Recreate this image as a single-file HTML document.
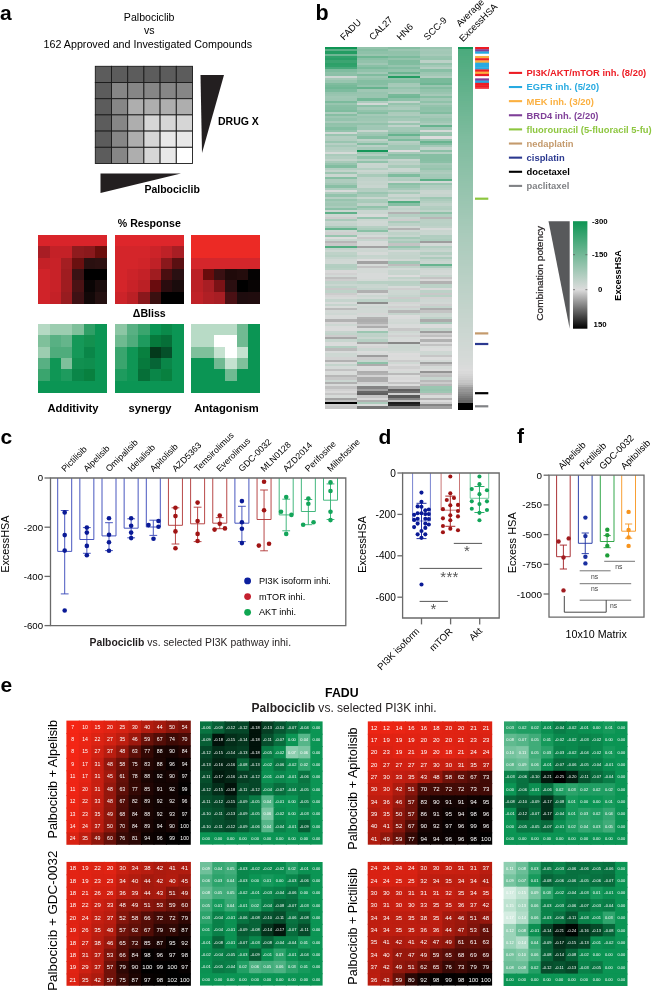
<!DOCTYPE html>
<html><head><meta charset="utf-8"><title>Figure</title>
<style>html,body{margin:0;padding:0;background:#fff}svg{display:block}text{font-family:"Liberation Sans", Arial, sans-serif}</style></head>
<body>
<svg width="652" height="991" viewBox="0 0 652 991">
<rect width="652" height="991" fill="#fff"/>
<text x="0.00" y="19.60" font-size="21" font-weight="700">a</text>
<text x="315.60" y="20.40" font-size="21.5" font-weight="700">b</text>
<text x="0.50" y="443.50" font-size="21" font-weight="700">c</text>
<text x="378.50" y="443.50" font-size="21" font-weight="700">d</text>
<text x="517.00" y="443.00" font-size="21" font-weight="700">f</text>
<text x="0.50" y="691.50" font-size="21" font-weight="700">e</text>
<g id="panel-a">
<text x="149.20" y="21.00" font-size="10.6" text-anchor="middle">Palbociclib</text>
<text x="149.20" y="34.30" font-size="10.6" text-anchor="middle">vs</text>
<text x="147.80" y="47.60" font-size="10.72" text-anchor="middle">162 Approved and Investigated Compounds</text>
<rect x="95.30" y="66.30" width="16.20" height="16.20" fill="#5c5c5c" stroke="#1a1a1a" stroke-width="0.9"/>
<rect x="111.50" y="66.30" width="16.20" height="16.20" fill="#5c5c5c" stroke="#1a1a1a" stroke-width="0.9"/>
<rect x="127.70" y="66.30" width="16.20" height="16.20" fill="#5c5c5c" stroke="#1a1a1a" stroke-width="0.9"/>
<rect x="143.90" y="66.30" width="16.20" height="16.20" fill="#5c5c5c" stroke="#1a1a1a" stroke-width="0.9"/>
<rect x="160.10" y="66.30" width="16.20" height="16.20" fill="#5c5c5c" stroke="#1a1a1a" stroke-width="0.9"/>
<rect x="176.30" y="66.30" width="16.20" height="16.20" fill="#5c5c5c" stroke="#1a1a1a" stroke-width="0.9"/>
<rect x="95.30" y="82.50" width="16.20" height="16.20" fill="#5c5c5c" stroke="#1a1a1a" stroke-width="0.9"/>
<rect x="111.50" y="82.50" width="16.20" height="16.20" fill="#868686" stroke="#1a1a1a" stroke-width="0.9"/>
<rect x="127.70" y="82.50" width="16.20" height="16.20" fill="#868686" stroke="#1a1a1a" stroke-width="0.9"/>
<rect x="143.90" y="82.50" width="16.20" height="16.20" fill="#868686" stroke="#1a1a1a" stroke-width="0.9"/>
<rect x="160.10" y="82.50" width="16.20" height="16.20" fill="#868686" stroke="#1a1a1a" stroke-width="0.9"/>
<rect x="176.30" y="82.50" width="16.20" height="16.20" fill="#868686" stroke="#1a1a1a" stroke-width="0.9"/>
<rect x="95.30" y="98.70" width="16.20" height="16.20" fill="#5c5c5c" stroke="#1a1a1a" stroke-width="0.9"/>
<rect x="111.50" y="98.70" width="16.20" height="16.20" fill="#868686" stroke="#1a1a1a" stroke-width="0.9"/>
<rect x="127.70" y="98.70" width="16.20" height="16.20" fill="#aeaeae" stroke="#1a1a1a" stroke-width="0.9"/>
<rect x="143.90" y="98.70" width="16.20" height="16.20" fill="#aeaeae" stroke="#1a1a1a" stroke-width="0.9"/>
<rect x="160.10" y="98.70" width="16.20" height="16.20" fill="#aeaeae" stroke="#1a1a1a" stroke-width="0.9"/>
<rect x="176.30" y="98.70" width="16.20" height="16.20" fill="#aeaeae" stroke="#1a1a1a" stroke-width="0.9"/>
<rect x="95.30" y="114.90" width="16.20" height="16.20" fill="#5c5c5c" stroke="#1a1a1a" stroke-width="0.9"/>
<rect x="111.50" y="114.90" width="16.20" height="16.20" fill="#868686" stroke="#1a1a1a" stroke-width="0.9"/>
<rect x="127.70" y="114.90" width="16.20" height="16.20" fill="#aeaeae" stroke="#1a1a1a" stroke-width="0.9"/>
<rect x="143.90" y="114.90" width="16.20" height="16.20" fill="#d6d6d6" stroke="#1a1a1a" stroke-width="0.9"/>
<rect x="160.10" y="114.90" width="16.20" height="16.20" fill="#d6d6d6" stroke="#1a1a1a" stroke-width="0.9"/>
<rect x="176.30" y="114.90" width="16.20" height="16.20" fill="#d6d6d6" stroke="#1a1a1a" stroke-width="0.9"/>
<rect x="95.30" y="131.10" width="16.20" height="16.20" fill="#5c5c5c" stroke="#1a1a1a" stroke-width="0.9"/>
<rect x="111.50" y="131.10" width="16.20" height="16.20" fill="#868686" stroke="#1a1a1a" stroke-width="0.9"/>
<rect x="127.70" y="131.10" width="16.20" height="16.20" fill="#aeaeae" stroke="#1a1a1a" stroke-width="0.9"/>
<rect x="143.90" y="131.10" width="16.20" height="16.20" fill="#d6d6d6" stroke="#1a1a1a" stroke-width="0.9"/>
<rect x="160.10" y="131.10" width="16.20" height="16.20" fill="#e8e8e8" stroke="#1a1a1a" stroke-width="0.9"/>
<rect x="176.30" y="131.10" width="16.20" height="16.20" fill="#e8e8e8" stroke="#1a1a1a" stroke-width="0.9"/>
<rect x="95.30" y="147.30" width="16.20" height="16.20" fill="#5c5c5c" stroke="#1a1a1a" stroke-width="0.9"/>
<rect x="111.50" y="147.30" width="16.20" height="16.20" fill="#868686" stroke="#1a1a1a" stroke-width="0.9"/>
<rect x="127.70" y="147.30" width="16.20" height="16.20" fill="#aeaeae" stroke="#1a1a1a" stroke-width="0.9"/>
<rect x="143.90" y="147.30" width="16.20" height="16.20" fill="#d6d6d6" stroke="#1a1a1a" stroke-width="0.9"/>
<rect x="160.10" y="147.30" width="16.20" height="16.20" fill="#e8e8e8" stroke="#1a1a1a" stroke-width="0.9"/>
<rect x="176.30" y="147.30" width="16.20" height="16.20" fill="#ffffff" stroke="#1a1a1a" stroke-width="0.9"/>
<polygon points="200.5,75 224,75 202,153" fill="#231f20"/>
<polygon points="100.5,173.6 181,173.6 100.5,193" fill="#231f20"/>
<text x="218.00" y="124.50" font-size="10.5" font-weight="700">DRUG X</text>
<text x="144.40" y="193.00" font-size="10.5" font-weight="700">Palbociclib</text>
<text x="149.30" y="227.30" font-size="10.6" font-weight="700" text-anchor="middle">% Response</text>
<text x="149.30" y="316.70" font-size="10.6" font-weight="700" text-anchor="middle">ΔBliss</text>
<g shape-rendering="crispEdges">
<rect x="38.10" y="234.80" width="11.72" height="11.72" fill="#d9242a"/>
<rect x="49.52" y="234.80" width="11.72" height="11.72" fill="#d9242a"/>
<rect x="60.93" y="234.80" width="11.72" height="11.72" fill="#d9242a"/>
<rect x="72.35" y="234.80" width="11.72" height="11.72" fill="#d9242a"/>
<rect x="83.77" y="234.80" width="11.72" height="11.72" fill="#d9242a"/>
<rect x="95.18" y="234.80" width="11.72" height="11.72" fill="#d9242a"/>
<rect x="38.10" y="246.22" width="11.72" height="11.72" fill="#a81d24"/>
<rect x="49.52" y="246.22" width="11.72" height="11.72" fill="#c42127"/>
<rect x="60.93" y="246.22" width="11.72" height="11.72" fill="#c42127"/>
<rect x="72.35" y="246.22" width="11.72" height="11.72" fill="#8f1b1e"/>
<rect x="83.77" y="246.22" width="11.72" height="11.72" fill="#8a191c"/>
<rect x="95.18" y="246.22" width="11.72" height="11.72" fill="#6b0e0c"/>
<rect x="38.10" y="257.63" width="11.72" height="11.72" fill="#c42127"/>
<rect x="49.52" y="257.63" width="11.72" height="11.72" fill="#c82228"/>
<rect x="60.93" y="257.63" width="11.72" height="11.72" fill="#a41e22"/>
<rect x="72.35" y="257.63" width="11.72" height="11.72" fill="#6a1010"/>
<rect x="83.77" y="257.63" width="11.72" height="11.72" fill="#2a1010"/>
<rect x="95.18" y="257.63" width="11.72" height="11.72" fill="#2d1111"/>
<rect x="38.10" y="269.05" width="11.72" height="11.72" fill="#d02329"/>
<rect x="49.52" y="269.05" width="11.72" height="11.72" fill="#c82228"/>
<rect x="60.93" y="269.05" width="11.72" height="11.72" fill="#9f1c20"/>
<rect x="72.35" y="269.05" width="11.72" height="11.72" fill="#3a1214"/>
<rect x="83.77" y="269.05" width="11.72" height="11.72" fill="#000000"/>
<rect x="95.18" y="269.05" width="11.72" height="11.72" fill="#000000"/>
<rect x="38.10" y="280.47" width="11.72" height="11.72" fill="#d02329"/>
<rect x="49.52" y="280.47" width="11.72" height="11.72" fill="#c82228"/>
<rect x="60.93" y="280.47" width="11.72" height="11.72" fill="#9f1c20"/>
<rect x="72.35" y="280.47" width="11.72" height="11.72" fill="#4a1214"/>
<rect x="83.77" y="280.47" width="11.72" height="11.72" fill="#0a0505"/>
<rect x="95.18" y="280.47" width="11.72" height="11.72" fill="#1a0c0c"/>
<rect x="38.10" y="291.88" width="11.72" height="11.72" fill="#d02329"/>
<rect x="49.52" y="291.88" width="11.72" height="11.72" fill="#c42127"/>
<rect x="60.93" y="291.88" width="11.72" height="11.72" fill="#981c20"/>
<rect x="72.35" y="291.88" width="11.72" height="11.72" fill="#3e1114"/>
<rect x="83.77" y="291.88" width="11.72" height="11.72" fill="#120808"/>
<rect x="95.18" y="291.88" width="11.72" height="11.72" fill="#241010"/>
</g>
<g shape-rendering="crispEdges">
<rect x="115.40" y="234.80" width="11.72" height="11.72" fill="#de262b"/>
<rect x="126.82" y="234.80" width="11.72" height="11.72" fill="#de262b"/>
<rect x="138.23" y="234.80" width="11.72" height="11.72" fill="#de262b"/>
<rect x="149.65" y="234.80" width="11.72" height="11.72" fill="#de262b"/>
<rect x="161.07" y="234.80" width="11.72" height="11.72" fill="#de262b"/>
<rect x="172.48" y="234.80" width="11.72" height="11.72" fill="#de262b"/>
<rect x="115.40" y="246.22" width="11.72" height="11.72" fill="#d4252a"/>
<rect x="126.82" y="246.22" width="11.72" height="11.72" fill="#d4252a"/>
<rect x="138.23" y="246.22" width="11.72" height="11.72" fill="#d4252a"/>
<rect x="149.65" y="246.22" width="11.72" height="11.72" fill="#cc2329"/>
<rect x="161.07" y="246.22" width="11.72" height="11.72" fill="#be2127"/>
<rect x="172.48" y="246.22" width="11.72" height="11.72" fill="#a81e24"/>
<rect x="115.40" y="257.63" width="11.72" height="11.72" fill="#d4252a"/>
<rect x="126.82" y="257.63" width="11.72" height="11.72" fill="#d4252a"/>
<rect x="138.23" y="257.63" width="11.72" height="11.72" fill="#d02429"/>
<rect x="149.65" y="257.63" width="11.72" height="11.72" fill="#c02127"/>
<rect x="161.07" y="257.63" width="11.72" height="11.72" fill="#8a181c"/>
<rect x="172.48" y="257.63" width="11.72" height="11.72" fill="#5a1012"/>
<rect x="115.40" y="269.05" width="11.72" height="11.72" fill="#d4252a"/>
<rect x="126.82" y="269.05" width="11.72" height="11.72" fill="#cc2329"/>
<rect x="138.23" y="269.05" width="11.72" height="11.72" fill="#c42127"/>
<rect x="149.65" y="269.05" width="11.72" height="11.72" fill="#a01c20"/>
<rect x="161.07" y="269.05" width="11.72" height="11.72" fill="#4a0e10"/>
<rect x="172.48" y="269.05" width="11.72" height="11.72" fill="#2a1012"/>
<rect x="115.40" y="280.47" width="11.72" height="11.72" fill="#d4252a"/>
<rect x="126.82" y="280.47" width="11.72" height="11.72" fill="#c82228"/>
<rect x="138.23" y="280.47" width="11.72" height="11.72" fill="#bb2025"/>
<rect x="149.65" y="280.47" width="11.72" height="11.72" fill="#6a0c0e"/>
<rect x="161.07" y="280.47" width="11.72" height="11.72" fill="#2a0c0e"/>
<rect x="172.48" y="280.47" width="11.72" height="11.72" fill="#1a0c0c"/>
<rect x="115.40" y="291.88" width="11.72" height="11.72" fill="#cc2329"/>
<rect x="126.82" y="291.88" width="11.72" height="11.72" fill="#bb2025"/>
<rect x="138.23" y="291.88" width="11.72" height="11.72" fill="#8a181c"/>
<rect x="149.65" y="291.88" width="11.72" height="11.72" fill="#3a1010"/>
<rect x="161.07" y="291.88" width="11.72" height="11.72" fill="#000000"/>
<rect x="172.48" y="291.88" width="11.72" height="11.72" fill="#000000"/>
</g>
<g shape-rendering="crispEdges">
<rect x="191.20" y="234.80" width="11.72" height="11.72" fill="#ec2a25"/>
<rect x="202.62" y="234.80" width="11.72" height="11.72" fill="#ec2a25"/>
<rect x="214.03" y="234.80" width="11.72" height="11.72" fill="#ec2a25"/>
<rect x="225.45" y="234.80" width="11.72" height="11.72" fill="#ec2a25"/>
<rect x="236.87" y="234.80" width="11.72" height="11.72" fill="#ec2a25"/>
<rect x="248.28" y="234.80" width="11.72" height="11.72" fill="#ec2a25"/>
<rect x="191.20" y="246.22" width="11.72" height="11.72" fill="#ec2a25"/>
<rect x="202.62" y="246.22" width="11.72" height="11.72" fill="#ec2a25"/>
<rect x="214.03" y="246.22" width="11.72" height="11.72" fill="#ec2a25"/>
<rect x="225.45" y="246.22" width="11.72" height="11.72" fill="#ec2a25"/>
<rect x="236.87" y="246.22" width="11.72" height="11.72" fill="#ec2a25"/>
<rect x="248.28" y="246.22" width="11.72" height="11.72" fill="#ec2a25"/>
<rect x="191.20" y="257.63" width="11.72" height="11.72" fill="#d4262b"/>
<rect x="202.62" y="257.63" width="11.72" height="11.72" fill="#d4262b"/>
<rect x="214.03" y="257.63" width="11.72" height="11.72" fill="#d4262b"/>
<rect x="225.45" y="257.63" width="11.72" height="11.72" fill="#d4262b"/>
<rect x="236.87" y="257.63" width="11.72" height="11.72" fill="#d4262b"/>
<rect x="248.28" y="257.63" width="11.72" height="11.72" fill="#d4262b"/>
<rect x="191.20" y="269.05" width="11.72" height="11.72" fill="#bb2025"/>
<rect x="202.62" y="269.05" width="11.72" height="11.72" fill="#6a0c0c"/>
<rect x="214.03" y="269.05" width="11.72" height="11.72" fill="#3a1012"/>
<rect x="225.45" y="269.05" width="11.72" height="11.72" fill="#200a0a"/>
<rect x="236.87" y="269.05" width="11.72" height="11.72" fill="#240c0c"/>
<rect x="248.28" y="269.05" width="11.72" height="11.72" fill="#050303"/>
<rect x="191.20" y="280.47" width="11.72" height="11.72" fill="#bb2025"/>
<rect x="202.62" y="280.47" width="11.72" height="11.72" fill="#a81e24"/>
<rect x="214.03" y="280.47" width="11.72" height="11.72" fill="#7a1216"/>
<rect x="225.45" y="280.47" width="11.72" height="11.72" fill="#2a0e10"/>
<rect x="236.87" y="280.47" width="11.72" height="11.72" fill="#000000"/>
<rect x="248.28" y="280.47" width="11.72" height="11.72" fill="#080404"/>
<rect x="191.20" y="291.88" width="11.72" height="11.72" fill="#c02127"/>
<rect x="202.62" y="291.88" width="11.72" height="11.72" fill="#b01f25"/>
<rect x="214.03" y="291.88" width="11.72" height="11.72" fill="#a81e24"/>
<rect x="225.45" y="291.88" width="11.72" height="11.72" fill="#4a1014"/>
<rect x="236.87" y="291.88" width="11.72" height="11.72" fill="#1e0c0e"/>
<rect x="248.28" y="291.88" width="11.72" height="11.72" fill="#200c0e"/>
</g>
<g shape-rendering="crispEdges">
<rect x="38.10" y="323.80" width="11.72" height="11.72" fill="#b5d9c3"/>
<rect x="49.52" y="323.80" width="11.72" height="11.72" fill="#9ccdb0"/>
<rect x="60.93" y="323.80" width="11.72" height="11.72" fill="#9ccdb0"/>
<rect x="72.35" y="323.80" width="11.72" height="11.72" fill="#7fc09b"/>
<rect x="83.77" y="323.80" width="11.72" height="11.72" fill="#2f9f66"/>
<rect x="95.18" y="323.80" width="11.72" height="11.72" fill="#0b9554"/>
<rect x="38.10" y="335.22" width="11.72" height="11.72" fill="#7fc09b"/>
<rect x="49.52" y="335.22" width="11.72" height="11.72" fill="#58b083"/>
<rect x="60.93" y="335.22" width="11.72" height="11.72" fill="#65b58b"/>
<rect x="72.35" y="335.22" width="11.72" height="11.72" fill="#159858"/>
<rect x="83.77" y="335.22" width="11.72" height="11.72" fill="#13914f"/>
<rect x="95.18" y="335.22" width="11.72" height="11.72" fill="#0b9554"/>
<rect x="38.10" y="346.63" width="11.72" height="11.72" fill="#9ccdb0"/>
<rect x="49.52" y="346.63" width="11.72" height="11.72" fill="#4fac7c"/>
<rect x="60.93" y="346.63" width="11.72" height="11.72" fill="#4fac7c"/>
<rect x="72.35" y="346.63" width="11.72" height="11.72" fill="#159858"/>
<rect x="83.77" y="346.63" width="11.72" height="11.72" fill="#0a8648"/>
<rect x="95.18" y="346.63" width="11.72" height="11.72" fill="#0b9554"/>
<rect x="38.10" y="358.05" width="11.72" height="11.72" fill="#58b083"/>
<rect x="49.52" y="358.05" width="11.72" height="11.72" fill="#0f9655"/>
<rect x="60.93" y="358.05" width="11.72" height="11.72" fill="#7fc09b"/>
<rect x="72.35" y="358.05" width="11.72" height="11.72" fill="#119050"/>
<rect x="83.77" y="358.05" width="11.72" height="11.72" fill="#0f8e4e"/>
<rect x="95.18" y="358.05" width="11.72" height="11.72" fill="#0b9554"/>
<rect x="38.10" y="369.47" width="11.72" height="11.72" fill="#3aa56e"/>
<rect x="49.52" y="369.47" width="11.72" height="11.72" fill="#0f9655"/>
<rect x="60.93" y="369.47" width="11.72" height="11.72" fill="#1e9b5e"/>
<rect x="72.35" y="369.47" width="11.72" height="11.72" fill="#0a8648"/>
<rect x="83.77" y="369.47" width="11.72" height="11.72" fill="#08803f"/>
<rect x="95.18" y="369.47" width="11.72" height="11.72" fill="#0b9554"/>
<rect x="38.10" y="380.88" width="11.72" height="11.72" fill="#0b9554"/>
<rect x="49.52" y="380.88" width="11.72" height="11.72" fill="#0b9554"/>
<rect x="60.93" y="380.88" width="11.72" height="11.72" fill="#0b9554"/>
<rect x="72.35" y="380.88" width="11.72" height="11.72" fill="#0b9554"/>
<rect x="83.77" y="380.88" width="11.72" height="11.72" fill="#0b9554"/>
<rect x="95.18" y="380.88" width="11.72" height="11.72" fill="#0b9554"/>
</g>
<g shape-rendering="crispEdges">
<rect x="115.40" y="323.80" width="11.72" height="11.72" fill="#8cc6a4"/>
<rect x="126.82" y="323.80" width="11.72" height="11.72" fill="#58b083"/>
<rect x="138.23" y="323.80" width="11.72" height="11.72" fill="#3aa56e"/>
<rect x="149.65" y="323.80" width="11.72" height="11.72" fill="#0b9554"/>
<rect x="161.07" y="323.80" width="11.72" height="11.72" fill="#0a8a4a"/>
<rect x="172.48" y="323.80" width="11.72" height="11.72" fill="#0b9554"/>
<rect x="115.40" y="335.22" width="11.72" height="11.72" fill="#6fba90"/>
<rect x="126.82" y="335.22" width="11.72" height="11.72" fill="#4fac7c"/>
<rect x="138.23" y="335.22" width="11.72" height="11.72" fill="#1e9b5e"/>
<rect x="149.65" y="335.22" width="11.72" height="11.72" fill="#067a3c"/>
<rect x="161.07" y="335.22" width="11.72" height="11.72" fill="#066f38"/>
<rect x="172.48" y="335.22" width="11.72" height="11.72" fill="#0b9554"/>
<rect x="115.40" y="346.63" width="11.72" height="11.72" fill="#3aa56e"/>
<rect x="126.82" y="346.63" width="11.72" height="11.72" fill="#0f9655"/>
<rect x="138.23" y="346.63" width="11.72" height="11.72" fill="#08803f"/>
<rect x="149.65" y="346.63" width="11.72" height="11.72" fill="#043a1c"/>
<rect x="161.07" y="346.63" width="11.72" height="11.72" fill="#05502a"/>
<rect x="172.48" y="346.63" width="11.72" height="11.72" fill="#0b9554"/>
<rect x="115.40" y="358.05" width="11.72" height="11.72" fill="#3aa56e"/>
<rect x="126.82" y="358.05" width="11.72" height="11.72" fill="#0f9655"/>
<rect x="138.23" y="358.05" width="11.72" height="11.72" fill="#077a3d"/>
<rect x="149.65" y="358.05" width="11.72" height="11.72" fill="#066536"/>
<rect x="161.07" y="358.05" width="11.72" height="11.72" fill="#0a8648"/>
<rect x="172.48" y="358.05" width="11.72" height="11.72" fill="#0b9554"/>
<rect x="115.40" y="369.47" width="11.72" height="11.72" fill="#1e9b5e"/>
<rect x="126.82" y="369.47" width="11.72" height="11.72" fill="#0f9655"/>
<rect x="138.23" y="369.47" width="11.72" height="11.72" fill="#066f38"/>
<rect x="149.65" y="369.47" width="11.72" height="11.72" fill="#0a8648"/>
<rect x="161.07" y="369.47" width="11.72" height="11.72" fill="#08803f"/>
<rect x="172.48" y="369.47" width="11.72" height="11.72" fill="#0b9554"/>
<rect x="115.40" y="380.88" width="11.72" height="11.72" fill="#0b9554"/>
<rect x="126.82" y="380.88" width="11.72" height="11.72" fill="#0b9554"/>
<rect x="138.23" y="380.88" width="11.72" height="11.72" fill="#0b9554"/>
<rect x="149.65" y="380.88" width="11.72" height="11.72" fill="#0b9554"/>
<rect x="161.07" y="380.88" width="11.72" height="11.72" fill="#0b9554"/>
<rect x="172.48" y="380.88" width="11.72" height="11.72" fill="#0b9554"/>
</g>
<g shape-rendering="crispEdges">
<rect x="191.20" y="323.80" width="11.72" height="11.72" fill="#b8dbc6"/>
<rect x="202.62" y="323.80" width="11.72" height="11.72" fill="#b8dbc6"/>
<rect x="214.03" y="323.80" width="11.72" height="11.72" fill="#b8dbc6"/>
<rect x="225.45" y="323.80" width="11.72" height="11.72" fill="#b8dbc6"/>
<rect x="236.87" y="323.80" width="11.72" height="11.72" fill="#70ba92"/>
<rect x="248.28" y="323.80" width="11.72" height="11.72" fill="#0b9554"/>
<rect x="191.20" y="335.22" width="11.72" height="11.72" fill="#b8dbc6"/>
<rect x="202.62" y="335.22" width="11.72" height="11.72" fill="#b8dbc6"/>
<rect x="214.03" y="335.22" width="11.72" height="11.72" fill="#ffffff"/>
<rect x="225.45" y="335.22" width="11.72" height="11.72" fill="#ffffff"/>
<rect x="236.87" y="335.22" width="11.72" height="11.72" fill="#70ba92"/>
<rect x="248.28" y="335.22" width="11.72" height="11.72" fill="#0b9554"/>
<rect x="191.20" y="346.63" width="11.72" height="11.72" fill="#7fc09b"/>
<rect x="202.62" y="346.63" width="11.72" height="11.72" fill="#7fc09b"/>
<rect x="214.03" y="346.63" width="11.72" height="11.72" fill="#c5e2d0"/>
<rect x="225.45" y="346.63" width="11.72" height="11.72" fill="#ffffff"/>
<rect x="236.87" y="346.63" width="11.72" height="11.72" fill="#c5e2d0"/>
<rect x="248.28" y="346.63" width="11.72" height="11.72" fill="#0b9554"/>
<rect x="191.20" y="358.05" width="11.72" height="11.72" fill="#0b9554"/>
<rect x="202.62" y="358.05" width="11.72" height="11.72" fill="#0b9554"/>
<rect x="214.03" y="358.05" width="11.72" height="11.72" fill="#70ba92"/>
<rect x="225.45" y="358.05" width="11.72" height="11.72" fill="#c5e2d0"/>
<rect x="236.87" y="358.05" width="11.72" height="11.72" fill="#7fc09b"/>
<rect x="248.28" y="358.05" width="11.72" height="11.72" fill="#0b9554"/>
<rect x="191.20" y="369.47" width="11.72" height="11.72" fill="#0b9554"/>
<rect x="202.62" y="369.47" width="11.72" height="11.72" fill="#0b9554"/>
<rect x="214.03" y="369.47" width="11.72" height="11.72" fill="#0b9554"/>
<rect x="225.45" y="369.47" width="11.72" height="11.72" fill="#70ba92"/>
<rect x="236.87" y="369.47" width="11.72" height="11.72" fill="#0b9554"/>
<rect x="248.28" y="369.47" width="11.72" height="11.72" fill="#0b9554"/>
<rect x="191.20" y="380.88" width="11.72" height="11.72" fill="#0b9554"/>
<rect x="202.62" y="380.88" width="11.72" height="11.72" fill="#0b9554"/>
<rect x="214.03" y="380.88" width="11.72" height="11.72" fill="#0b9554"/>
<rect x="225.45" y="380.88" width="11.72" height="11.72" fill="#0b9554"/>
<rect x="236.87" y="380.88" width="11.72" height="11.72" fill="#0b9554"/>
<rect x="248.28" y="380.88" width="11.72" height="11.72" fill="#0b9554"/>
</g>
<text x="73.00" y="412.00" font-size="11.2" font-weight="700" text-anchor="middle">Additivity</text>
<text x="150.00" y="412.00" font-size="11.2" font-weight="700" text-anchor="middle">synergy</text>
<text x="226.50" y="412.00" font-size="11.2" font-weight="700" text-anchor="middle">Antagonism</text>
</g>
<g id="panel-b">
<g shape-rendering="crispEdges">
<rect x="325.00" y="47.00" width="31.90" height="2.53" fill="#0e9554"/>
<rect x="356.70" y="47.00" width="31.90" height="2.53" fill="#92c3ab"/>
<rect x="388.40" y="47.00" width="31.90" height="2.53" fill="#86bea3"/>
<rect x="420.10" y="47.00" width="31.90" height="2.53" fill="#99c5b0"/>
<rect x="325.00" y="49.23" width="31.90" height="2.53" fill="#5aaf86"/>
<rect x="356.70" y="49.23" width="31.90" height="2.53" fill="#86bea3"/>
<rect x="388.40" y="49.23" width="31.90" height="2.53" fill="#9cc6b2"/>
<rect x="420.10" y="49.23" width="31.90" height="2.53" fill="#a5c9b8"/>
<rect x="325.00" y="51.47" width="31.90" height="2.53" fill="#239c62"/>
<rect x="356.70" y="51.47" width="31.90" height="2.53" fill="#8ec1a9"/>
<rect x="388.40" y="51.47" width="31.90" height="2.53" fill="#91c2aa"/>
<rect x="420.10" y="51.47" width="31.90" height="2.53" fill="#a2c8b6"/>
<rect x="325.00" y="53.70" width="31.90" height="2.53" fill="#6eb693"/>
<rect x="356.70" y="53.70" width="31.90" height="2.53" fill="#99c5af"/>
<rect x="388.40" y="53.70" width="31.90" height="2.53" fill="#93c3ac"/>
<rect x="420.10" y="53.70" width="31.90" height="2.53" fill="#a7cab9"/>
<rect x="325.00" y="55.93" width="31.90" height="2.53" fill="#30a16b"/>
<rect x="356.70" y="55.93" width="31.90" height="2.53" fill="#6eb693"/>
<rect x="388.40" y="55.93" width="31.90" height="2.53" fill="#7cbb9d"/>
<rect x="420.10" y="55.93" width="31.90" height="2.53" fill="#98c4af"/>
<rect x="325.00" y="58.16" width="31.90" height="2.53" fill="#299e66"/>
<rect x="356.70" y="58.16" width="31.90" height="2.53" fill="#8ac0a6"/>
<rect x="388.40" y="58.16" width="31.90" height="2.53" fill="#94c3ac"/>
<rect x="420.10" y="58.16" width="31.90" height="2.53" fill="#95c4ad"/>
<rect x="325.00" y="60.40" width="31.90" height="2.53" fill="#3ba471"/>
<rect x="356.70" y="60.40" width="31.90" height="2.53" fill="#92c2ab"/>
<rect x="388.40" y="60.40" width="31.90" height="2.53" fill="#80bc9f"/>
<rect x="420.10" y="60.40" width="31.90" height="2.53" fill="#bcd1c7"/>
<rect x="325.00" y="62.63" width="31.90" height="2.53" fill="#2da068"/>
<rect x="356.70" y="62.63" width="31.90" height="2.53" fill="#9fc7b4"/>
<rect x="388.40" y="62.63" width="31.90" height="2.53" fill="#81bda0"/>
<rect x="420.10" y="62.63" width="31.90" height="2.53" fill="#94c3ac"/>
<rect x="325.00" y="64.86" width="31.90" height="2.53" fill="#30a16b"/>
<rect x="356.70" y="64.86" width="31.90" height="2.53" fill="#8ac0a6"/>
<rect x="388.40" y="64.86" width="31.90" height="2.53" fill="#96c4ae"/>
<rect x="420.10" y="64.86" width="31.90" height="2.53" fill="#a4c9b7"/>
<rect x="325.00" y="67.09" width="31.90" height="2.53" fill="#48a97b"/>
<rect x="356.70" y="67.09" width="31.90" height="2.53" fill="#7cbb9d"/>
<rect x="388.40" y="67.09" width="31.90" height="2.53" fill="#83bda2"/>
<rect x="420.10" y="67.09" width="31.90" height="2.53" fill="#b5cec2"/>
<rect x="325.00" y="69.33" width="31.90" height="2.53" fill="#7fbc9f"/>
<rect x="356.70" y="69.33" width="31.90" height="2.53" fill="#90c2aa"/>
<rect x="388.40" y="69.33" width="31.90" height="2.53" fill="#93c3ac"/>
<rect x="420.10" y="69.33" width="31.90" height="2.53" fill="#88bfa5"/>
<rect x="325.00" y="71.56" width="31.90" height="2.53" fill="#8ec1a8"/>
<rect x="356.70" y="71.56" width="31.90" height="2.53" fill="#a2c8b6"/>
<rect x="388.40" y="71.56" width="31.90" height="2.53" fill="#6cb592"/>
<rect x="420.10" y="71.56" width="31.90" height="2.53" fill="#9cc6b2"/>
<rect x="325.00" y="73.79" width="31.90" height="2.53" fill="#8bc0a7"/>
<rect x="356.70" y="73.79" width="31.90" height="2.53" fill="#80bc9f"/>
<rect x="388.40" y="73.79" width="31.90" height="2.53" fill="#95c4ad"/>
<rect x="420.10" y="73.79" width="31.90" height="2.53" fill="#a1c8b5"/>
<rect x="325.00" y="76.03" width="31.90" height="2.53" fill="#ced7d3"/>
<rect x="356.70" y="76.03" width="31.90" height="2.53" fill="#9ec7b3"/>
<rect x="388.40" y="76.03" width="31.90" height="2.53" fill="#239c62"/>
<rect x="420.10" y="76.03" width="31.90" height="2.53" fill="#b2cdc0"/>
<rect x="325.00" y="78.26" width="31.90" height="2.53" fill="#a6c9b8"/>
<rect x="356.70" y="78.26" width="31.90" height="2.53" fill="#94c3ac"/>
<rect x="388.40" y="78.26" width="31.90" height="2.53" fill="#90c2aa"/>
<rect x="420.10" y="78.26" width="31.90" height="2.53" fill="#79ba9a"/>
<rect x="325.00" y="80.49" width="31.90" height="2.53" fill="#98c5af"/>
<rect x="356.70" y="80.49" width="31.90" height="2.53" fill="#84bea2"/>
<rect x="388.40" y="80.49" width="31.90" height="2.53" fill="#87bfa4"/>
<rect x="420.10" y="80.49" width="31.90" height="2.53" fill="#79ba9b"/>
<rect x="325.00" y="82.72" width="31.90" height="2.53" fill="#7fbc9e"/>
<rect x="356.70" y="82.72" width="31.90" height="2.53" fill="#86bea3"/>
<rect x="388.40" y="82.72" width="31.90" height="2.53" fill="#a4c9b7"/>
<rect x="420.10" y="82.72" width="31.90" height="2.53" fill="#6db693"/>
<rect x="325.00" y="84.96" width="31.90" height="2.53" fill="#77b999"/>
<rect x="356.70" y="84.96" width="31.90" height="2.53" fill="#93c3ac"/>
<rect x="388.40" y="84.96" width="31.90" height="2.53" fill="#a7cab9"/>
<rect x="420.10" y="84.96" width="31.90" height="2.53" fill="#99c5b0"/>
<rect x="325.00" y="87.19" width="31.90" height="2.53" fill="#70b795"/>
<rect x="356.70" y="87.19" width="31.90" height="2.53" fill="#66b38e"/>
<rect x="388.40" y="87.19" width="31.90" height="2.53" fill="#95c4ad"/>
<rect x="420.10" y="87.19" width="31.90" height="2.53" fill="#83bda1"/>
<rect x="325.00" y="89.42" width="31.90" height="2.53" fill="#7dbb9e"/>
<rect x="356.70" y="89.42" width="31.90" height="2.53" fill="#a0c7b4"/>
<rect x="388.40" y="89.42" width="31.90" height="2.53" fill="#a2c8b6"/>
<rect x="420.10" y="89.42" width="31.90" height="2.53" fill="#92c3ab"/>
<rect x="325.00" y="91.65" width="31.90" height="2.53" fill="#94c3ad"/>
<rect x="356.70" y="91.65" width="31.90" height="2.53" fill="#97c4af"/>
<rect x="388.40" y="91.65" width="31.90" height="2.53" fill="#abcbbb"/>
<rect x="420.10" y="91.65" width="31.90" height="2.53" fill="#9ac5b1"/>
<rect x="325.00" y="93.89" width="31.90" height="2.53" fill="#99c5b0"/>
<rect x="356.70" y="93.89" width="31.90" height="2.53" fill="#9ac5b0"/>
<rect x="388.40" y="93.89" width="31.90" height="2.53" fill="#77b999"/>
<rect x="420.10" y="93.89" width="31.90" height="2.53" fill="#a6c9b8"/>
<rect x="325.00" y="96.12" width="31.90" height="2.53" fill="#a1c8b5"/>
<rect x="356.70" y="96.12" width="31.90" height="2.53" fill="#9ac5b0"/>
<rect x="388.40" y="96.12" width="31.90" height="2.53" fill="#71b795"/>
<rect x="420.10" y="96.12" width="31.90" height="2.53" fill="#87bfa4"/>
<rect x="325.00" y="98.35" width="31.90" height="2.53" fill="#9fc7b4"/>
<rect x="356.70" y="98.35" width="31.90" height="2.53" fill="#74b897"/>
<rect x="388.40" y="98.35" width="31.90" height="2.53" fill="#8ec1a9"/>
<rect x="420.10" y="98.35" width="31.90" height="2.53" fill="#a2c8b6"/>
<rect x="325.00" y="100.59" width="31.90" height="2.53" fill="#7cbb9d"/>
<rect x="356.70" y="100.59" width="31.90" height="2.53" fill="#acccbd"/>
<rect x="388.40" y="100.59" width="31.90" height="2.53" fill="#c1d3ca"/>
<rect x="420.10" y="100.59" width="31.90" height="2.53" fill="#8fc2a9"/>
<rect x="325.00" y="102.82" width="31.90" height="2.53" fill="#98c5af"/>
<rect x="356.70" y="102.82" width="31.90" height="2.53" fill="#d2d8d5"/>
<rect x="388.40" y="102.82" width="31.90" height="2.53" fill="#95c3ad"/>
<rect x="420.10" y="102.82" width="31.90" height="2.53" fill="#a6c9b8"/>
<rect x="325.00" y="105.05" width="31.90" height="2.53" fill="#89bfa5"/>
<rect x="356.70" y="105.05" width="31.90" height="2.53" fill="#8dc1a8"/>
<rect x="388.40" y="105.05" width="31.90" height="2.53" fill="#a5c9b7"/>
<rect x="420.10" y="105.05" width="31.90" height="2.53" fill="#94c3ac"/>
<rect x="325.00" y="107.28" width="31.90" height="2.53" fill="#86bea3"/>
<rect x="356.70" y="107.28" width="31.90" height="2.53" fill="#a4c9b7"/>
<rect x="388.40" y="107.28" width="31.90" height="2.53" fill="#acccbd"/>
<rect x="420.10" y="107.28" width="31.90" height="2.53" fill="#8dc1a8"/>
<rect x="325.00" y="109.52" width="31.90" height="2.53" fill="#7ebc9e"/>
<rect x="356.70" y="109.52" width="31.90" height="2.53" fill="#93c3ac"/>
<rect x="388.40" y="109.52" width="31.90" height="2.53" fill="#93c3ab"/>
<rect x="420.10" y="109.52" width="31.90" height="2.53" fill="#90c2aa"/>
<rect x="325.00" y="111.75" width="31.90" height="2.53" fill="#adccbd"/>
<rect x="356.70" y="111.75" width="31.90" height="2.53" fill="#85bea2"/>
<rect x="388.40" y="111.75" width="31.90" height="2.53" fill="#abcbbb"/>
<rect x="420.10" y="111.75" width="31.90" height="2.53" fill="#81bda0"/>
<rect x="325.00" y="113.98" width="31.90" height="2.53" fill="#86bea3"/>
<rect x="356.70" y="113.98" width="31.90" height="2.53" fill="#a4c9b7"/>
<rect x="388.40" y="113.98" width="31.90" height="2.53" fill="#aeccbd"/>
<rect x="420.10" y="113.98" width="31.90" height="2.53" fill="#a8caba"/>
<rect x="325.00" y="116.21" width="31.90" height="2.53" fill="#9ec7b3"/>
<rect x="356.70" y="116.21" width="31.90" height="2.53" fill="#9ac5b1"/>
<rect x="388.40" y="116.21" width="31.90" height="2.53" fill="#9ac5b1"/>
<rect x="420.10" y="116.21" width="31.90" height="2.53" fill="#a3c8b6"/>
<rect x="325.00" y="118.45" width="31.90" height="2.53" fill="#94c3ad"/>
<rect x="356.70" y="118.45" width="31.90" height="2.53" fill="#9ec7b3"/>
<rect x="388.40" y="118.45" width="31.90" height="2.53" fill="#a4c9b7"/>
<rect x="420.10" y="118.45" width="31.90" height="2.53" fill="#98c5af"/>
<rect x="325.00" y="120.68" width="31.90" height="2.53" fill="#a9caba"/>
<rect x="356.70" y="120.68" width="31.90" height="2.53" fill="#a5c9b7"/>
<rect x="388.40" y="120.68" width="31.90" height="2.53" fill="#c2d3cb"/>
<rect x="420.10" y="120.68" width="31.90" height="2.53" fill="#a0c7b4"/>
<rect x="325.00" y="122.91" width="31.90" height="2.53" fill="#91c2aa"/>
<rect x="356.70" y="122.91" width="31.90" height="2.53" fill="#92c2ab"/>
<rect x="388.40" y="122.91" width="31.90" height="2.53" fill="#99c5b0"/>
<rect x="420.10" y="122.91" width="31.90" height="2.53" fill="#adccbd"/>
<rect x="325.00" y="125.15" width="31.90" height="2.53" fill="#94c3ac"/>
<rect x="356.70" y="125.15" width="31.90" height="2.53" fill="#a2c8b6"/>
<rect x="388.40" y="125.15" width="31.90" height="2.53" fill="#c0d2ca"/>
<rect x="420.10" y="125.15" width="31.90" height="2.53" fill="#66b38e"/>
<rect x="325.00" y="127.38" width="31.90" height="2.53" fill="#84bea2"/>
<rect x="356.70" y="127.38" width="31.90" height="2.53" fill="#a0c7b5"/>
<rect x="388.40" y="127.38" width="31.90" height="2.53" fill="#a3c9b7"/>
<rect x="420.10" y="127.38" width="31.90" height="2.53" fill="#a0c7b5"/>
<rect x="325.00" y="129.61" width="31.90" height="2.53" fill="#93c3ac"/>
<rect x="356.70" y="129.61" width="31.90" height="2.53" fill="#c7d5ce"/>
<rect x="388.40" y="129.61" width="31.90" height="2.53" fill="#a2c8b6"/>
<rect x="420.10" y="129.61" width="31.90" height="2.53" fill="#d5dad7"/>
<rect x="325.00" y="131.84" width="31.90" height="2.53" fill="#cfd7d3"/>
<rect x="356.70" y="131.84" width="31.90" height="2.53" fill="#a4c9b7"/>
<rect x="388.40" y="131.84" width="31.90" height="2.53" fill="#91c2ab"/>
<rect x="420.10" y="131.84" width="31.90" height="2.53" fill="#9bc6b1"/>
<rect x="325.00" y="134.08" width="31.90" height="2.53" fill="#99c5b0"/>
<rect x="356.70" y="134.08" width="31.90" height="2.53" fill="#9cc6b2"/>
<rect x="388.40" y="134.08" width="31.90" height="2.53" fill="#65b38e"/>
<rect x="420.10" y="134.08" width="31.90" height="2.53" fill="#94c3ac"/>
<rect x="325.00" y="136.31" width="31.90" height="2.53" fill="#b3cec1"/>
<rect x="356.70" y="136.31" width="31.90" height="2.53" fill="#86bea3"/>
<rect x="388.40" y="136.31" width="31.90" height="2.53" fill="#9dc6b2"/>
<rect x="420.10" y="136.31" width="31.90" height="2.53" fill="#dcdcdc"/>
<rect x="325.00" y="138.54" width="31.90" height="2.53" fill="#b1cdbf"/>
<rect x="356.70" y="138.54" width="31.90" height="2.53" fill="#bed2c8"/>
<rect x="388.40" y="138.54" width="31.90" height="2.53" fill="#7cbb9d"/>
<rect x="420.10" y="138.54" width="31.90" height="2.53" fill="#98c5af"/>
<rect x="325.00" y="140.77" width="31.90" height="2.53" fill="#99c5b0"/>
<rect x="356.70" y="140.77" width="31.90" height="2.53" fill="#adccbd"/>
<rect x="388.40" y="140.77" width="31.90" height="2.53" fill="#b6cfc3"/>
<rect x="420.10" y="140.77" width="31.90" height="2.53" fill="#69b490"/>
<rect x="325.00" y="143.01" width="31.90" height="2.53" fill="#b7cfc4"/>
<rect x="356.70" y="143.01" width="31.90" height="2.53" fill="#83bda1"/>
<rect x="388.40" y="143.01" width="31.90" height="2.53" fill="#afccbe"/>
<rect x="420.10" y="143.01" width="31.90" height="2.53" fill="#82bda1"/>
<rect x="325.00" y="145.24" width="31.90" height="2.53" fill="#a5c9b8"/>
<rect x="356.70" y="145.24" width="31.90" height="2.53" fill="#bad0c6"/>
<rect x="388.40" y="145.24" width="31.90" height="2.53" fill="#9ec7b3"/>
<rect x="420.10" y="145.24" width="31.90" height="2.53" fill="#a5c9b8"/>
<rect x="325.00" y="147.47" width="31.90" height="2.53" fill="#b3cec1"/>
<rect x="356.70" y="147.47" width="31.90" height="2.53" fill="#a5c9b8"/>
<rect x="388.40" y="147.47" width="31.90" height="2.53" fill="#a0c7b5"/>
<rect x="420.10" y="147.47" width="31.90" height="2.53" fill="#c2d3cb"/>
<rect x="325.00" y="149.70" width="31.90" height="2.53" fill="#b9d0c5"/>
<rect x="356.70" y="149.70" width="31.90" height="2.53" fill="#159759"/>
<rect x="388.40" y="149.70" width="31.90" height="2.53" fill="#dcdcdc"/>
<rect x="420.10" y="149.70" width="31.90" height="2.53" fill="#8cc0a7"/>
<rect x="325.00" y="151.94" width="31.90" height="2.53" fill="#d5dad7"/>
<rect x="356.70" y="151.94" width="31.90" height="2.53" fill="#9fc7b3"/>
<rect x="388.40" y="151.94" width="31.90" height="2.53" fill="#a7cab9"/>
<rect x="420.10" y="151.94" width="31.90" height="2.53" fill="#b3cec1"/>
<rect x="325.00" y="154.17" width="31.90" height="2.53" fill="#aacbbb"/>
<rect x="356.70" y="154.17" width="31.90" height="2.53" fill="#b2cec0"/>
<rect x="388.40" y="154.17" width="31.90" height="2.53" fill="#86bea3"/>
<rect x="420.10" y="154.17" width="31.90" height="2.53" fill="#86bea3"/>
<rect x="325.00" y="156.40" width="31.90" height="2.53" fill="#b3cec1"/>
<rect x="356.70" y="156.40" width="31.90" height="2.53" fill="#92c3ab"/>
<rect x="388.40" y="156.40" width="31.90" height="2.53" fill="#91c2aa"/>
<rect x="420.10" y="156.40" width="31.90" height="2.53" fill="#86bea3"/>
<rect x="325.00" y="158.64" width="31.90" height="2.53" fill="#c1d3ca"/>
<rect x="356.70" y="158.64" width="31.90" height="2.53" fill="#b6cfc3"/>
<rect x="388.40" y="158.64" width="31.90" height="2.53" fill="#c5d4cd"/>
<rect x="420.10" y="158.64" width="31.90" height="2.53" fill="#86bea3"/>
<rect x="325.00" y="160.87" width="31.90" height="2.53" fill="#a8cab9"/>
<rect x="356.70" y="160.87" width="31.90" height="2.53" fill="#90c2aa"/>
<rect x="388.40" y="160.87" width="31.90" height="2.53" fill="#b7cfc4"/>
<rect x="420.10" y="160.87" width="31.90" height="2.53" fill="#8ac0a6"/>
<rect x="325.00" y="163.10" width="31.90" height="2.53" fill="#96c4ae"/>
<rect x="356.70" y="163.10" width="31.90" height="2.53" fill="#c9d5cf"/>
<rect x="388.40" y="163.10" width="31.90" height="2.53" fill="#bdd1c7"/>
<rect x="420.10" y="163.10" width="31.90" height="2.53" fill="#a5c9b8"/>
<rect x="325.00" y="165.33" width="31.90" height="2.53" fill="#81bda0"/>
<rect x="356.70" y="165.33" width="31.90" height="2.53" fill="#c6d5ce"/>
<rect x="388.40" y="165.33" width="31.90" height="2.53" fill="#a8cab9"/>
<rect x="420.10" y="165.33" width="31.90" height="2.53" fill="#9dc6b2"/>
<rect x="325.00" y="167.57" width="31.90" height="2.53" fill="#b3cec1"/>
<rect x="356.70" y="167.57" width="31.90" height="2.53" fill="#b3cec1"/>
<rect x="388.40" y="167.57" width="31.90" height="2.53" fill="#c9d6d0"/>
<rect x="420.10" y="167.57" width="31.90" height="2.53" fill="#95c4ad"/>
<rect x="325.00" y="169.80" width="31.90" height="2.53" fill="#c3d3cb"/>
<rect x="356.70" y="169.80" width="31.90" height="2.53" fill="#cad6d0"/>
<rect x="388.40" y="169.80" width="31.90" height="2.53" fill="#c9d6d0"/>
<rect x="420.10" y="169.80" width="31.90" height="2.53" fill="#a8cab9"/>
<rect x="325.00" y="172.03" width="31.90" height="2.53" fill="#9dc6b2"/>
<rect x="356.70" y="172.03" width="31.90" height="2.53" fill="#c1d3ca"/>
<rect x="388.40" y="172.03" width="31.90" height="2.53" fill="#afccbe"/>
<rect x="420.10" y="172.03" width="31.90" height="2.53" fill="#afccbe"/>
<rect x="325.00" y="174.26" width="31.90" height="2.53" fill="#cad6d0"/>
<rect x="356.70" y="174.26" width="31.90" height="2.53" fill="#a8cab9"/>
<rect x="388.40" y="174.26" width="31.90" height="2.53" fill="#7ebc9e"/>
<rect x="420.10" y="174.26" width="31.90" height="2.53" fill="#a5c9b8"/>
<rect x="325.00" y="176.50" width="31.90" height="2.53" fill="#88bfa4"/>
<rect x="356.70" y="176.50" width="31.90" height="2.53" fill="#bfd2c9"/>
<rect x="388.40" y="176.50" width="31.90" height="2.53" fill="#b4cec2"/>
<rect x="420.10" y="176.50" width="31.90" height="2.53" fill="#a1c8b5"/>
<rect x="325.00" y="178.73" width="31.90" height="2.53" fill="#afccbe"/>
<rect x="356.70" y="178.73" width="31.90" height="2.53" fill="#c0d2ca"/>
<rect x="388.40" y="178.73" width="31.90" height="2.53" fill="#b0cdbf"/>
<rect x="420.10" y="178.73" width="31.90" height="2.53" fill="#5aaf86"/>
<rect x="325.00" y="180.96" width="31.90" height="2.53" fill="#aeccbe"/>
<rect x="356.70" y="180.96" width="31.90" height="2.53" fill="#c5d4cd"/>
<rect x="388.40" y="180.96" width="31.90" height="2.53" fill="#ced7d3"/>
<rect x="420.10" y="180.96" width="31.90" height="2.53" fill="#d1d8d5"/>
<rect x="325.00" y="183.20" width="31.90" height="2.53" fill="#a3c8b6"/>
<rect x="356.70" y="183.20" width="31.90" height="2.53" fill="#c3d3cb"/>
<rect x="388.40" y="183.20" width="31.90" height="2.53" fill="#8ac0a6"/>
<rect x="420.10" y="183.20" width="31.90" height="2.53" fill="#9ac5b1"/>
<rect x="325.00" y="185.43" width="31.90" height="2.53" fill="#89bfa5"/>
<rect x="356.70" y="185.43" width="31.90" height="2.53" fill="#c8d5cf"/>
<rect x="388.40" y="185.43" width="31.90" height="2.53" fill="#98c5af"/>
<rect x="420.10" y="185.43" width="31.90" height="2.53" fill="#b1cdc0"/>
<rect x="325.00" y="187.66" width="31.90" height="2.53" fill="#aeccbe"/>
<rect x="356.70" y="187.66" width="31.90" height="2.53" fill="#b2cdc0"/>
<rect x="388.40" y="187.66" width="31.90" height="2.53" fill="#a6c9b9"/>
<rect x="420.10" y="187.66" width="31.90" height="2.53" fill="#b7cfc4"/>
<rect x="325.00" y="189.89" width="31.90" height="2.53" fill="#d8dbda"/>
<rect x="356.70" y="189.89" width="31.90" height="2.53" fill="#b4cec2"/>
<rect x="388.40" y="189.89" width="31.90" height="2.53" fill="#bed2c8"/>
<rect x="420.10" y="189.89" width="31.90" height="2.53" fill="#c8d5cf"/>
<rect x="325.00" y="192.13" width="31.90" height="2.53" fill="#b0cdbf"/>
<rect x="356.70" y="192.13" width="31.90" height="2.53" fill="#9ac5b1"/>
<rect x="388.40" y="192.13" width="31.90" height="2.53" fill="#a9caba"/>
<rect x="420.10" y="192.13" width="31.90" height="2.53" fill="#cad6d0"/>
<rect x="325.00" y="194.36" width="31.90" height="2.53" fill="#93c3ac"/>
<rect x="356.70" y="194.36" width="31.90" height="2.53" fill="#a9caba"/>
<rect x="388.40" y="194.36" width="31.90" height="2.53" fill="#cad6d0"/>
<rect x="420.10" y="194.36" width="31.90" height="2.53" fill="#c5d4cd"/>
<rect x="325.00" y="196.59" width="31.90" height="2.53" fill="#b6cfc3"/>
<rect x="356.70" y="196.59" width="31.90" height="2.53" fill="#c7d5ce"/>
<rect x="388.40" y="196.59" width="31.90" height="2.53" fill="#b9d0c5"/>
<rect x="420.10" y="196.59" width="31.90" height="2.53" fill="#9ec7b3"/>
<rect x="325.00" y="198.82" width="31.90" height="2.53" fill="#97c4ae"/>
<rect x="356.70" y="198.82" width="31.90" height="2.53" fill="#aacbbb"/>
<rect x="388.40" y="198.82" width="31.90" height="2.53" fill="#cad6d0"/>
<rect x="420.10" y="198.82" width="31.90" height="2.53" fill="#abcbbc"/>
<rect x="325.00" y="201.06" width="31.90" height="2.53" fill="#a5c9b8"/>
<rect x="356.70" y="201.06" width="31.90" height="2.53" fill="#a8cab9"/>
<rect x="388.40" y="201.06" width="31.90" height="2.53" fill="#53ad81"/>
<rect x="420.10" y="201.06" width="31.90" height="2.53" fill="#b5cfc2"/>
<rect x="325.00" y="203.29" width="31.90" height="2.53" fill="#a0c7b4"/>
<rect x="356.70" y="203.29" width="31.90" height="2.53" fill="#c0d2c9"/>
<rect x="388.40" y="203.29" width="31.90" height="2.53" fill="#87bfa4"/>
<rect x="420.10" y="203.29" width="31.90" height="2.53" fill="#bfd2c9"/>
<rect x="325.00" y="205.52" width="31.90" height="2.53" fill="#abcbbc"/>
<rect x="356.70" y="205.52" width="31.90" height="2.53" fill="#91c2aa"/>
<rect x="388.40" y="205.52" width="31.90" height="2.53" fill="#c8d5ce"/>
<rect x="420.10" y="205.52" width="31.90" height="2.53" fill="#b3cec1"/>
<rect x="325.00" y="207.76" width="31.90" height="2.53" fill="#8bc0a7"/>
<rect x="356.70" y="207.76" width="31.90" height="2.53" fill="#a7cab9"/>
<rect x="388.40" y="207.76" width="31.90" height="2.53" fill="#bfd2c9"/>
<rect x="420.10" y="207.76" width="31.90" height="2.53" fill="#b0cdbf"/>
<rect x="325.00" y="209.99" width="31.90" height="2.53" fill="#cad6d0"/>
<rect x="356.70" y="209.99" width="31.90" height="2.53" fill="#c9d5d0"/>
<rect x="388.40" y="209.99" width="31.90" height="2.53" fill="#c7d5ce"/>
<rect x="420.10" y="209.99" width="31.90" height="2.53" fill="#c0d3ca"/>
<rect x="325.00" y="212.22" width="31.90" height="2.53" fill="#60b18a"/>
<rect x="356.70" y="212.22" width="31.90" height="2.53" fill="#c8d5cf"/>
<rect x="388.40" y="212.22" width="31.90" height="2.53" fill="#b2b2b2"/>
<rect x="420.10" y="212.22" width="31.90" height="2.53" fill="#8fc2a9"/>
<rect x="325.00" y="214.45" width="31.90" height="2.53" fill="#cdd7d2"/>
<rect x="356.70" y="214.45" width="31.90" height="2.53" fill="#d6dad8"/>
<rect x="388.40" y="214.45" width="31.90" height="2.53" fill="#b5cec2"/>
<rect x="420.10" y="214.45" width="31.90" height="2.53" fill="#b1cdc0"/>
<rect x="325.00" y="216.69" width="31.90" height="2.53" fill="#cccccc"/>
<rect x="356.70" y="216.69" width="31.90" height="2.53" fill="#97c4af"/>
<rect x="388.40" y="216.69" width="31.90" height="2.53" fill="#c5d4cd"/>
<rect x="420.10" y="216.69" width="31.90" height="2.53" fill="#b7b7b7"/>
<rect x="325.00" y="218.92" width="31.90" height="2.53" fill="#a9caba"/>
<rect x="356.70" y="218.92" width="31.90" height="2.53" fill="#cad6d0"/>
<rect x="388.40" y="218.92" width="31.90" height="2.53" fill="#cdcdcd"/>
<rect x="420.10" y="218.92" width="31.90" height="2.53" fill="#bad0c5"/>
<rect x="325.00" y="221.15" width="31.90" height="2.53" fill="#c8d5cf"/>
<rect x="356.70" y="221.15" width="31.90" height="2.53" fill="#cfd8d4"/>
<rect x="388.40" y="221.15" width="31.90" height="2.53" fill="#aacbbb"/>
<rect x="420.10" y="221.15" width="31.90" height="2.53" fill="#bbd1c6"/>
<rect x="325.00" y="223.38" width="31.90" height="2.53" fill="#c3d3cc"/>
<rect x="356.70" y="223.38" width="31.90" height="2.53" fill="#ced7d3"/>
<rect x="388.40" y="223.38" width="31.90" height="2.53" fill="#bcd1c7"/>
<rect x="420.10" y="223.38" width="31.90" height="2.53" fill="#b9d0c5"/>
<rect x="325.00" y="225.62" width="31.90" height="2.53" fill="#a9caba"/>
<rect x="356.70" y="225.62" width="31.90" height="2.53" fill="#b6cfc3"/>
<rect x="388.40" y="225.62" width="31.90" height="2.53" fill="#d0d8d4"/>
<rect x="420.10" y="225.62" width="31.90" height="2.53" fill="#c0d2c9"/>
<rect x="325.00" y="227.85" width="31.90" height="2.53" fill="#67b48f"/>
<rect x="356.70" y="227.85" width="31.90" height="2.53" fill="#adccbd"/>
<rect x="388.40" y="227.85" width="31.90" height="2.53" fill="#b2b2b2"/>
<rect x="420.10" y="227.85" width="31.90" height="2.53" fill="#d6dad8"/>
<rect x="325.00" y="230.08" width="31.90" height="2.53" fill="#ccd6d1"/>
<rect x="356.70" y="230.08" width="31.90" height="2.53" fill="#89c0a5"/>
<rect x="388.40" y="230.08" width="31.90" height="2.53" fill="#ccd6d1"/>
<rect x="420.10" y="230.08" width="31.90" height="2.53" fill="#c9d5cf"/>
<rect x="325.00" y="232.32" width="31.90" height="2.53" fill="#cfcfcf"/>
<rect x="356.70" y="232.32" width="31.90" height="2.53" fill="#c8d5cf"/>
<rect x="388.40" y="232.32" width="31.90" height="2.53" fill="#bed2c8"/>
<rect x="420.10" y="232.32" width="31.90" height="2.53" fill="#cad6d0"/>
<rect x="325.00" y="234.55" width="31.90" height="2.53" fill="#98c5af"/>
<rect x="356.70" y="234.55" width="31.90" height="2.53" fill="#d5dad8"/>
<rect x="388.40" y="234.55" width="31.90" height="2.53" fill="#c7d5ce"/>
<rect x="420.10" y="234.55" width="31.90" height="2.53" fill="#b1cdc0"/>
<rect x="325.00" y="236.78" width="31.90" height="2.53" fill="#dcdcdc"/>
<rect x="356.70" y="236.78" width="31.90" height="2.53" fill="#c7c7c7"/>
<rect x="388.40" y="236.78" width="31.90" height="2.53" fill="#a4c9b7"/>
<rect x="420.10" y="236.78" width="31.90" height="2.53" fill="#b3cec1"/>
<rect x="325.00" y="239.01" width="31.90" height="2.53" fill="#c7d5ce"/>
<rect x="356.70" y="239.01" width="31.90" height="2.53" fill="#c5d4cd"/>
<rect x="388.40" y="239.01" width="31.90" height="2.53" fill="#b9d0c5"/>
<rect x="420.10" y="239.01" width="31.90" height="2.53" fill="#adccbd"/>
<rect x="325.00" y="241.25" width="31.90" height="2.53" fill="#b7b7b7"/>
<rect x="356.70" y="241.25" width="31.90" height="2.53" fill="#d7dad9"/>
<rect x="388.40" y="241.25" width="31.90" height="2.53" fill="#a9caba"/>
<rect x="420.10" y="241.25" width="31.90" height="2.53" fill="#9d9d9d"/>
<rect x="325.00" y="243.48" width="31.90" height="2.53" fill="#c8c8c8"/>
<rect x="356.70" y="243.48" width="31.90" height="2.53" fill="#d7dad8"/>
<rect x="388.40" y="243.48" width="31.90" height="2.53" fill="#c3c3c3"/>
<rect x="420.10" y="243.48" width="31.90" height="2.53" fill="#d3d9d6"/>
<rect x="325.00" y="245.71" width="31.90" height="2.53" fill="#53ad81"/>
<rect x="356.70" y="245.71" width="31.90" height="2.53" fill="#a2a2a2"/>
<rect x="388.40" y="245.71" width="31.90" height="2.53" fill="#96c4ae"/>
<rect x="420.10" y="245.71" width="31.90" height="2.53" fill="#b3cec1"/>
<rect x="325.00" y="247.94" width="31.90" height="2.53" fill="#c2d3cb"/>
<rect x="356.70" y="247.94" width="31.90" height="2.53" fill="#ced7d3"/>
<rect x="388.40" y="247.94" width="31.90" height="2.53" fill="#b4cec2"/>
<rect x="420.10" y="247.94" width="31.90" height="2.53" fill="#c1d3ca"/>
<rect x="325.00" y="250.18" width="31.90" height="2.53" fill="#cdd7d2"/>
<rect x="356.70" y="250.18" width="31.90" height="2.53" fill="#ccd6d1"/>
<rect x="388.40" y="250.18" width="31.90" height="2.53" fill="#d1d8d5"/>
<rect x="420.10" y="250.18" width="31.90" height="2.53" fill="#c8d5cf"/>
<rect x="325.00" y="252.41" width="31.90" height="2.53" fill="#bed2c8"/>
<rect x="356.70" y="252.41" width="31.90" height="2.53" fill="#d5d9d7"/>
<rect x="388.40" y="252.41" width="31.90" height="2.53" fill="#c5d4cd"/>
<rect x="420.10" y="252.41" width="31.90" height="2.53" fill="#b3cec1"/>
<rect x="325.00" y="254.64" width="31.90" height="2.53" fill="#b8d0c4"/>
<rect x="356.70" y="254.64" width="31.90" height="2.53" fill="#c5d4cd"/>
<rect x="388.40" y="254.64" width="31.90" height="2.53" fill="#c3d3cb"/>
<rect x="420.10" y="254.64" width="31.90" height="2.53" fill="#c8d5cf"/>
<rect x="325.00" y="256.88" width="31.90" height="2.53" fill="#c5d4cd"/>
<rect x="356.70" y="256.88" width="31.90" height="2.53" fill="#c9d5cf"/>
<rect x="388.40" y="256.88" width="31.90" height="2.53" fill="#c3d3cb"/>
<rect x="420.10" y="256.88" width="31.90" height="2.53" fill="#accbbc"/>
<rect x="325.00" y="259.11" width="31.90" height="2.53" fill="#cfd7d3"/>
<rect x="356.70" y="259.11" width="31.90" height="2.53" fill="#dcdcdc"/>
<rect x="388.40" y="259.11" width="31.90" height="2.53" fill="#cfd7d3"/>
<rect x="420.10" y="259.11" width="31.90" height="2.53" fill="#c2d3cb"/>
<rect x="325.00" y="261.34" width="31.90" height="2.53" fill="#d0d8d4"/>
<rect x="356.70" y="261.34" width="31.90" height="2.53" fill="#a2a2a2"/>
<rect x="388.40" y="261.34" width="31.90" height="2.53" fill="#9fc7b4"/>
<rect x="420.10" y="261.34" width="31.90" height="2.53" fill="#c8d5cf"/>
<rect x="325.00" y="263.57" width="31.90" height="2.53" fill="#b4cec2"/>
<rect x="356.70" y="263.57" width="31.90" height="2.53" fill="#d6dad8"/>
<rect x="388.40" y="263.57" width="31.90" height="2.53" fill="#bcbcbc"/>
<rect x="420.10" y="263.57" width="31.90" height="2.53" fill="#67b48f"/>
<rect x="325.00" y="265.81" width="31.90" height="2.53" fill="#b2cec0"/>
<rect x="356.70" y="265.81" width="31.90" height="2.53" fill="#c2c2c2"/>
<rect x="388.40" y="265.81" width="31.90" height="2.53" fill="#c0d2c9"/>
<rect x="420.10" y="265.81" width="31.90" height="2.53" fill="#abcbbc"/>
<rect x="325.00" y="268.04" width="31.90" height="2.53" fill="#b8d0c4"/>
<rect x="356.70" y="268.04" width="31.90" height="2.53" fill="#d3d9d6"/>
<rect x="388.40" y="268.04" width="31.90" height="2.53" fill="#d2d9d6"/>
<rect x="420.10" y="268.04" width="31.90" height="2.53" fill="#ccd6d1"/>
<rect x="325.00" y="270.27" width="31.90" height="2.53" fill="#d8d8d8"/>
<rect x="356.70" y="270.27" width="31.90" height="2.53" fill="#d3d9d6"/>
<rect x="388.40" y="270.27" width="31.90" height="2.53" fill="#c8d5cf"/>
<rect x="420.10" y="270.27" width="31.90" height="2.53" fill="#d1d8d5"/>
<rect x="325.00" y="272.50" width="31.90" height="2.53" fill="#d1d1d1"/>
<rect x="356.70" y="272.50" width="31.90" height="2.53" fill="#d7dad9"/>
<rect x="388.40" y="272.50" width="31.90" height="2.53" fill="#c7d5ce"/>
<rect x="420.10" y="272.50" width="31.90" height="2.53" fill="#d4d9d7"/>
<rect x="325.00" y="274.74" width="31.90" height="2.53" fill="#d2d9d6"/>
<rect x="356.70" y="274.74" width="31.90" height="2.53" fill="#d7dad9"/>
<rect x="388.40" y="274.74" width="31.90" height="2.53" fill="#dcdcdc"/>
<rect x="420.10" y="274.74" width="31.90" height="2.53" fill="#c7d5ce"/>
<rect x="325.00" y="276.97" width="31.90" height="2.53" fill="#bfbfbf"/>
<rect x="356.70" y="276.97" width="31.90" height="2.53" fill="#d7dad9"/>
<rect x="388.40" y="276.97" width="31.90" height="2.53" fill="#c1d3ca"/>
<rect x="420.10" y="276.97" width="31.90" height="2.53" fill="#c4c4c4"/>
<rect x="325.00" y="279.20" width="31.90" height="2.53" fill="#cdcdcd"/>
<rect x="356.70" y="279.20" width="31.90" height="2.53" fill="#d3d9d6"/>
<rect x="388.40" y="279.20" width="31.90" height="2.53" fill="#cdd7d2"/>
<rect x="420.10" y="279.20" width="31.90" height="2.53" fill="#d8d8d8"/>
<rect x="325.00" y="281.44" width="31.90" height="2.53" fill="#bfd2c9"/>
<rect x="356.70" y="281.44" width="31.90" height="2.53" fill="#b8d0c4"/>
<rect x="388.40" y="281.44" width="31.90" height="2.53" fill="#b8d0c4"/>
<rect x="420.10" y="281.44" width="31.90" height="2.53" fill="#b1b1b1"/>
<rect x="325.00" y="283.67" width="31.90" height="2.53" fill="#c9d6d0"/>
<rect x="356.70" y="283.67" width="31.90" height="2.53" fill="#c8d5cf"/>
<rect x="388.40" y="283.67" width="31.90" height="2.53" fill="#bcd1c7"/>
<rect x="420.10" y="283.67" width="31.90" height="2.53" fill="#bbd1c6"/>
<rect x="325.00" y="285.90" width="31.90" height="2.53" fill="#bcd1c7"/>
<rect x="356.70" y="285.90" width="31.90" height="2.53" fill="#cad6d0"/>
<rect x="388.40" y="285.90" width="31.90" height="2.53" fill="#d5dad8"/>
<rect x="420.10" y="285.90" width="31.90" height="2.53" fill="#bbd1c7"/>
<rect x="325.00" y="288.13" width="31.90" height="2.53" fill="#c8c8c8"/>
<rect x="356.70" y="288.13" width="31.90" height="2.53" fill="#c3d3cc"/>
<rect x="388.40" y="288.13" width="31.90" height="2.53" fill="#cecece"/>
<rect x="420.10" y="288.13" width="31.90" height="2.53" fill="#d8d8d8"/>
<rect x="325.00" y="290.37" width="31.90" height="2.53" fill="#bed2c8"/>
<rect x="356.70" y="290.37" width="31.90" height="2.53" fill="#b0b0b0"/>
<rect x="388.40" y="290.37" width="31.90" height="2.53" fill="#cdd7d2"/>
<rect x="420.10" y="290.37" width="31.90" height="2.53" fill="#bcd1c7"/>
<rect x="325.00" y="292.60" width="31.90" height="2.53" fill="#cccccc"/>
<rect x="356.70" y="292.60" width="31.90" height="2.53" fill="#d8dad9"/>
<rect x="388.40" y="292.60" width="31.90" height="2.53" fill="#ccd6d1"/>
<rect x="420.10" y="292.60" width="31.90" height="2.53" fill="#c8c8c8"/>
<rect x="325.00" y="294.83" width="31.90" height="2.53" fill="#d5d5d5"/>
<rect x="356.70" y="294.83" width="31.90" height="2.53" fill="#ccd6d1"/>
<rect x="388.40" y="294.83" width="31.90" height="2.53" fill="#c5d4cd"/>
<rect x="420.10" y="294.83" width="31.90" height="2.53" fill="#b8d0c4"/>
<rect x="325.00" y="297.06" width="31.90" height="2.53" fill="#d6dad8"/>
<rect x="356.70" y="297.06" width="31.90" height="2.53" fill="#d3d9d6"/>
<rect x="388.40" y="297.06" width="31.90" height="2.53" fill="#cbcbcb"/>
<rect x="420.10" y="297.06" width="31.90" height="2.53" fill="#d2d2d2"/>
<rect x="325.00" y="299.30" width="31.90" height="2.53" fill="#c5d4cd"/>
<rect x="356.70" y="299.30" width="31.90" height="2.53" fill="#bcd1c7"/>
<rect x="388.40" y="299.30" width="31.90" height="2.53" fill="#c0d2c9"/>
<rect x="420.10" y="299.30" width="31.90" height="2.53" fill="#ced7d3"/>
<rect x="325.00" y="301.53" width="31.90" height="2.53" fill="#d7dad9"/>
<rect x="356.70" y="301.53" width="31.90" height="2.53" fill="#8d8d8d"/>
<rect x="388.40" y="301.53" width="31.90" height="2.53" fill="#d4d4d4"/>
<rect x="420.10" y="301.53" width="31.90" height="2.53" fill="#d2d8d5"/>
<rect x="325.00" y="303.76" width="31.90" height="2.53" fill="#c5d4cd"/>
<rect x="356.70" y="303.76" width="31.90" height="2.53" fill="#d4d9d7"/>
<rect x="388.40" y="303.76" width="31.90" height="2.53" fill="#d5dad7"/>
<rect x="420.10" y="303.76" width="31.90" height="2.53" fill="#cecece"/>
<rect x="325.00" y="306.00" width="31.90" height="2.53" fill="#d8dbd9"/>
<rect x="356.70" y="306.00" width="31.90" height="2.53" fill="#ced7d3"/>
<rect x="388.40" y="306.00" width="31.90" height="2.53" fill="#d0d0d0"/>
<rect x="420.10" y="306.00" width="31.90" height="2.53" fill="#c2d3cb"/>
<rect x="325.00" y="308.23" width="31.90" height="2.53" fill="#bbbbbb"/>
<rect x="356.70" y="308.23" width="31.90" height="2.53" fill="#d1d8d5"/>
<rect x="388.40" y="308.23" width="31.90" height="2.53" fill="#ced7d3"/>
<rect x="420.10" y="308.23" width="31.90" height="2.53" fill="#acacac"/>
<rect x="325.00" y="310.46" width="31.90" height="2.53" fill="#d2d8d5"/>
<rect x="356.70" y="310.46" width="31.90" height="2.53" fill="#d0d8d4"/>
<rect x="388.40" y="310.46" width="31.90" height="2.53" fill="#b7b7b7"/>
<rect x="420.10" y="310.46" width="31.90" height="2.53" fill="#c3c3c3"/>
<rect x="325.00" y="312.69" width="31.90" height="2.53" fill="#ced7d3"/>
<rect x="356.70" y="312.69" width="31.90" height="2.53" fill="#d6d6d6"/>
<rect x="388.40" y="312.69" width="31.90" height="2.53" fill="#c6d4cd"/>
<rect x="420.10" y="312.69" width="31.90" height="2.53" fill="#cad6d0"/>
<rect x="325.00" y="314.93" width="31.90" height="2.53" fill="#d8dbd9"/>
<rect x="356.70" y="314.93" width="31.90" height="2.53" fill="#d4d9d7"/>
<rect x="388.40" y="314.93" width="31.90" height="2.53" fill="#dcdcdc"/>
<rect x="420.10" y="314.93" width="31.90" height="2.53" fill="#ced7d2"/>
<rect x="325.00" y="317.16" width="31.90" height="2.53" fill="#d7dad9"/>
<rect x="356.70" y="317.16" width="31.90" height="2.53" fill="#b2b2b2"/>
<rect x="388.40" y="317.16" width="31.90" height="2.53" fill="#dadbdb"/>
<rect x="420.10" y="317.16" width="31.90" height="2.53" fill="#bfd2c9"/>
<rect x="325.00" y="319.39" width="31.90" height="2.53" fill="#b2b2b2"/>
<rect x="356.70" y="319.39" width="31.90" height="2.53" fill="#acacac"/>
<rect x="388.40" y="319.39" width="31.90" height="2.53" fill="#d3d9d6"/>
<rect x="420.10" y="319.39" width="31.90" height="2.53" fill="#ababab"/>
<rect x="325.00" y="321.62" width="31.90" height="2.53" fill="#d7d7d7"/>
<rect x="356.70" y="321.62" width="31.90" height="2.53" fill="#b2b2b2"/>
<rect x="388.40" y="321.62" width="31.90" height="2.53" fill="#d0d8d4"/>
<rect x="420.10" y="321.62" width="31.90" height="2.53" fill="#abcbbc"/>
<rect x="325.00" y="323.86" width="31.90" height="2.53" fill="#cdd7d2"/>
<rect x="356.70" y="323.86" width="31.90" height="2.53" fill="#cacaca"/>
<rect x="388.40" y="323.86" width="31.90" height="2.53" fill="#d8dbda"/>
<rect x="420.10" y="323.86" width="31.90" height="2.53" fill="#dbdcdc"/>
<rect x="325.00" y="326.09" width="31.90" height="2.53" fill="#d9dbda"/>
<rect x="356.70" y="326.09" width="31.90" height="2.53" fill="#adadad"/>
<rect x="388.40" y="326.09" width="31.90" height="2.53" fill="#d9dbda"/>
<rect x="420.10" y="326.09" width="31.90" height="2.53" fill="#dbdcdb"/>
<rect x="325.00" y="328.32" width="31.90" height="2.53" fill="#dbdbdb"/>
<rect x="356.70" y="328.32" width="31.90" height="2.53" fill="#d9dbda"/>
<rect x="388.40" y="328.32" width="31.90" height="2.53" fill="#c7c7c7"/>
<rect x="420.10" y="328.32" width="31.90" height="2.53" fill="#c4d4cc"/>
<rect x="325.00" y="330.55" width="31.90" height="2.53" fill="#c6d4ce"/>
<rect x="356.70" y="330.55" width="31.90" height="2.53" fill="#9bc6b1"/>
<rect x="388.40" y="330.55" width="31.90" height="2.53" fill="#ced7d2"/>
<rect x="420.10" y="330.55" width="31.90" height="2.53" fill="#9e9e9e"/>
<rect x="325.00" y="332.79" width="31.90" height="2.53" fill="#c1d3ca"/>
<rect x="356.70" y="332.79" width="31.90" height="2.53" fill="#bfd2c9"/>
<rect x="388.40" y="332.79" width="31.90" height="2.53" fill="#d4d9d7"/>
<rect x="420.10" y="332.79" width="31.90" height="2.53" fill="#cdcdcd"/>
<rect x="325.00" y="335.02" width="31.90" height="2.53" fill="#cccccc"/>
<rect x="356.70" y="335.02" width="31.90" height="2.53" fill="#bdd1c7"/>
<rect x="388.40" y="335.02" width="31.90" height="2.53" fill="#d0d0d0"/>
<rect x="420.10" y="335.02" width="31.90" height="2.53" fill="#bfbfbf"/>
<rect x="325.00" y="337.25" width="31.90" height="2.53" fill="#a7a7a7"/>
<rect x="356.70" y="337.25" width="31.90" height="2.53" fill="#c9d5cf"/>
<rect x="388.40" y="337.25" width="31.90" height="2.53" fill="#d5dad7"/>
<rect x="420.10" y="337.25" width="31.90" height="2.53" fill="#dcdcdc"/>
<rect x="325.00" y="339.49" width="31.90" height="2.53" fill="#c7d5ce"/>
<rect x="356.70" y="339.49" width="31.90" height="2.53" fill="#b6cfc3"/>
<rect x="388.40" y="339.49" width="31.90" height="2.53" fill="#d7dad9"/>
<rect x="420.10" y="339.49" width="31.90" height="2.53" fill="#b1b1b1"/>
<rect x="325.00" y="341.72" width="31.90" height="2.53" fill="#d9dbda"/>
<rect x="356.70" y="341.72" width="31.90" height="2.53" fill="#a5a5a5"/>
<rect x="388.40" y="341.72" width="31.90" height="2.53" fill="#888888"/>
<rect x="420.10" y="341.72" width="31.90" height="2.53" fill="#d9d9d9"/>
<rect x="325.00" y="343.95" width="31.90" height="2.53" fill="#dadbdb"/>
<rect x="356.70" y="343.95" width="31.90" height="2.53" fill="#d9dbda"/>
<rect x="388.40" y="343.95" width="31.90" height="2.53" fill="#ced7d3"/>
<rect x="420.10" y="343.95" width="31.90" height="2.53" fill="#c2c2c2"/>
<rect x="325.00" y="346.18" width="31.90" height="2.53" fill="#b3cec1"/>
<rect x="356.70" y="346.18" width="31.90" height="2.53" fill="#d5d5d5"/>
<rect x="388.40" y="346.18" width="31.90" height="2.53" fill="#ccd6d1"/>
<rect x="420.10" y="346.18" width="31.90" height="2.53" fill="#d8dbd9"/>
<rect x="325.00" y="348.42" width="31.90" height="2.53" fill="#bbbbbb"/>
<rect x="356.70" y="348.42" width="31.90" height="2.53" fill="#cbd6d1"/>
<rect x="388.40" y="348.42" width="31.90" height="2.53" fill="#cdd7d2"/>
<rect x="420.10" y="348.42" width="31.90" height="2.53" fill="#dcdcdc"/>
<rect x="325.00" y="350.65" width="31.90" height="2.53" fill="#d7dad9"/>
<rect x="356.70" y="350.65" width="31.90" height="2.53" fill="#dbdcdb"/>
<rect x="388.40" y="350.65" width="31.90" height="2.53" fill="#d3d9d6"/>
<rect x="420.10" y="350.65" width="31.90" height="2.53" fill="#ced7d3"/>
<rect x="325.00" y="352.88" width="31.90" height="2.53" fill="#cdd7d2"/>
<rect x="356.70" y="352.88" width="31.90" height="2.53" fill="#d7dad9"/>
<rect x="388.40" y="352.88" width="31.90" height="2.53" fill="#dcdcdc"/>
<rect x="420.10" y="352.88" width="31.90" height="2.53" fill="#ced7d3"/>
<rect x="325.00" y="355.11" width="31.90" height="2.53" fill="#ced7d3"/>
<rect x="356.70" y="355.11" width="31.90" height="2.53" fill="#9d9d9d"/>
<rect x="388.40" y="355.11" width="31.90" height="2.53" fill="#dadbdb"/>
<rect x="420.10" y="355.11" width="31.90" height="2.53" fill="#c6c6c6"/>
<rect x="325.00" y="357.35" width="31.90" height="2.53" fill="#d2d2d2"/>
<rect x="356.70" y="357.35" width="31.90" height="2.53" fill="#cccccc"/>
<rect x="388.40" y="357.35" width="31.90" height="2.53" fill="#dbdcdb"/>
<rect x="420.10" y="357.35" width="31.90" height="2.53" fill="#dcdcdc"/>
<rect x="325.00" y="359.58" width="31.90" height="2.53" fill="#b1b1b1"/>
<rect x="356.70" y="359.58" width="31.90" height="2.53" fill="#c6d5ce"/>
<rect x="388.40" y="359.58" width="31.90" height="2.53" fill="#cbcbcb"/>
<rect x="420.10" y="359.58" width="31.90" height="2.53" fill="#d3d9d6"/>
<rect x="325.00" y="361.81" width="31.90" height="2.53" fill="#d9dbda"/>
<rect x="356.70" y="361.81" width="31.90" height="2.53" fill="#8dc1a8"/>
<rect x="388.40" y="361.81" width="31.90" height="2.53" fill="#d0d8d4"/>
<rect x="420.10" y="361.81" width="31.90" height="2.53" fill="#a2a2a2"/>
<rect x="325.00" y="364.05" width="31.90" height="2.53" fill="#c4d4cc"/>
<rect x="356.70" y="364.05" width="31.90" height="2.53" fill="#acacac"/>
<rect x="388.40" y="364.05" width="31.90" height="2.53" fill="#dbdbdb"/>
<rect x="420.10" y="364.05" width="31.90" height="2.53" fill="#c6c6c6"/>
<rect x="325.00" y="366.28" width="31.90" height="2.53" fill="#d5dad8"/>
<rect x="356.70" y="366.28" width="31.90" height="2.53" fill="#dbdcdc"/>
<rect x="388.40" y="366.28" width="31.90" height="2.53" fill="#d0d0d0"/>
<rect x="420.10" y="366.28" width="31.90" height="2.53" fill="#d5dad7"/>
<rect x="325.00" y="368.51" width="31.90" height="2.53" fill="#c2c2c2"/>
<rect x="356.70" y="368.51" width="31.90" height="2.53" fill="#dbdbdb"/>
<rect x="388.40" y="368.51" width="31.90" height="2.53" fill="#d9d9d9"/>
<rect x="420.10" y="368.51" width="31.90" height="2.53" fill="#dbdcdb"/>
<rect x="325.00" y="370.74" width="31.90" height="2.53" fill="#d9dbda"/>
<rect x="356.70" y="370.74" width="31.90" height="2.53" fill="#adadad"/>
<rect x="388.40" y="370.74" width="31.90" height="2.53" fill="#d5dad7"/>
<rect x="420.10" y="370.74" width="31.90" height="2.53" fill="#939393"/>
<rect x="325.00" y="372.98" width="31.90" height="2.53" fill="#d8dbd9"/>
<rect x="356.70" y="372.98" width="31.90" height="2.53" fill="#b2b2b2"/>
<rect x="388.40" y="372.98" width="31.90" height="2.53" fill="#b9b9b9"/>
<rect x="420.10" y="372.98" width="31.90" height="2.53" fill="#c5c5c5"/>
<rect x="325.00" y="375.21" width="31.90" height="2.53" fill="#b7b7b7"/>
<rect x="356.70" y="375.21" width="31.90" height="2.53" fill="#d2d2d2"/>
<rect x="388.40" y="375.21" width="31.90" height="2.53" fill="#dbdcdb"/>
<rect x="420.10" y="375.21" width="31.90" height="2.53" fill="#bebebe"/>
<rect x="325.00" y="377.44" width="31.90" height="2.53" fill="#c7c7c7"/>
<rect x="356.70" y="377.44" width="31.90" height="2.53" fill="#ababab"/>
<rect x="388.40" y="377.44" width="31.90" height="2.53" fill="#d8d8d8"/>
<rect x="420.10" y="377.44" width="31.90" height="2.53" fill="#c8d5cf"/>
<rect x="325.00" y="379.67" width="31.90" height="2.53" fill="#cbd6d1"/>
<rect x="356.70" y="379.67" width="31.90" height="2.53" fill="#acacac"/>
<rect x="388.40" y="379.67" width="31.90" height="2.53" fill="#dcdcdc"/>
<rect x="420.10" y="379.67" width="31.90" height="2.53" fill="#b9b9b9"/>
<rect x="325.00" y="381.91" width="31.90" height="2.53" fill="#b0b0b0"/>
<rect x="356.70" y="381.91" width="31.90" height="2.53" fill="#d1d1d1"/>
<rect x="388.40" y="381.91" width="31.90" height="2.53" fill="#c3c3c3"/>
<rect x="420.10" y="381.91" width="31.90" height="2.53" fill="#cbcbcb"/>
<rect x="325.00" y="384.14" width="31.90" height="2.53" fill="#d8dad9"/>
<rect x="356.70" y="384.14" width="31.90" height="2.53" fill="#d6dad8"/>
<rect x="388.40" y="384.14" width="31.90" height="2.53" fill="#dbdcdb"/>
<rect x="420.10" y="384.14" width="31.90" height="2.53" fill="#b8b8b8"/>
<rect x="325.00" y="386.37" width="31.90" height="2.53" fill="#c1c1c1"/>
<rect x="356.70" y="386.37" width="31.90" height="2.53" fill="#848484"/>
<rect x="388.40" y="386.37" width="31.90" height="2.53" fill="#a9a9a9"/>
<rect x="420.10" y="386.37" width="31.90" height="2.53" fill="#9bc6b1"/>
<rect x="325.00" y="388.61" width="31.90" height="2.53" fill="#d1d1d1"/>
<rect x="356.70" y="388.61" width="31.90" height="2.53" fill="#a1a1a1"/>
<rect x="388.40" y="388.61" width="31.90" height="2.53" fill="#5f5f5f"/>
<rect x="420.10" y="388.61" width="31.90" height="2.53" fill="#97c4af"/>
<rect x="325.00" y="390.84" width="31.90" height="2.53" fill="#d9d9d9"/>
<rect x="356.70" y="390.84" width="31.90" height="2.53" fill="#676767"/>
<rect x="388.40" y="390.84" width="31.90" height="2.53" fill="#6e6e6e"/>
<rect x="420.10" y="390.84" width="31.90" height="2.53" fill="#9ec7b3"/>
<rect x="325.00" y="393.07" width="31.90" height="2.53" fill="#c6c6c6"/>
<rect x="356.70" y="393.07" width="31.90" height="2.53" fill="#5f5f5f"/>
<rect x="388.40" y="393.07" width="31.90" height="2.53" fill="#cfcfcf"/>
<rect x="420.10" y="393.07" width="31.90" height="2.53" fill="#c0c0c0"/>
<rect x="325.00" y="395.30" width="31.90" height="2.53" fill="#d6dad8"/>
<rect x="356.70" y="395.30" width="31.90" height="2.53" fill="#c4c4c4"/>
<rect x="388.40" y="395.30" width="31.90" height="2.53" fill="#585858"/>
<rect x="420.10" y="395.30" width="31.90" height="2.53" fill="#d8dbd9"/>
<rect x="325.00" y="397.54" width="31.90" height="2.53" fill="#a1a1a1"/>
<rect x="356.70" y="397.54" width="31.90" height="2.53" fill="#d8d8d8"/>
<rect x="388.40" y="397.54" width="31.90" height="2.53" fill="#848484"/>
<rect x="420.10" y="397.54" width="31.90" height="2.53" fill="#b1b1b1"/>
<rect x="325.00" y="399.77" width="31.90" height="2.53" fill="#bfbfbf"/>
<rect x="356.70" y="399.77" width="31.90" height="2.53" fill="#b0b0b0"/>
<rect x="388.40" y="399.77" width="31.90" height="2.53" fill="#bfbfbf"/>
<rect x="420.10" y="399.77" width="31.90" height="2.53" fill="#dcdcdc"/>
<rect x="325.00" y="402.00" width="31.90" height="2.53" fill="#000000"/>
<rect x="356.70" y="402.00" width="31.90" height="2.53" fill="#accbbc"/>
<rect x="388.40" y="402.00" width="31.90" height="2.53" fill="#1d1d1d"/>
<rect x="420.10" y="402.00" width="31.90" height="2.53" fill="#cdcdcd"/>
<rect x="325.00" y="404.23" width="31.90" height="2.53" fill="#cdcdcd"/>
<rect x="356.70" y="404.23" width="31.90" height="2.53" fill="#d9dbda"/>
<rect x="388.40" y="404.23" width="31.90" height="2.53" fill="#2c2c2c"/>
<rect x="420.10" y="404.23" width="31.90" height="2.53" fill="#848484"/>
<rect x="325.00" y="406.47" width="31.90" height="2.53" fill="#c6c6c6"/>
<rect x="356.70" y="406.47" width="31.90" height="2.53" fill="#757575"/>
<rect x="388.40" y="406.47" width="31.90" height="2.53" fill="#848484"/>
<rect x="420.10" y="406.47" width="31.90" height="2.53" fill="#a1a1a1"/>
<rect x="458.10" y="47.00" width="14.60" height="2.54" fill="#0e9554"/>
<rect x="458.10" y="49.24" width="14.60" height="2.54" fill="#4caa7d"/>
<rect x="458.10" y="51.47" width="14.60" height="2.54" fill="#4dab7e"/>
<rect x="458.10" y="53.71" width="14.60" height="2.54" fill="#4eab7f"/>
<rect x="458.10" y="55.95" width="14.60" height="2.54" fill="#50ac7f"/>
<rect x="458.10" y="58.19" width="14.60" height="2.54" fill="#51ac80"/>
<rect x="458.10" y="60.42" width="14.60" height="2.54" fill="#52ad81"/>
<rect x="458.10" y="62.66" width="14.60" height="2.54" fill="#54ad82"/>
<rect x="458.10" y="64.90" width="14.60" height="2.54" fill="#55ad83"/>
<rect x="458.10" y="67.13" width="14.60" height="2.54" fill="#56ae84"/>
<rect x="458.10" y="69.37" width="14.60" height="2.54" fill="#58ae85"/>
<rect x="458.10" y="71.61" width="14.60" height="2.54" fill="#59af85"/>
<rect x="458.10" y="73.84" width="14.60" height="2.54" fill="#5aaf86"/>
<rect x="458.10" y="76.08" width="14.60" height="2.54" fill="#5bb087"/>
<rect x="458.10" y="78.32" width="14.60" height="2.54" fill="#5db088"/>
<rect x="458.10" y="80.56" width="14.60" height="2.54" fill="#5eb189"/>
<rect x="458.10" y="82.79" width="14.60" height="2.54" fill="#5fb18a"/>
<rect x="458.10" y="85.03" width="14.60" height="2.54" fill="#61b18b"/>
<rect x="458.10" y="87.27" width="14.60" height="2.54" fill="#62b28b"/>
<rect x="458.10" y="89.50" width="14.60" height="2.54" fill="#63b28c"/>
<rect x="458.10" y="91.74" width="14.60" height="2.54" fill="#65b38d"/>
<rect x="458.10" y="93.98" width="14.60" height="2.54" fill="#66b38e"/>
<rect x="458.10" y="96.21" width="14.60" height="2.54" fill="#67b48f"/>
<rect x="458.10" y="98.45" width="14.60" height="2.54" fill="#68b490"/>
<rect x="458.10" y="100.69" width="14.60" height="2.54" fill="#6ab590"/>
<rect x="458.10" y="102.93" width="14.60" height="2.54" fill="#6bb591"/>
<rect x="458.10" y="105.16" width="14.60" height="2.54" fill="#6cb592"/>
<rect x="458.10" y="107.40" width="14.60" height="2.54" fill="#6db693"/>
<rect x="458.10" y="109.64" width="14.60" height="2.54" fill="#6fb694"/>
<rect x="458.10" y="111.87" width="14.60" height="2.54" fill="#70b795"/>
<rect x="458.10" y="114.11" width="14.60" height="2.54" fill="#71b796"/>
<rect x="458.10" y="116.35" width="14.60" height="2.54" fill="#73b896"/>
<rect x="458.10" y="118.59" width="14.60" height="2.54" fill="#74b897"/>
<rect x="458.10" y="120.82" width="14.60" height="2.54" fill="#75b998"/>
<rect x="458.10" y="123.06" width="14.60" height="2.54" fill="#76b999"/>
<rect x="458.10" y="125.30" width="14.60" height="2.54" fill="#78b99a"/>
<rect x="458.10" y="127.53" width="14.60" height="2.54" fill="#79ba9b"/>
<rect x="458.10" y="129.77" width="14.60" height="2.54" fill="#7aba9b"/>
<rect x="458.10" y="132.01" width="14.60" height="2.54" fill="#7bbb9c"/>
<rect x="458.10" y="134.24" width="14.60" height="2.54" fill="#7dbb9d"/>
<rect x="458.10" y="136.48" width="14.60" height="2.54" fill="#7ebc9e"/>
<rect x="458.10" y="138.72" width="14.60" height="2.54" fill="#7fbc9f"/>
<rect x="458.10" y="140.96" width="14.60" height="2.54" fill="#80bc9f"/>
<rect x="458.10" y="143.19" width="14.60" height="2.54" fill="#81bda0"/>
<rect x="458.10" y="145.43" width="14.60" height="2.54" fill="#82bda1"/>
<rect x="458.10" y="147.67" width="14.60" height="2.54" fill="#83bda1"/>
<rect x="458.10" y="149.90" width="14.60" height="2.54" fill="#84bea2"/>
<rect x="458.10" y="152.14" width="14.60" height="2.54" fill="#85bea3"/>
<rect x="458.10" y="154.38" width="14.60" height="2.54" fill="#86bea3"/>
<rect x="458.10" y="156.61" width="14.60" height="2.54" fill="#87bfa4"/>
<rect x="458.10" y="158.85" width="14.60" height="2.54" fill="#88bfa5"/>
<rect x="458.10" y="161.09" width="14.60" height="2.54" fill="#89c0a5"/>
<rect x="458.10" y="163.33" width="14.60" height="2.54" fill="#8ac0a6"/>
<rect x="458.10" y="165.56" width="14.60" height="2.54" fill="#8bc0a7"/>
<rect x="458.10" y="167.80" width="14.60" height="2.54" fill="#8cc1a7"/>
<rect x="458.10" y="170.04" width="14.60" height="2.54" fill="#8dc1a8"/>
<rect x="458.10" y="172.27" width="14.60" height="2.54" fill="#8ec1a9"/>
<rect x="458.10" y="174.51" width="14.60" height="2.54" fill="#8fc2a9"/>
<rect x="458.10" y="176.75" width="14.60" height="2.54" fill="#90c2aa"/>
<rect x="458.10" y="178.99" width="14.60" height="2.54" fill="#91c2ab"/>
<rect x="458.10" y="181.22" width="14.60" height="2.54" fill="#92c3ab"/>
<rect x="458.10" y="183.46" width="14.60" height="2.54" fill="#93c3ac"/>
<rect x="458.10" y="185.70" width="14.60" height="2.54" fill="#94c3ad"/>
<rect x="458.10" y="187.93" width="14.60" height="2.54" fill="#95c4ad"/>
<rect x="458.10" y="190.17" width="14.60" height="2.54" fill="#96c4ae"/>
<rect x="458.10" y="192.41" width="14.60" height="2.54" fill="#97c4af"/>
<rect x="458.10" y="194.64" width="14.60" height="2.54" fill="#98c5af"/>
<rect x="458.10" y="196.88" width="14.60" height="2.54" fill="#99c5b0"/>
<rect x="458.10" y="199.12" width="14.60" height="2.54" fill="#9ac5b1"/>
<rect x="458.10" y="201.36" width="14.60" height="2.54" fill="#9bc6b1"/>
<rect x="458.10" y="203.59" width="14.60" height="2.54" fill="#9cc6b2"/>
<rect x="458.10" y="205.83" width="14.60" height="2.54" fill="#9dc6b3"/>
<rect x="458.10" y="208.07" width="14.60" height="2.54" fill="#9ec7b3"/>
<rect x="458.10" y="210.30" width="14.60" height="2.54" fill="#9fc7b4"/>
<rect x="458.10" y="212.54" width="14.60" height="2.54" fill="#a0c7b5"/>
<rect x="458.10" y="214.78" width="14.60" height="2.54" fill="#a1c8b5"/>
<rect x="458.10" y="217.01" width="14.60" height="2.54" fill="#a2c8b6"/>
<rect x="458.10" y="219.25" width="14.60" height="2.54" fill="#a3c9b7"/>
<rect x="458.10" y="221.49" width="14.60" height="2.54" fill="#a4c9b7"/>
<rect x="458.10" y="223.73" width="14.60" height="2.54" fill="#a5c9b8"/>
<rect x="458.10" y="225.96" width="14.60" height="2.54" fill="#a6cab9"/>
<rect x="458.10" y="228.20" width="14.60" height="2.54" fill="#a7cab9"/>
<rect x="458.10" y="230.44" width="14.60" height="2.54" fill="#a8caba"/>
<rect x="458.10" y="232.67" width="14.60" height="2.54" fill="#a9cbbb"/>
<rect x="458.10" y="234.91" width="14.60" height="2.54" fill="#aacbbb"/>
<rect x="458.10" y="237.15" width="14.60" height="2.54" fill="#abcbbc"/>
<rect x="458.10" y="239.39" width="14.60" height="2.54" fill="#accbbc"/>
<rect x="458.10" y="241.62" width="14.60" height="2.54" fill="#acccbd"/>
<rect x="458.10" y="243.86" width="14.60" height="2.54" fill="#adccbd"/>
<rect x="458.10" y="246.10" width="14.60" height="2.54" fill="#aeccbe"/>
<rect x="458.10" y="248.33" width="14.60" height="2.54" fill="#afccbe"/>
<rect x="458.10" y="250.57" width="14.60" height="2.54" fill="#afcdbf"/>
<rect x="458.10" y="252.81" width="14.60" height="2.54" fill="#b0cdbf"/>
<rect x="458.10" y="255.04" width="14.60" height="2.54" fill="#b1cdc0"/>
<rect x="458.10" y="257.28" width="14.60" height="2.54" fill="#b2cdc0"/>
<rect x="458.10" y="259.52" width="14.60" height="2.54" fill="#b3cec1"/>
<rect x="458.10" y="261.76" width="14.60" height="2.54" fill="#b3cec1"/>
<rect x="458.10" y="263.99" width="14.60" height="2.54" fill="#b4cec2"/>
<rect x="458.10" y="266.23" width="14.60" height="2.54" fill="#b5cfc2"/>
<rect x="458.10" y="268.47" width="14.60" height="2.54" fill="#b6cfc3"/>
<rect x="458.10" y="270.70" width="14.60" height="2.54" fill="#b6cfc3"/>
<rect x="458.10" y="272.94" width="14.60" height="2.54" fill="#b7cfc4"/>
<rect x="458.10" y="275.18" width="14.60" height="2.54" fill="#b8d0c4"/>
<rect x="458.10" y="277.41" width="14.60" height="2.54" fill="#b9d0c5"/>
<rect x="458.10" y="279.65" width="14.60" height="2.54" fill="#b9d0c5"/>
<rect x="458.10" y="281.89" width="14.60" height="2.54" fill="#bad0c6"/>
<rect x="458.10" y="284.13" width="14.60" height="2.54" fill="#bbd1c6"/>
<rect x="458.10" y="286.36" width="14.60" height="2.54" fill="#bcd1c7"/>
<rect x="458.10" y="288.60" width="14.60" height="2.54" fill="#bdd1c7"/>
<rect x="458.10" y="290.84" width="14.60" height="2.54" fill="#bdd1c8"/>
<rect x="458.10" y="293.07" width="14.60" height="2.54" fill="#bed2c8"/>
<rect x="458.10" y="295.31" width="14.60" height="2.54" fill="#bfd2c9"/>
<rect x="458.10" y="297.55" width="14.60" height="2.54" fill="#c0d2c9"/>
<rect x="458.10" y="299.79" width="14.60" height="2.54" fill="#c0d3ca"/>
<rect x="458.10" y="302.02" width="14.60" height="2.54" fill="#c1d3ca"/>
<rect x="458.10" y="304.26" width="14.60" height="2.54" fill="#c2d3cb"/>
<rect x="458.10" y="306.50" width="14.60" height="2.54" fill="#c3d3cb"/>
<rect x="458.10" y="308.73" width="14.60" height="2.54" fill="#c4d4cc"/>
<rect x="458.10" y="310.97" width="14.60" height="2.54" fill="#c4d4cc"/>
<rect x="458.10" y="313.21" width="14.60" height="2.54" fill="#c5d4cd"/>
<rect x="458.10" y="315.44" width="14.60" height="2.54" fill="#c6d4cd"/>
<rect x="458.10" y="317.68" width="14.60" height="2.54" fill="#c7d5ce"/>
<rect x="458.10" y="319.92" width="14.60" height="2.54" fill="#c7d5ce"/>
<rect x="458.10" y="322.16" width="14.60" height="2.54" fill="#c8d5cf"/>
<rect x="458.10" y="324.39" width="14.60" height="2.54" fill="#c9d5cf"/>
<rect x="458.10" y="326.63" width="14.60" height="2.54" fill="#cad6d0"/>
<rect x="458.10" y="328.87" width="14.60" height="2.54" fill="#cbd6d1"/>
<rect x="458.10" y="331.10" width="14.60" height="2.54" fill="#cbd6d1"/>
<rect x="458.10" y="333.34" width="14.60" height="2.54" fill="#ccd7d2"/>
<rect x="458.10" y="335.58" width="14.60" height="2.54" fill="#cdd7d2"/>
<rect x="458.10" y="337.81" width="14.60" height="2.54" fill="#ced7d3"/>
<rect x="458.10" y="340.05" width="14.60" height="2.54" fill="#cfd7d3"/>
<rect x="458.10" y="342.29" width="14.60" height="2.54" fill="#cfd8d4"/>
<rect x="458.10" y="344.53" width="14.60" height="2.54" fill="#d0d8d4"/>
<rect x="458.10" y="346.76" width="14.60" height="2.54" fill="#d1d8d5"/>
<rect x="458.10" y="349.00" width="14.60" height="2.54" fill="#d2d8d5"/>
<rect x="458.10" y="351.24" width="14.60" height="2.54" fill="#d3d9d6"/>
<rect x="458.10" y="353.47" width="14.60" height="2.54" fill="#d3d9d6"/>
<rect x="458.10" y="355.71" width="14.60" height="2.54" fill="#d4d9d7"/>
<rect x="458.10" y="357.95" width="14.60" height="2.54" fill="#d5dad7"/>
<rect x="458.10" y="360.19" width="14.60" height="2.54" fill="#d6dad8"/>
<rect x="458.10" y="362.42" width="14.60" height="2.54" fill="#d7dad9"/>
<rect x="458.10" y="364.66" width="14.60" height="2.54" fill="#d9dbda"/>
<rect x="458.10" y="366.90" width="14.60" height="2.54" fill="#dadbdb"/>
<rect x="458.10" y="369.13" width="14.60" height="2.54" fill="#dcdcdc"/>
<rect x="458.10" y="371.37" width="14.60" height="2.54" fill="#d9d9d9"/>
<rect x="458.10" y="373.61" width="14.60" height="2.54" fill="#d5d5d5"/>
<rect x="458.10" y="375.84" width="14.60" height="2.54" fill="#d1d1d1"/>
<rect x="458.10" y="378.08" width="14.60" height="2.54" fill="#cdcdcd"/>
<rect x="458.10" y="380.32" width="14.60" height="2.54" fill="#c6c6c6"/>
<rect x="458.10" y="382.56" width="14.60" height="2.54" fill="#bfbfbf"/>
<rect x="458.10" y="384.79" width="14.60" height="2.54" fill="#afafaf"/>
<rect x="458.10" y="387.03" width="14.60" height="2.54" fill="#9e9e9e"/>
<rect x="458.10" y="389.27" width="14.60" height="2.54" fill="#969696"/>
<rect x="458.10" y="391.50" width="14.60" height="2.54" fill="#8d8d8d"/>
<rect x="458.10" y="393.74" width="14.60" height="2.54" fill="#848484"/>
<rect x="458.10" y="395.98" width="14.60" height="2.54" fill="#7a7a7a"/>
<rect x="458.10" y="398.21" width="14.60" height="2.54" fill="#707070"/>
<rect x="458.10" y="400.45" width="14.60" height="2.54" fill="#676767"/>
<rect x="458.10" y="402.69" width="14.60" height="2.54" fill="#000000"/>
<rect x="458.10" y="404.93" width="14.60" height="2.54" fill="#000000"/>
<rect x="458.10" y="407.16" width="14.60" height="2.54" fill="#000000"/>
</g>
<rect x="475.10" y="47.00" width="13.90" height="2.54" fill="#ed1c24"/>
<rect x="475.10" y="49.24" width="13.90" height="2.54" fill="#7f3f98"/>
<rect x="475.10" y="51.48" width="13.90" height="2.24" fill="#27aae1"/>
<rect x="475.10" y="55.96" width="13.90" height="2.54" fill="#fbb040"/>
<rect x="475.10" y="58.20" width="13.90" height="2.54" fill="#ed1c24"/>
<rect x="475.10" y="60.44" width="13.90" height="2.54" fill="#fbb040"/>
<rect x="475.10" y="62.68" width="13.90" height="2.54" fill="#27aae1"/>
<rect x="475.10" y="64.92" width="13.90" height="2.54" fill="#27aae1"/>
<rect x="475.10" y="67.16" width="13.90" height="2.54" fill="#27aae1"/>
<rect x="475.10" y="69.40" width="13.90" height="2.54" fill="#ed1c24"/>
<rect x="475.10" y="71.64" width="13.90" height="2.54" fill="#fbb040"/>
<rect x="475.10" y="73.88" width="13.90" height="2.24" fill="#ed1c24"/>
<rect x="475.10" y="78.36" width="13.90" height="2.54" fill="#7f3f98"/>
<rect x="475.10" y="80.60" width="13.90" height="2.54" fill="#27aae1"/>
<rect x="475.10" y="82.84" width="13.90" height="2.54" fill="#ed1c24"/>
<rect x="475.10" y="85.08" width="13.90" height="2.54" fill="#ed1c24"/>
<rect x="475.10" y="87.32" width="13.90" height="1.46" fill="#ed1c24"/>
<rect x="475.00" y="197.60" width="13.30" height="2.20" fill="#8dc63f"/>
<rect x="475.00" y="332.30" width="13.30" height="2.20" fill="#c49a6c"/>
<rect x="475.00" y="342.90" width="13.30" height="2.20" fill="#2b3990"/>
<rect x="475.00" y="392.10" width="13.30" height="2.20" fill="#000"/>
<rect x="475.00" y="405.20" width="13.30" height="2.20" fill="#808285"/>
<text x="344.00" y="40.70" font-size="9.4" transform="rotate(-45 344.00 40.70)">FADU</text>
<text x="373.00" y="40.70" font-size="9.4" transform="rotate(-45 373.00 40.70)">CAL27</text>
<text x="400.50" y="40.70" font-size="9.4" transform="rotate(-45 400.50 40.70)">HN6</text>
<text x="427.50" y="40.70" font-size="9.4" transform="rotate(-45 427.50 40.70)">SCC-9</text>
<text x="460.00" y="27.30" font-size="9.4" transform="rotate(-45 460.00 27.30)">Average</text>
<text x="463.00" y="42.30" font-size="9.4" transform="rotate(-45 463.00 42.30)">ExcessHSA</text>
<line x1="508.90" y1="72.90" x2="522.10" y2="72.90" stroke="#ed1c24" stroke-width="2.1"/>
<text x="526.60" y="76.30" font-size="9.4" font-weight="700" fill="#ed1c24">PI3K/AKT/mTOR inh. (8/20)</text>
<line x1="508.90" y1="87.02" x2="522.10" y2="87.02" stroke="#27aae1" stroke-width="2.1"/>
<text x="526.60" y="90.42" font-size="9.4" font-weight="700" fill="#27aae1">EGFR inh. (5/20)</text>
<line x1="508.90" y1="101.15" x2="522.10" y2="101.15" stroke="#fbb040" stroke-width="2.1"/>
<text x="526.60" y="104.55" font-size="9.4" font-weight="700" fill="#fbb040">MEK inh. (3/20)</text>
<line x1="508.90" y1="115.27" x2="522.10" y2="115.27" stroke="#7f3f98" stroke-width="2.1"/>
<text x="526.60" y="118.67" font-size="9.4" font-weight="700" fill="#7f3f98">BRD4 inh. (2/20)</text>
<line x1="508.90" y1="129.40" x2="522.10" y2="129.40" stroke="#8dc63f" stroke-width="2.1"/>
<text x="526.60" y="132.80" font-size="9.4" font-weight="700" fill="#8dc63f">fluorouracil (5-fluoracil 5-fu)</text>
<line x1="508.90" y1="143.53" x2="522.10" y2="143.53" stroke="#c49a6c" stroke-width="2.1"/>
<text x="526.60" y="146.93" font-size="9.4" font-weight="700" fill="#c49a6c">nedaplatin</text>
<line x1="508.90" y1="157.65" x2="522.10" y2="157.65" stroke="#2b3990" stroke-width="2.1"/>
<text x="526.60" y="161.05" font-size="9.4" font-weight="700" fill="#2b3990">cisplatin</text>
<line x1="508.90" y1="171.78" x2="522.10" y2="171.78" stroke="#000000" stroke-width="2.1"/>
<text x="526.60" y="175.18" font-size="9.4" font-weight="700" fill="#000000">docetaxel</text>
<line x1="508.90" y1="185.90" x2="522.10" y2="185.90" stroke="#808285" stroke-width="2.1"/>
<text x="526.60" y="189.30" font-size="9.4" font-weight="700" fill="#808285">paclitaxel</text>
<defs><linearGradient id="cs" x1="0" y1="0" x2="0" y2="1"><stop offset="0" stop-color="#0e9554"/><stop offset="0.637" stop-color="#dcdcdc"/><stop offset="1" stop-color="#000"/></linearGradient></defs>
<rect x="573.00" y="221.20" width="14.40" height="107.50" fill="url(#cs)"/>
<polygon points="548.5,221.2 569.7,221.2 569.7,328.7" fill="#58595b"/>
<line x1="573.00" y1="254.70" x2="575.00" y2="254.70" stroke="#555" stroke-width="0.7"/>
<line x1="585.40" y1="254.70" x2="587.40" y2="254.70" stroke="#555" stroke-width="0.7"/>
<line x1="573.00" y1="289.70" x2="575.00" y2="289.70" stroke="#555" stroke-width="0.7"/>
<line x1="585.40" y1="289.70" x2="587.40" y2="289.70" stroke="#555" stroke-width="0.7"/>
<text x="592.00" y="223.90" font-size="7.8" font-weight="700">-300</text>
<text x="592.00" y="257.10" font-size="7.8" font-weight="700">-150</text>
<text x="597.90" y="292.40" font-size="7.8" font-weight="700">0</text>
<text x="593.60" y="327.10" font-size="7.8" font-weight="700">150</text>
<text x="621.00" y="275.40" font-size="9.1" font-weight="700" text-anchor="middle" transform="rotate(-90 621.00 275.40)">ExcessHSA</text>
<text transform="translate(543.4 273.3) rotate(-90) scale(1.19 1)" font-size="8.5" text-anchor="middle" fill="#231f20" stroke="#231f20" stroke-width="0.2">Combination potency</text>
</g>
<g id="panel-c">
<path d="M57.70,478.0 V551.40 H71.70 V478.0" fill="none" stroke="#3444b8" stroke-width="0.9"/>
<path d="M64.70,510.50 V593.90 M60.80,510.50 H68.60 M60.80,593.90 H68.60" fill="none" stroke="#3444b8" stroke-width="0.9"/>
<circle cx="64.70" cy="512.40" r="2.3" fill="#0a1a96"/>
<circle cx="64.70" cy="535.10" r="2.3" fill="#0a1a96"/>
<circle cx="64.70" cy="550.60" r="2.3" fill="#0a1a96"/>
<circle cx="64.70" cy="610.50" r="2.3" fill="#0a1a96"/>
<text x="64.90" y="472.30" font-size="8.85" transform="rotate(-45 64.90 472.30)">Pictilisib</text>
<path d="M79.85,478.0 V539.50 H93.85 V478.0" fill="none" stroke="#3444b8" stroke-width="0.9"/>
<path d="M86.85,527.60 V553.30 M82.95,527.60 H90.75 M82.95,553.30 H90.75" fill="none" stroke="#3444b8" stroke-width="0.9"/>
<circle cx="86.85" cy="527.60" r="2.3" fill="#0a1a96"/>
<circle cx="86.85" cy="532.60" r="2.3" fill="#0a1a96"/>
<circle cx="86.85" cy="545.90" r="2.3" fill="#0a1a96"/>
<circle cx="86.85" cy="555.20" r="2.3" fill="#0a1a96"/>
<text x="87.05" y="472.30" font-size="8.85" transform="rotate(-45 87.05 472.30)">Alpelisib</text>
<path d="M102.00,478.0 V535.90 H116.00 V478.0" fill="none" stroke="#3444b8" stroke-width="0.9"/>
<path d="M109.00,522.70 V550.60 M105.10,522.70 H112.90 M105.10,550.60 H112.90" fill="none" stroke="#3444b8" stroke-width="0.9"/>
<circle cx="109.00" cy="518.20" r="2.3" fill="#0a1a96"/>
<circle cx="109.00" cy="534.80" r="2.3" fill="#0a1a96"/>
<circle cx="109.00" cy="542.30" r="2.3" fill="#0a1a96"/>
<circle cx="109.00" cy="550.80" r="2.3" fill="#0a1a96"/>
<text x="109.20" y="472.30" font-size="8.85" transform="rotate(-45 109.20 472.30)">Omipalisib</text>
<path d="M124.15,478.0 V528.20 H138.15 V478.0" fill="none" stroke="#3444b8" stroke-width="0.9"/>
<path d="M131.15,518.80 V537.80 M127.25,518.80 H135.05 M127.25,537.80 H135.05" fill="none" stroke="#3444b8" stroke-width="0.9"/>
<circle cx="131.15" cy="518.20" r="2.3" fill="#0a1a96"/>
<circle cx="131.15" cy="525.70" r="2.3" fill="#0a1a96"/>
<circle cx="131.15" cy="532.60" r="2.3" fill="#0a1a96"/>
<circle cx="131.15" cy="538.10" r="2.3" fill="#0a1a96"/>
<text x="131.35" y="472.30" font-size="8.85" transform="rotate(-45 131.35 472.30)">Idelalisib</text>
<path d="M146.30,478.0 V527.00 H160.30 V478.0" fill="none" stroke="#3444b8" stroke-width="0.9"/>
<path d="M153.30,520.20 V535.40 M149.40,520.20 H157.20 M149.40,535.40 H157.20" fill="none" stroke="#3444b8" stroke-width="0.9"/>
<circle cx="148.50" cy="525.10" r="2.3" fill="#0a1a96"/>
<circle cx="158.50" cy="521.00" r="2.3" fill="#0a1a96"/>
<circle cx="158.50" cy="526.80" r="2.3" fill="#0a1a96"/>
<circle cx="153.50" cy="538.70" r="2.3" fill="#0a1a96"/>
<text x="153.50" y="472.30" font-size="8.85" transform="rotate(-45 153.50 472.30)">Apitolisib</text>
<path d="M168.45,478.0 V525.30 H182.45 V478.0" fill="none" stroke="#b03434" stroke-width="0.9"/>
<path d="M175.45,507.80 V544.00 M171.55,507.80 H179.35 M171.55,544.00 H179.35" fill="none" stroke="#b03434" stroke-width="0.9"/>
<circle cx="175.45" cy="507.80" r="2.3" fill="#a01414"/>
<circle cx="175.45" cy="516.10" r="2.3" fill="#a01414"/>
<circle cx="175.45" cy="531.40" r="2.3" fill="#a01414"/>
<circle cx="175.45" cy="548.30" r="2.3" fill="#a01414"/>
<text x="175.65" y="472.30" font-size="8.85" transform="rotate(-45 175.65 472.30)">AZD5363</text>
<path d="M190.60,478.0 V523.80 H204.60 V478.0" fill="none" stroke="#b03434" stroke-width="0.9"/>
<path d="M197.60,507.20 V541.60 M193.70,507.20 H201.50 M193.70,541.60 H201.50" fill="none" stroke="#b03434" stroke-width="0.9"/>
<circle cx="197.60" cy="502.60" r="2.3" fill="#a01414"/>
<circle cx="197.60" cy="521.00" r="2.3" fill="#a01414"/>
<circle cx="197.60" cy="533.90" r="2.3" fill="#a01414"/>
<circle cx="197.60" cy="541.00" r="2.3" fill="#a01414"/>
<text x="197.80" y="472.30" font-size="8.85" transform="rotate(-45 197.80 472.30)">Temsirolimus</text>
<path d="M212.75,478.0 V523.20 H226.75 V478.0" fill="none" stroke="#b03434" stroke-width="0.9"/>
<path d="M219.75,517.60 V528.70 M215.85,517.60 H223.65 M215.85,528.70 H223.65" fill="none" stroke="#b03434" stroke-width="0.9"/>
<circle cx="219.75" cy="515.50" r="2.3" fill="#a01414"/>
<circle cx="214.55" cy="529.60" r="2.3" fill="#a01414"/>
<circle cx="219.75" cy="523.80" r="2.3" fill="#a01414"/>
<circle cx="224.95" cy="528.40" r="2.3" fill="#a01414"/>
<text x="219.95" y="472.30" font-size="8.85" transform="rotate(-45 219.95 472.30)">Everolimus</text>
<path d="M234.90,478.0 V523.20 H248.90 V478.0" fill="none" stroke="#3444b8" stroke-width="0.9"/>
<path d="M241.90,506.30 V541.60 M238.00,506.30 H245.80 M238.00,541.60 H245.80" fill="none" stroke="#3444b8" stroke-width="0.9"/>
<circle cx="241.90" cy="501.10" r="2.3" fill="#0a1a96"/>
<circle cx="241.90" cy="522.20" r="2.3" fill="#0a1a96"/>
<circle cx="241.90" cy="528.70" r="2.3" fill="#0a1a96"/>
<circle cx="241.90" cy="543.10" r="2.3" fill="#0a1a96"/>
<text x="242.10" y="472.30" font-size="8.85" transform="rotate(-45 242.10 472.30)">GDC-0032</text>
<path d="M257.05,478.0 V519.50 H271.05 V478.0" fill="none" stroke="#b03434" stroke-width="0.9"/>
<path d="M264.05,490.00 V550.80 M260.15,490.00 H267.95 M260.15,550.80 H267.95" fill="none" stroke="#b03434" stroke-width="0.9"/>
<circle cx="264.05" cy="481.70" r="2.3" fill="#a01414"/>
<circle cx="264.05" cy="510.30" r="2.3" fill="#a01414"/>
<circle cx="258.85" cy="545.60" r="2.3" fill="#a01414"/>
<circle cx="269.05" cy="543.70" r="2.3" fill="#a01414"/>
<text x="264.25" y="472.30" font-size="8.85" transform="rotate(-45 264.25 472.30)">MLN0128</text>
<path d="M279.20,478.0 V514.90 H293.20 V478.0" fill="none" stroke="#2fb070" stroke-width="0.9"/>
<path d="M286.20,499.20 V530.80 M282.30,499.20 H290.10 M282.30,530.80 H290.10" fill="none" stroke="#2fb070" stroke-width="0.9"/>
<circle cx="286.20" cy="497.10" r="2.3" fill="#13a55a"/>
<circle cx="281.00" cy="511.80" r="2.3" fill="#13a55a"/>
<circle cx="291.40" cy="514.90" r="2.3" fill="#13a55a"/>
<circle cx="286.20" cy="533.90" r="2.3" fill="#13a55a"/>
<text x="286.40" y="472.30" font-size="8.85" transform="rotate(-45 286.40 472.30)">AZD2014</text>
<path d="M301.35,478.0 V511.50 H315.35 V478.0" fill="none" stroke="#2fb070" stroke-width="0.9"/>
<path d="M308.35,499.50 V524.70 M304.45,499.50 H312.25 M304.45,524.70 H312.25" fill="none" stroke="#2fb070" stroke-width="0.9"/>
<circle cx="308.35" cy="498.60" r="2.3" fill="#13a55a"/>
<circle cx="308.35" cy="503.80" r="2.3" fill="#13a55a"/>
<circle cx="303.15" cy="524.70" r="2.3" fill="#13a55a"/>
<circle cx="313.55" cy="522.20" r="2.3" fill="#13a55a"/>
<text x="308.55" y="472.30" font-size="8.85" transform="rotate(-45 308.55 472.30)">Perifosine</text>
<path d="M323.50,478.0 V500.20 H337.50 V478.0" fill="none" stroke="#2fb070" stroke-width="0.9"/>
<path d="M330.50,483.90 V519.50 M326.60,483.90 H334.40 M326.60,519.50 H334.40" fill="none" stroke="#2fb070" stroke-width="0.9"/>
<circle cx="330.50" cy="482.40" r="2.3" fill="#13a55a"/>
<circle cx="330.50" cy="491.00" r="2.3" fill="#13a55a"/>
<circle cx="330.50" cy="511.80" r="2.3" fill="#13a55a"/>
<circle cx="330.50" cy="520.10" r="2.3" fill="#13a55a"/>
<text x="330.70" y="472.30" font-size="8.85" transform="rotate(-45 330.70 472.30)">Miltefosine</text>
<path d="M50.5,478.0 V625.7 H345.8 V478.0 Z" fill="none" stroke="#6a6a6a" stroke-width="1.3"/>
<line x1="44.50" y1="478.00" x2="50.50" y2="478.00" stroke="#6a6a6a" stroke-width="1.3"/>
<text x="43.00" y="481.40" font-size="9.65" text-anchor="end">0</text>
<line x1="44.50" y1="527.20" x2="50.50" y2="527.20" stroke="#6a6a6a" stroke-width="1.3"/>
<text x="43.00" y="530.60" font-size="9.65" text-anchor="end">-200</text>
<line x1="44.50" y1="576.40" x2="50.50" y2="576.40" stroke="#6a6a6a" stroke-width="1.3"/>
<text x="43.00" y="579.80" font-size="9.65" text-anchor="end">-400</text>
<line x1="44.50" y1="625.60" x2="50.50" y2="625.60" stroke="#6a6a6a" stroke-width="1.3"/>
<text x="43.00" y="629.00" font-size="9.65" text-anchor="end">-600</text>
<text x="8.90" y="544.20" font-size="10.85" text-anchor="middle" transform="rotate(-90 8.90 544.20)">ExcessHSA</text>
<text x="89.5" y="646.2" font-size="10.4" fill="#231f20"><tspan font-weight="700">Palbociclib</tspan> vs. selected PI3K pathway inhi.</text>
<circle cx="247.60" cy="580.90" r="3.4" fill="#0c1f9e"/>
<text x="258.90" y="583.90" font-size="9.2">PI3K isoform inhi.</text>
<circle cx="247.60" cy="596.60" r="3.4" fill="#c4202f"/>
<text x="258.90" y="599.60" font-size="9.2">mTOR inhi.</text>
<circle cx="247.60" cy="612.30" r="3.4" fill="#0fa651"/>
<text x="258.90" y="615.30" font-size="9.2">AKT inhi.</text>
</g>
<g id="panel-d">
<path d="M412.60,473.0 V521.00 H430.40 V473.0" fill="none" stroke="#3444b8" stroke-width="0.9" stroke-opacity="0.75"/>
<path d="M421.50,503.30 V538.60 M416.50,503.30 H426.50 M416.50,538.60 H426.50" fill="none" stroke="#0a1a96" stroke-width="0.9"/>
<circle cx="421.47" cy="492.61" r="2.05" fill="#0a1a96"/>
<circle cx="421.47" cy="501.81" r="2.05" fill="#0a1a96"/>
<circle cx="417.64" cy="506.41" r="2.05" fill="#0a1a96"/>
<circle cx="421.47" cy="506.72" r="2.05" fill="#0a1a96"/>
<circle cx="425.31" cy="510.25" r="2.05" fill="#0a1a96"/>
<circle cx="428.83" cy="509.48" r="2.05" fill="#0a1a96"/>
<circle cx="414.11" cy="514.85" r="2.05" fill="#0a1a96"/>
<circle cx="417.64" cy="513.31" r="2.05" fill="#0a1a96"/>
<circle cx="421.47" cy="513.31" r="2.05" fill="#0a1a96"/>
<circle cx="425.31" cy="514.08" r="2.05" fill="#0a1a96"/>
<circle cx="428.83" cy="514.08" r="2.05" fill="#0a1a96"/>
<circle cx="414.11" cy="519.91" r="2.05" fill="#0a1a96"/>
<circle cx="417.64" cy="518.68" r="2.05" fill="#0a1a96"/>
<circle cx="425.31" cy="518.68" r="2.05" fill="#0a1a96"/>
<circle cx="428.83" cy="518.99" r="2.05" fill="#0a1a96"/>
<circle cx="417.64" cy="523.59" r="2.05" fill="#0a1a96"/>
<circle cx="425.31" cy="523.59" r="2.05" fill="#0a1a96"/>
<circle cx="428.83" cy="524.51" r="2.05" fill="#0a1a96"/>
<circle cx="414.11" cy="527.12" r="2.05" fill="#0a1a96"/>
<circle cx="425.31" cy="527.88" r="2.05" fill="#0a1a96"/>
<circle cx="421.47" cy="530.95" r="2.05" fill="#0a1a96"/>
<circle cx="417.64" cy="534.33" r="2.05" fill="#0a1a96"/>
<circle cx="425.31" cy="534.33" r="2.05" fill="#0a1a96"/>
<circle cx="421.47" cy="537.85" r="2.05" fill="#0a1a96"/>
<path d="M441.10,473.0 V510.20 H459.50 V473.0" fill="none" stroke="#b03434" stroke-width="0.9" stroke-opacity="0.75"/>
<path d="M450.30,496.10 V526.30 M445.30,496.10 H455.30 M445.30,526.30 H455.30" fill="none" stroke="#a01414" stroke-width="0.9"/>
<circle cx="450.31" cy="476.50" r="2.05" fill="#a01414"/>
<circle cx="450.31" cy="493.37" r="2.05" fill="#a01414"/>
<circle cx="446.78" cy="499.97" r="2.05" fill="#a01414"/>
<circle cx="453.99" cy="497.98" r="2.05" fill="#a01414"/>
<circle cx="450.31" cy="505.18" r="2.05" fill="#a01414"/>
<circle cx="457.98" cy="504.88" r="2.05" fill="#a01414"/>
<circle cx="442.94" cy="509.17" r="2.05" fill="#a01414"/>
<circle cx="457.98" cy="511.01" r="2.05" fill="#a01414"/>
<circle cx="450.31" cy="515.31" r="2.05" fill="#a01414"/>
<circle cx="442.94" cy="518.37" r="2.05" fill="#a01414"/>
<circle cx="457.98" cy="516.38" r="2.05" fill="#a01414"/>
<circle cx="450.31" cy="520.21" r="2.05" fill="#a01414"/>
<circle cx="442.94" cy="526.04" r="2.05" fill="#a01414"/>
<circle cx="450.31" cy="528.65" r="2.05" fill="#a01414"/>
<circle cx="457.98" cy="530.18" r="2.05" fill="#a01414"/>
<circle cx="442.94" cy="532.18" r="2.05" fill="#a01414"/>
<path d="M470.20,473.0 V498.30 H488.70 V473.0" fill="none" stroke="#2fb070" stroke-width="0.9" stroke-opacity="0.75"/>
<path d="M479.45,486.50 V512.50 M474.45,486.50 H484.45 M474.45,512.50 H484.45" fill="none" stroke="#13a55a" stroke-width="0.9"/>
<circle cx="479.45" cy="476.50" r="2.05" fill="#13a55a"/>
<circle cx="479.45" cy="484.17" r="2.05" fill="#13a55a"/>
<circle cx="471.78" cy="489.08" r="2.05" fill="#13a55a"/>
<circle cx="486.96" cy="490.31" r="2.05" fill="#13a55a"/>
<circle cx="479.45" cy="494.14" r="2.05" fill="#13a55a"/>
<circle cx="471.78" cy="501.35" r="2.05" fill="#13a55a"/>
<circle cx="486.96" cy="501.35" r="2.05" fill="#13a55a"/>
<circle cx="479.45" cy="504.11" r="2.05" fill="#13a55a"/>
<circle cx="471.78" cy="508.71" r="2.05" fill="#13a55a"/>
<circle cx="486.96" cy="509.94" r="2.05" fill="#13a55a"/>
<circle cx="479.45" cy="512.85" r="2.05" fill="#13a55a"/>
<circle cx="479.45" cy="520.21" r="2.05" fill="#13a55a"/>
<circle cx="421.50" cy="584.50" r="2.05" fill="#0a1a96"/>
<path d="M402.6,473.0 V618 H499.2 V473.0 Z" fill="none" stroke="#6a6a6a" stroke-width="1.3"/>
<line x1="397.40" y1="473.00" x2="402.60" y2="473.00" stroke="#6a6a6a" stroke-width="1.3"/>
<text x="395.80" y="476.50" font-size="10.1" text-anchor="end">0</text>
<line x1="397.40" y1="514.40" x2="402.60" y2="514.40" stroke="#6a6a6a" stroke-width="1.3"/>
<text x="395.80" y="517.90" font-size="10.1" text-anchor="end">-200</text>
<line x1="397.40" y1="555.80" x2="402.60" y2="555.80" stroke="#6a6a6a" stroke-width="1.3"/>
<text x="395.80" y="559.30" font-size="10.1" text-anchor="end">-400</text>
<line x1="397.40" y1="597.20" x2="402.60" y2="597.20" stroke="#6a6a6a" stroke-width="1.3"/>
<text x="395.80" y="600.70" font-size="10.1" text-anchor="end">-600</text>
<line x1="421.50" y1="618.00" x2="421.50" y2="624.40" stroke="#6a6a6a" stroke-width="1.3"/>
<line x1="450.60" y1="618.00" x2="450.60" y2="624.40" stroke="#6a6a6a" stroke-width="1.3"/>
<line x1="479.70" y1="618.00" x2="479.70" y2="624.40" stroke="#6a6a6a" stroke-width="1.3"/>
<text x="366.20" y="544.40" font-size="10.7" text-anchor="middle" transform="rotate(-90 366.20 544.40)">ExcessHSA</text>
<text x="420.00" y="631.80" font-size="9.6" text-anchor="end" transform="rotate(-45 420.00 631.80)">PI3K isoform</text>
<text x="453.20" y="632.00" font-size="9.6" text-anchor="end" transform="rotate(-45 453.20 632.00)">mTOR</text>
<text x="482.80" y="631.50" font-size="9.6" text-anchor="end" transform="rotate(-45 482.80 631.50)">Akt</text>
<line x1="453.80" y1="543.40" x2="482.10" y2="543.40" stroke="#444" stroke-width="0.9"/>
<text x="466.80" y="556.30" font-size="15" text-anchor="middle" fill="#555">*</text>
<line x1="419.60" y1="568.40" x2="482.10" y2="568.40" stroke="#444" stroke-width="0.9"/>
<text x="449.50" y="581.70" font-size="15" text-anchor="middle" fill="#555" letter-spacing="0.3">***</text>
<line x1="419.60" y1="601.40" x2="447.90" y2="601.40" stroke="#444" stroke-width="0.9"/>
<text x="433.40" y="614.30" font-size="15" text-anchor="middle" fill="#555">*</text>
</g>
<g id="panel-f">
<path d="M556.60,475.2 V556.70 H570.20 V475.2" fill="none" stroke="#a01c20" stroke-width="0.9"/>
<path d="M563.40,545.10 V569.00 M559.80,545.10 H567.00 M559.80,569.00 H567.00" fill="none" stroke="#a01c20" stroke-width="0.9"/>
<circle cx="558.60" cy="541.50" r="2.2" fill="#a01c20"/>
<circle cx="568.70" cy="538.40" r="2.2" fill="#a01c20"/>
<circle cx="563.50" cy="557.50" r="2.2" fill="#a01c20"/>
<circle cx="563.50" cy="590.40" r="2.2" fill="#a01c20"/>
<text x="561.90" y="470.00" font-size="9.3" transform="rotate(-45 561.90 470.00)">Alpelisib</text>
<path d="M578.40,475.2 V543.30 H592.10 V475.2" fill="none" stroke="#1a2fa0" stroke-width="0.9"/>
<path d="M585.25,533.00 V553.60 M581.65,533.00 H588.85 M581.65,553.60 H588.85" fill="none" stroke="#1a2fa0" stroke-width="0.9"/>
<circle cx="585.40" cy="517.60" r="2.2" fill="#1a2fa0"/>
<circle cx="585.40" cy="536.10" r="2.2" fill="#1a2fa0"/>
<circle cx="585.40" cy="556.70" r="2.2" fill="#1a2fa0"/>
<circle cx="585.40" cy="563.40" r="2.2" fill="#1a2fa0"/>
<text x="583.15" y="470.00" font-size="9.3" transform="rotate(-45 583.15 470.00)">Pictilisib</text>
<path d="M600.30,475.2 V541.50 H614.00 V475.2" fill="none" stroke="#1e9e38" stroke-width="0.9"/>
<path d="M607.15,535.60 V547.70 M603.55,535.60 H610.75 M603.55,547.70 H610.75" fill="none" stroke="#1e9e38" stroke-width="0.9"/>
<circle cx="607.30" cy="529.70" r="2.2" fill="#1e9e38"/>
<circle cx="607.30" cy="535.10" r="2.2" fill="#1e9e38"/>
<circle cx="607.30" cy="545.90" r="2.2" fill="#1e9e38"/>
<circle cx="607.30" cy="555.40" r="2.2" fill="#1e9e38"/>
<text x="603.05" y="470.00" font-size="9.3" transform="rotate(-45 603.05 470.00)">GDC-0032</text>
<path d="M621.70,475.2 V531.20 H635.50 V475.2" fill="none" stroke="#f7941d" stroke-width="0.9"/>
<path d="M628.60,524.00 V538.20 M625.00,524.00 H632.20 M625.00,538.20 H632.20" fill="none" stroke="#f7941d" stroke-width="0.9"/>
<circle cx="628.60" cy="511.90" r="2.2" fill="#f7941d"/>
<circle cx="628.60" cy="530.00" r="2.2" fill="#f7941d"/>
<circle cx="628.60" cy="537.40" r="2.2" fill="#f7941d"/>
<circle cx="628.60" cy="545.90" r="2.2" fill="#f7941d"/>
<text x="624.50" y="470.00" font-size="9.3" transform="rotate(-45 624.50 470.00)">Apitolisib</text>
<path d="M549.0,475.2 V617.2 H644 V475.2 Z" fill="none" stroke="#6a6a6a" stroke-width="1.3"/>
<line x1="543.60" y1="475.20" x2="549.00" y2="475.20" stroke="#6a6a6a" stroke-width="1.3"/>
<text x="542.00" y="478.70" font-size="9.9" text-anchor="end">0</text>
<line x1="543.60" y1="504.90" x2="549.00" y2="504.90" stroke="#6a6a6a" stroke-width="1.3"/>
<text x="542.00" y="508.40" font-size="9.9" text-anchor="end">-250</text>
<line x1="543.60" y1="534.60" x2="549.00" y2="534.60" stroke="#6a6a6a" stroke-width="1.3"/>
<text x="542.00" y="538.10" font-size="9.9" text-anchor="end">-500</text>
<line x1="543.60" y1="564.30" x2="549.00" y2="564.30" stroke="#6a6a6a" stroke-width="1.3"/>
<text x="542.00" y="567.80" font-size="9.9" text-anchor="end">-750</text>
<line x1="543.60" y1="594.00" x2="549.00" y2="594.00" stroke="#6a6a6a" stroke-width="1.3"/>
<text x="542.00" y="597.50" font-size="9.9" text-anchor="end">-1000</text>
<text x="516.40" y="542.80" font-size="11.0" text-anchor="middle" transform="rotate(-90 516.40 542.80)">Ecxess HSA</text>
<text x="596.20" y="637.50" font-size="10.7" text-anchor="middle">10x10 Matrix</text>
<line x1="604.20" y1="561.30" x2="635.00" y2="561.30" stroke="#666" stroke-width="0.9"/>
<text x="618.80" y="568.50" font-size="6.8" text-anchor="middle" fill="#444">ns</text>
<line x1="579.70" y1="570.80" x2="610.60" y2="570.80" stroke="#666" stroke-width="0.9"/>
<text x="594.70" y="578.50" font-size="6.8" text-anchor="middle" fill="#444">ns</text>
<line x1="579.70" y1="583.70" x2="631.20" y2="583.70" stroke="#666" stroke-width="0.9"/>
<text x="594.70" y="591.40" font-size="6.8" text-anchor="middle" fill="#444">ns</text>
<line x1="579.70" y1="600.20" x2="631.20" y2="600.20" stroke="#666" stroke-width="0.9"/>
<text x="613.70" y="608.10" font-size="6.8" text-anchor="middle" fill="#444">ns</text>
<path d="M564.3,596 V612.2 H606.2 V600.2" fill="none" stroke="#333" stroke-width="0.9"/>
</g>
<g id="panel-e">
<text x="341.80" y="696.70" font-size="12.3" font-weight="700" text-anchor="middle">FADU</text>
<text x="251.6" y="712.1" font-size="12.02" fill="#231f20"><tspan font-weight="700">Palbociclib</tspan> vs. selected PI3K inhi.</text>
<g>
<rect x="66.40" y="720.60" width="13.44" height="13.42" fill="#f52615"/>
<rect x="78.84" y="720.60" width="13.44" height="13.42" fill="#f02615"/>
<rect x="91.28" y="720.60" width="13.44" height="13.42" fill="#e82414"/>
<rect x="103.72" y="720.60" width="13.44" height="13.42" fill="#e02313"/>
<rect x="116.16" y="720.60" width="13.44" height="13.42" fill="#d62212"/>
<rect x="128.60" y="720.60" width="13.44" height="13.42" fill="#c92011"/>
<rect x="141.04" y="720.60" width="13.44" height="13.42" fill="#b21c0f"/>
<rect x="153.48" y="720.60" width="13.44" height="13.42" fill="#a41a0e"/>
<rect x="165.92" y="720.60" width="13.44" height="13.42" fill="#8c160c"/>
<rect x="178.36" y="720.60" width="12.44" height="13.42" fill="#7c130b"/>
<rect x="66.40" y="733.02" width="13.44" height="13.42" fill="#f32615"/>
<rect x="78.84" y="733.02" width="13.44" height="13.42" fill="#ea2514"/>
<rect x="91.28" y="733.02" width="13.44" height="13.42" fill="#dc2313"/>
<rect x="103.72" y="733.02" width="13.44" height="13.42" fill="#d12112"/>
<rect x="116.16" y="733.02" width="13.44" height="13.42" fill="#bd1e10"/>
<rect x="128.60" y="733.02" width="13.44" height="13.42" fill="#9c180d"/>
<rect x="141.04" y="733.02" width="13.44" height="13.42" fill="#6a1109"/>
<rect x="153.48" y="733.02" width="13.44" height="13.42" fill="#520d07"/>
<rect x="165.92" y="733.02" width="13.44" height="13.42" fill="#3d0a05"/>
<rect x="178.36" y="733.02" width="12.44" height="13.42" fill="#490b06"/>
<rect x="66.40" y="745.44" width="13.44" height="13.42" fill="#f32615"/>
<rect x="78.84" y="745.44" width="13.44" height="13.42" fill="#e82414"/>
<rect x="91.28" y="745.44" width="13.44" height="13.42" fill="#d12112"/>
<rect x="103.72" y="745.44" width="13.44" height="13.42" fill="#b91d10"/>
<rect x="116.16" y="745.44" width="13.44" height="13.42" fill="#94170d"/>
<rect x="128.60" y="745.44" width="13.44" height="13.42" fill="#5e0f08"/>
<rect x="141.04" y="745.44" width="13.44" height="13.42" fill="#340804"/>
<rect x="153.48" y="745.44" width="13.44" height="13.42" fill="#1a0402"/>
<rect x="165.92" y="745.44" width="13.44" height="13.42" fill="#160302"/>
<rect x="178.36" y="745.44" width="12.44" height="13.42" fill="#230503"/>
<rect x="66.40" y="757.86" width="13.44" height="13.42" fill="#f22615"/>
<rect x="78.84" y="757.86" width="13.44" height="13.42" fill="#e52414"/>
<rect x="91.28" y="757.86" width="13.44" height="13.42" fill="#c71f11"/>
<rect x="103.72" y="757.86" width="13.44" height="13.42" fill="#94170d"/>
<rect x="116.16" y="757.86" width="13.44" height="13.42" fill="#6d1109"/>
<rect x="128.60" y="757.86" width="13.44" height="13.42" fill="#3a0905"/>
<rect x="141.04" y="757.86" width="13.44" height="13.42" fill="#250603"/>
<rect x="153.48" y="757.86" width="13.44" height="13.42" fill="#1a0402"/>
<rect x="165.92" y="757.86" width="13.44" height="13.42" fill="#090101"/>
<rect x="178.36" y="757.86" width="12.44" height="13.42" fill="#0d0201"/>
<rect x="66.40" y="770.28" width="13.44" height="13.42" fill="#ef2515"/>
<rect x="78.84" y="770.28" width="13.44" height="13.42" fill="#e52414"/>
<rect x="91.28" y="770.28" width="13.44" height="13.42" fill="#c71f11"/>
<rect x="103.72" y="770.28" width="13.44" height="13.42" fill="#a0190e"/>
<rect x="116.16" y="770.28" width="13.44" height="13.42" fill="#641009"/>
<rect x="128.60" y="770.28" width="13.44" height="13.42" fill="#310804"/>
<rect x="141.04" y="770.28" width="13.44" height="13.42" fill="#1a0402"/>
<rect x="153.48" y="770.28" width="13.44" height="13.42" fill="#110302"/>
<rect x="165.92" y="770.28" width="13.44" height="13.42" fill="#160302"/>
<rect x="178.36" y="770.28" width="12.44" height="13.42" fill="#070101"/>
<rect x="66.40" y="782.70" width="13.44" height="13.42" fill="#ef2515"/>
<rect x="78.84" y="782.70" width="13.44" height="13.42" fill="#e02313"/>
<rect x="91.28" y="782.70" width="13.44" height="13.42" fill="#c71f11"/>
<rect x="103.72" y="782.70" width="13.44" height="13.42" fill="#94170d"/>
<rect x="116.16" y="782.70" width="13.44" height="13.42" fill="#5e0f08"/>
<rect x="128.60" y="782.70" width="13.44" height="13.42" fill="#340804"/>
<rect x="141.04" y="782.70" width="13.44" height="13.42" fill="#210503"/>
<rect x="153.48" y="782.70" width="13.44" height="13.42" fill="#140302"/>
<rect x="165.92" y="782.70" width="13.44" height="13.42" fill="#110302"/>
<rect x="178.36" y="782.70" width="12.44" height="13.42" fill="#020000"/>
<rect x="66.40" y="795.12" width="13.44" height="13.42" fill="#ed2514"/>
<rect x="78.84" y="795.12" width="13.44" height="13.42" fill="#dc2313"/>
<rect x="91.28" y="795.12" width="13.44" height="13.42" fill="#c21e11"/>
<rect x="103.72" y="795.12" width="13.44" height="13.42" fill="#94170d"/>
<rect x="116.16" y="795.12" width="13.44" height="13.42" fill="#520d07"/>
<rect x="128.60" y="795.12" width="13.44" height="13.42" fill="#270603"/>
<rect x="141.04" y="795.12" width="13.44" height="13.42" fill="#180402"/>
<rect x="153.48" y="795.12" width="13.44" height="13.42" fill="#110302"/>
<rect x="165.92" y="795.12" width="13.44" height="13.42" fill="#110302"/>
<rect x="178.36" y="795.12" width="12.44" height="13.42" fill="#090101"/>
<rect x="66.40" y="807.54" width="13.44" height="13.42" fill="#eb2514"/>
<rect x="78.84" y="807.54" width="13.44" height="13.42" fill="#da2213"/>
<rect x="91.28" y="807.54" width="13.44" height="13.42" fill="#bd1e10"/>
<rect x="103.72" y="807.54" width="13.44" height="13.42" fill="#90170c"/>
<rect x="116.16" y="807.54" width="13.44" height="13.42" fill="#4f0c07"/>
<rect x="128.60" y="807.54" width="13.44" height="13.42" fill="#230503"/>
<rect x="141.04" y="807.54" width="13.44" height="13.42" fill="#1a0402"/>
<rect x="153.48" y="807.54" width="13.44" height="13.42" fill="#110302"/>
<rect x="165.92" y="807.54" width="13.44" height="13.42" fill="#0f0201"/>
<rect x="178.36" y="807.54" width="12.44" height="13.42" fill="#070101"/>
<rect x="66.40" y="819.96" width="13.44" height="13.42" fill="#ea2514"/>
<rect x="78.84" y="819.96" width="13.44" height="13.42" fill="#d92213"/>
<rect x="91.28" y="819.96" width="13.44" height="13.42" fill="#b91d10"/>
<rect x="103.72" y="819.96" width="13.44" height="13.42" fill="#8c160c"/>
<rect x="116.16" y="819.96" width="13.44" height="13.42" fill="#490b06"/>
<rect x="128.60" y="819.96" width="13.44" height="13.42" fill="#230503"/>
<rect x="141.04" y="819.96" width="13.44" height="13.42" fill="#180402"/>
<rect x="153.48" y="819.96" width="13.44" height="13.42" fill="#0d0201"/>
<rect x="165.92" y="819.96" width="13.44" height="13.42" fill="#160302"/>
<rect x="178.36" y="819.96" width="12.44" height="13.42" fill="#000000"/>
<rect x="66.40" y="832.38" width="13.44" height="12.42" fill="#d92213"/>
<rect x="78.84" y="832.38" width="13.44" height="12.42" fill="#bd1e10"/>
<rect x="91.28" y="832.38" width="13.44" height="12.42" fill="#90170c"/>
<rect x="103.72" y="832.38" width="13.44" height="12.42" fill="#671009"/>
<rect x="116.16" y="832.38" width="13.44" height="12.42" fill="#370905"/>
<rect x="128.60" y="832.38" width="13.44" height="12.42" fill="#2a0704"/>
<rect x="141.04" y="832.38" width="13.44" height="12.42" fill="#0d0201"/>
<rect x="153.48" y="832.38" width="13.44" height="12.42" fill="#090101"/>
<rect x="165.92" y="832.38" width="13.44" height="12.42" fill="#020000"/>
<rect x="178.36" y="832.38" width="12.44" height="12.42" fill="#000000"/>
</g>
<g font-size="5.2" fill="#fff" text-anchor="middle">
<text y="728.61" fill="#fff"><tspan x="72.62">7</tspan><tspan x="85.06">10</tspan><tspan x="97.50">15</tspan><tspan x="109.94">20</tspan><tspan x="122.38">25</tspan><tspan x="134.82">30</tspan><tspan x="147.26">40</tspan><tspan x="159.70">44</tspan><tspan x="172.14">50</tspan><tspan x="184.58">54</tspan></text>
<text y="741.03" fill="#fff"><tspan x="72.62">8</tspan><tspan x="85.06">14</tspan><tspan x="97.50">22</tspan><tspan x="109.94">27</tspan><tspan x="122.38">35</tspan><tspan x="134.82">46</tspan><tspan x="147.26">59</tspan><tspan x="159.70">67</tspan><tspan x="172.14">74</tspan><tspan x="184.58">70</tspan></text>
<text y="753.45" fill="#fff"><tspan x="72.62">8</tspan><tspan x="85.06">15</tspan><tspan x="97.50">27</tspan><tspan x="109.94">37</tspan><tspan x="122.38">48</tspan><tspan x="134.82">63</tspan><tspan x="147.26">77</tspan><tspan x="159.70">88</tspan><tspan x="172.14">90</tspan><tspan x="184.58">84</tspan></text>
<text y="765.87" fill="#fff"><tspan x="72.62">9</tspan><tspan x="85.06">17</tspan><tspan x="97.50">31</tspan><tspan x="109.94">48</tspan><tspan x="122.38">58</tspan><tspan x="134.82">75</tspan><tspan x="147.26">83</tspan><tspan x="159.70">88</tspan><tspan x="172.14">96</tspan><tspan x="184.58">94</tspan></text>
<text y="778.29" fill="#fff"><tspan x="72.62">11</tspan><tspan x="85.06">17</tspan><tspan x="97.50">31</tspan><tspan x="109.94">45</tspan><tspan x="122.38">61</tspan><tspan x="134.82">78</tspan><tspan x="147.26">88</tspan><tspan x="159.70">92</tspan><tspan x="172.14">90</tspan><tspan x="184.58">97</tspan></text>
<text y="790.71" fill="#fff"><tspan x="72.62">11</tspan><tspan x="85.06">20</tspan><tspan x="97.50">31</tspan><tspan x="109.94">48</tspan><tspan x="122.38">63</tspan><tspan x="134.82">77</tspan><tspan x="147.26">85</tspan><tspan x="159.70">91</tspan><tspan x="172.14">92</tspan><tspan x="184.58">99</tspan></text>
<text y="803.13" fill="#fff"><tspan x="72.62">12</tspan><tspan x="85.06">22</tspan><tspan x="97.50">33</tspan><tspan x="109.94">48</tspan><tspan x="122.38">67</tspan><tspan x="134.82">82</tspan><tspan x="147.26">89</tspan><tspan x="159.70">92</tspan><tspan x="172.14">92</tspan><tspan x="184.58">96</tspan></text>
<text y="815.55" fill="#fff"><tspan x="72.62">13</tspan><tspan x="85.06">23</tspan><tspan x="97.50">35</tspan><tspan x="109.94">49</tspan><tspan x="122.38">68</tspan><tspan x="134.82">84</tspan><tspan x="147.26">88</tspan><tspan x="159.70">92</tspan><tspan x="172.14">93</tspan><tspan x="184.58">97</tspan></text>
<text y="827.97" fill="#fff"><tspan x="72.62">14</tspan><tspan x="85.06">24</tspan><tspan x="97.50">37</tspan><tspan x="109.94">50</tspan><tspan x="122.38">70</tspan><tspan x="134.82">84</tspan><tspan x="147.26">89</tspan><tspan x="159.70">94</tspan><tspan x="172.14">90</tspan><tspan x="184.58">100</tspan></text>
<text y="840.39" fill="#fff"><tspan x="72.62">24</tspan><tspan x="85.06">35</tspan><tspan x="97.50">49</tspan><tspan x="109.94">60</tspan><tspan x="122.38">76</tspan><tspan x="134.82">81</tspan><tspan x="147.26">94</tspan><tspan x="159.70">96</tspan><tspan x="172.14">99</tspan><tspan x="184.58">100</tspan></text>
</g>
<g>
<rect x="66.50" y="861.90" width="13.44" height="13.39" fill="#e32414"/>
<rect x="78.94" y="861.90" width="13.44" height="13.39" fill="#e12313"/>
<rect x="91.38" y="861.90" width="13.44" height="13.39" fill="#dc2313"/>
<rect x="103.82" y="861.90" width="13.44" height="13.39" fill="#e02313"/>
<rect x="116.26" y="861.90" width="13.44" height="13.39" fill="#c92011"/>
<rect x="128.70" y="861.90" width="13.44" height="13.39" fill="#bf1e10"/>
<rect x="141.14" y="861.90" width="13.44" height="13.39" fill="#b71d10"/>
<rect x="153.58" y="861.90" width="13.44" height="13.39" fill="#ac1b0f"/>
<rect x="166.02" y="861.90" width="13.44" height="13.39" fill="#b01c0f"/>
<rect x="178.46" y="861.90" width="12.44" height="13.39" fill="#b01c0f"/>
<rect x="66.50" y="874.29" width="13.44" height="13.39" fill="#e32414"/>
<rect x="78.94" y="874.29" width="13.44" height="13.39" fill="#e12313"/>
<rect x="91.38" y="874.29" width="13.44" height="13.39" fill="#da2213"/>
<rect x="103.82" y="874.29" width="13.44" height="13.39" fill="#da2213"/>
<rect x="116.26" y="874.29" width="13.44" height="13.39" fill="#bf1e10"/>
<rect x="128.70" y="874.29" width="13.44" height="13.39" fill="#b21c0f"/>
<rect x="141.14" y="874.29" width="13.44" height="13.39" fill="#a41a0e"/>
<rect x="153.58" y="874.29" width="13.44" height="13.39" fill="#ac1b0f"/>
<rect x="166.02" y="874.29" width="13.44" height="13.39" fill="#b21c0f"/>
<rect x="178.46" y="874.29" width="12.44" height="13.39" fill="#a0190e"/>
<rect x="66.50" y="886.68" width="13.44" height="13.39" fill="#e32414"/>
<rect x="78.94" y="886.68" width="13.44" height="13.39" fill="#de2313"/>
<rect x="91.38" y="886.68" width="13.44" height="13.39" fill="#d42112"/>
<rect x="103.82" y="886.68" width="13.44" height="13.39" fill="#d42112"/>
<rect x="116.26" y="886.68" width="13.44" height="13.39" fill="#bb1d10"/>
<rect x="128.70" y="886.68" width="13.44" height="13.39" fill="#b41c10"/>
<rect x="141.14" y="886.68" width="13.44" height="13.39" fill="#a41a0e"/>
<rect x="153.58" y="886.68" width="13.44" height="13.39" fill="#a81a0e"/>
<rect x="166.02" y="886.68" width="13.44" height="13.39" fill="#88150c"/>
<rect x="178.46" y="886.68" width="12.44" height="13.39" fill="#90170c"/>
<rect x="66.50" y="899.07" width="13.44" height="13.39" fill="#e32414"/>
<rect x="78.94" y="899.07" width="13.44" height="13.39" fill="#dc2313"/>
<rect x="91.38" y="899.07" width="13.44" height="13.39" fill="#cc2012"/>
<rect x="103.82" y="899.07" width="13.44" height="13.39" fill="#c21e11"/>
<rect x="116.26" y="899.07" width="13.44" height="13.39" fill="#94170d"/>
<rect x="128.70" y="899.07" width="13.44" height="13.39" fill="#90170c"/>
<rect x="141.14" y="899.07" width="13.44" height="13.39" fill="#88150c"/>
<rect x="153.58" y="899.07" width="13.44" height="13.39" fill="#80140b"/>
<rect x="166.02" y="899.07" width="13.44" height="13.39" fill="#6a1109"/>
<rect x="178.46" y="899.07" width="12.44" height="13.39" fill="#671009"/>
<rect x="66.50" y="911.46" width="13.44" height="13.39" fill="#e02313"/>
<rect x="78.94" y="911.46" width="13.44" height="13.39" fill="#d92213"/>
<rect x="91.38" y="911.46" width="13.44" height="13.39" fill="#c41f11"/>
<rect x="103.82" y="911.46" width="13.44" height="13.39" fill="#b91d10"/>
<rect x="116.26" y="911.46" width="13.44" height="13.39" fill="#84150b"/>
<rect x="128.70" y="911.46" width="13.44" height="13.39" fill="#6d1109"/>
<rect x="141.14" y="911.46" width="13.44" height="13.39" fill="#550d07"/>
<rect x="153.58" y="911.46" width="13.44" height="13.39" fill="#430b06"/>
<rect x="166.02" y="911.46" width="13.44" height="13.39" fill="#430b06"/>
<rect x="178.46" y="911.46" width="12.44" height="13.39" fill="#2e0704"/>
<rect x="66.50" y="923.85" width="13.44" height="13.39" fill="#e12313"/>
<rect x="78.94" y="923.85" width="13.44" height="13.39" fill="#d42112"/>
<rect x="91.38" y="923.85" width="13.44" height="13.39" fill="#bd1e10"/>
<rect x="103.82" y="923.85" width="13.44" height="13.39" fill="#b21c0f"/>
<rect x="116.26" y="923.85" width="13.44" height="13.39" fill="#70120a"/>
<rect x="128.70" y="923.85" width="13.44" height="13.39" fill="#610f08"/>
<rect x="141.14" y="923.85" width="13.44" height="13.39" fill="#520d07"/>
<rect x="153.58" y="923.85" width="13.44" height="13.39" fill="#2e0704"/>
<rect x="166.02" y="923.85" width="13.44" height="13.39" fill="#310804"/>
<rect x="178.46" y="923.85" width="12.44" height="13.39" fill="#1c0402"/>
<rect x="66.50" y="936.24" width="13.44" height="13.39" fill="#e32414"/>
<rect x="78.94" y="936.24" width="13.44" height="13.39" fill="#d12112"/>
<rect x="91.38" y="936.24" width="13.44" height="13.39" fill="#b71d10"/>
<rect x="103.82" y="936.24" width="13.44" height="13.39" fill="#9c180d"/>
<rect x="116.26" y="936.24" width="13.44" height="13.39" fill="#580e08"/>
<rect x="128.70" y="936.24" width="13.44" height="13.39" fill="#430b06"/>
<rect x="141.14" y="936.24" width="13.44" height="13.39" fill="#210503"/>
<rect x="153.58" y="936.24" width="13.44" height="13.39" fill="#1c0402"/>
<rect x="166.02" y="936.24" width="13.44" height="13.39" fill="#0b0201"/>
<rect x="178.46" y="936.24" width="12.44" height="13.39" fill="#110302"/>
<rect x="66.50" y="948.63" width="13.44" height="13.39" fill="#e32414"/>
<rect x="78.94" y="948.63" width="13.44" height="13.39" fill="#c71f11"/>
<rect x="91.38" y="948.63" width="13.44" height="13.39" fill="#b91d10"/>
<rect x="103.82" y="948.63" width="13.44" height="13.39" fill="#80140b"/>
<rect x="116.26" y="948.63" width="13.44" height="13.39" fill="#550d07"/>
<rect x="128.70" y="948.63" width="13.44" height="13.39" fill="#230503"/>
<rect x="141.14" y="948.63" width="13.44" height="13.39" fill="#040100"/>
<rect x="153.58" y="948.63" width="13.44" height="13.39" fill="#090101"/>
<rect x="166.02" y="948.63" width="13.44" height="13.39" fill="#070101"/>
<rect x="178.46" y="948.63" width="12.44" height="13.39" fill="#040100"/>
<rect x="66.50" y="961.02" width="13.44" height="13.39" fill="#e12313"/>
<rect x="78.94" y="961.02" width="13.44" height="13.39" fill="#cc2012"/>
<rect x="91.38" y="961.02" width="13.44" height="13.39" fill="#b91d10"/>
<rect x="103.82" y="961.02" width="13.44" height="13.39" fill="#70120a"/>
<rect x="116.26" y="961.02" width="13.44" height="13.39" fill="#2e0704"/>
<rect x="128.70" y="961.02" width="13.44" height="13.39" fill="#160302"/>
<rect x="141.14" y="961.02" width="13.44" height="13.39" fill="#000000"/>
<rect x="153.58" y="961.02" width="13.44" height="13.39" fill="#020000"/>
<rect x="166.02" y="961.02" width="13.44" height="13.39" fill="#000000"/>
<rect x="178.46" y="961.02" width="12.44" height="13.39" fill="#070101"/>
<rect x="66.50" y="973.41" width="13.44" height="12.39" fill="#de2313"/>
<rect x="78.94" y="973.41" width="13.44" height="12.39" fill="#bd1e10"/>
<rect x="91.38" y="973.41" width="13.44" height="12.39" fill="#ac1b0f"/>
<rect x="103.82" y="973.41" width="13.44" height="12.39" fill="#70120a"/>
<rect x="116.26" y="973.41" width="13.44" height="12.39" fill="#3a0905"/>
<rect x="128.70" y="973.41" width="13.44" height="12.39" fill="#1c0402"/>
<rect x="141.14" y="973.41" width="13.44" height="12.39" fill="#070101"/>
<rect x="153.58" y="973.41" width="13.44" height="12.39" fill="#040100"/>
<rect x="166.02" y="973.41" width="13.44" height="12.39" fill="#000000"/>
<rect x="178.46" y="973.41" width="12.44" height="12.39" fill="#000000"/>
</g>
<g font-size="6.0" fill="#fff" text-anchor="middle">
<text y="870.20" fill="#fff"><tspan x="72.72">18</tspan><tspan x="85.16">19</tspan><tspan x="97.60">22</tspan><tspan x="110.04">20</tspan><tspan x="122.48">30</tspan><tspan x="134.92">34</tspan><tspan x="147.36">38</tspan><tspan x="159.80">42</tspan><tspan x="172.24">41</tspan><tspan x="184.68">41</tspan></text>
<text y="882.59" fill="#fff"><tspan x="72.72">18</tspan><tspan x="85.16">19</tspan><tspan x="97.60">23</tspan><tspan x="110.04">23</tspan><tspan x="122.48">34</tspan><tspan x="134.92">40</tspan><tspan x="147.36">44</tspan><tspan x="159.80">42</tspan><tspan x="172.24">40</tspan><tspan x="184.68">45</tspan></text>
<text y="894.98" fill="#fff"><tspan x="72.72">18</tspan><tspan x="85.16">21</tspan><tspan x="97.60">26</tspan><tspan x="110.04">26</tspan><tspan x="122.48">36</tspan><tspan x="134.92">39</tspan><tspan x="147.36">44</tspan><tspan x="159.80">43</tspan><tspan x="172.24">51</tspan><tspan x="184.68">49</tspan></text>
<text y="907.37" fill="#fff"><tspan x="72.72">18</tspan><tspan x="85.16">22</tspan><tspan x="97.60">29</tspan><tspan x="110.04">33</tspan><tspan x="122.48">48</tspan><tspan x="134.92">49</tspan><tspan x="147.36">51</tspan><tspan x="159.80">53</tspan><tspan x="172.24">59</tspan><tspan x="184.68">60</tspan></text>
<text y="919.76" fill="#fff"><tspan x="72.72">20</tspan><tspan x="85.16">24</tspan><tspan x="97.60">32</tspan><tspan x="110.04">37</tspan><tspan x="122.48">52</tspan><tspan x="134.92">58</tspan><tspan x="147.36">66</tspan><tspan x="159.80">72</tspan><tspan x="172.24">72</tspan><tspan x="184.68">79</tspan></text>
<text y="932.15" fill="#fff"><tspan x="72.72">19</tspan><tspan x="85.16">26</tspan><tspan x="97.60">35</tspan><tspan x="110.04">40</tspan><tspan x="122.48">57</tspan><tspan x="134.92">62</tspan><tspan x="147.36">67</tspan><tspan x="159.80">79</tspan><tspan x="172.24">78</tspan><tspan x="184.68">87</tspan></text>
<text y="944.54" fill="#fff"><tspan x="72.72">18</tspan><tspan x="85.16">27</tspan><tspan x="97.60">38</tspan><tspan x="110.04">46</tspan><tspan x="122.48">65</tspan><tspan x="134.92">72</tspan><tspan x="147.36">85</tspan><tspan x="159.80">87</tspan><tspan x="172.24">95</tspan><tspan x="184.68">92</tspan></text>
<text y="956.93" fill="#fff"><tspan x="72.72">18</tspan><tspan x="85.16">31</tspan><tspan x="97.60">37</tspan><tspan x="110.04">53</tspan><tspan x="122.48">66</tspan><tspan x="134.92">84</tspan><tspan x="147.36">98</tspan><tspan x="159.80">96</tspan><tspan x="172.24">97</tspan><tspan x="184.68">98</tspan></text>
<text y="969.32" fill="#fff"><tspan x="72.72">19</tspan><tspan x="85.16">29</tspan><tspan x="97.60">37</tspan><tspan x="110.04">57</tspan><tspan x="122.48">79</tspan><tspan x="134.92">90</tspan><tspan x="147.36">100</tspan><tspan x="159.80">99</tspan><tspan x="172.24">100</tspan><tspan x="184.68">97</tspan></text>
<text y="981.71" fill="#fff"><tspan x="72.72">21</tspan><tspan x="85.16">35</tspan><tspan x="97.60">42</tspan><tspan x="110.04">57</tspan><tspan x="122.48">75</tspan><tspan x="134.92">87</tspan><tspan x="147.36">97</tspan><tspan x="159.80">98</tspan><tspan x="172.24">102</tspan><tspan x="184.68">100</tspan></text>
</g>
<g>
<rect x="367.80" y="721.40" width="13.44" height="13.33" fill="#ed2514"/>
<rect x="380.24" y="721.40" width="13.44" height="13.33" fill="#ed2514"/>
<rect x="392.68" y="721.40" width="13.44" height="13.33" fill="#ea2514"/>
<rect x="405.12" y="721.40" width="13.44" height="13.33" fill="#e62414"/>
<rect x="417.56" y="721.40" width="13.44" height="13.33" fill="#e62414"/>
<rect x="430.00" y="721.40" width="13.44" height="13.33" fill="#e32414"/>
<rect x="442.44" y="721.40" width="13.44" height="13.33" fill="#e02313"/>
<rect x="454.88" y="721.40" width="13.44" height="13.33" fill="#e02313"/>
<rect x="467.32" y="721.40" width="13.44" height="13.33" fill="#de2313"/>
<rect x="479.76" y="721.40" width="12.44" height="13.33" fill="#de2313"/>
<rect x="367.80" y="733.73" width="13.44" height="13.33" fill="#e52414"/>
<rect x="380.24" y="733.73" width="13.44" height="13.33" fill="#e12313"/>
<rect x="392.68" y="733.73" width="13.44" height="13.33" fill="#e12313"/>
<rect x="405.12" y="733.73" width="13.44" height="13.33" fill="#e12313"/>
<rect x="417.56" y="733.73" width="13.44" height="13.33" fill="#e02313"/>
<rect x="430.00" y="733.73" width="13.44" height="13.33" fill="#e02313"/>
<rect x="442.44" y="733.73" width="13.44" height="13.33" fill="#e02313"/>
<rect x="454.88" y="733.73" width="13.44" height="13.33" fill="#de2313"/>
<rect x="467.32" y="733.73" width="13.44" height="13.33" fill="#da2213"/>
<rect x="479.76" y="733.73" width="12.44" height="13.33" fill="#da2213"/>
<rect x="367.80" y="746.06" width="13.44" height="13.33" fill="#e02313"/>
<rect x="380.24" y="746.06" width="13.44" height="13.33" fill="#da2213"/>
<rect x="392.68" y="746.06" width="13.44" height="13.33" fill="#e12313"/>
<rect x="405.12" y="746.06" width="13.44" height="13.33" fill="#de2313"/>
<rect x="417.56" y="746.06" width="13.44" height="13.33" fill="#e12313"/>
<rect x="430.00" y="746.06" width="13.44" height="13.33" fill="#e02313"/>
<rect x="442.44" y="746.06" width="13.44" height="13.33" fill="#e32414"/>
<rect x="454.88" y="746.06" width="13.44" height="13.33" fill="#de2313"/>
<rect x="467.32" y="746.06" width="13.44" height="13.33" fill="#d92213"/>
<rect x="479.76" y="746.06" width="12.44" height="13.33" fill="#d92213"/>
<rect x="367.80" y="758.39" width="13.44" height="13.33" fill="#e02313"/>
<rect x="380.24" y="758.39" width="13.44" height="13.33" fill="#d12112"/>
<rect x="392.68" y="758.39" width="13.44" height="13.33" fill="#d12112"/>
<rect x="405.12" y="758.39" width="13.44" height="13.33" fill="#d12112"/>
<rect x="417.56" y="758.39" width="13.44" height="13.33" fill="#d12112"/>
<rect x="430.00" y="758.39" width="13.44" height="13.33" fill="#c92011"/>
<rect x="442.44" y="758.39" width="13.44" height="13.33" fill="#c92011"/>
<rect x="454.88" y="758.39" width="13.44" height="13.33" fill="#c71f11"/>
<rect x="467.32" y="758.39" width="13.44" height="13.33" fill="#bd1e10"/>
<rect x="479.76" y="758.39" width="12.44" height="13.33" fill="#b91d10"/>
<rect x="367.80" y="770.72" width="13.44" height="13.33" fill="#d12112"/>
<rect x="380.24" y="770.72" width="13.44" height="13.33" fill="#c92011"/>
<rect x="392.68" y="770.72" width="13.44" height="13.33" fill="#c21e11"/>
<rect x="405.12" y="770.72" width="13.44" height="13.33" fill="#bd1e10"/>
<rect x="417.56" y="770.72" width="13.44" height="13.33" fill="#a81a0e"/>
<rect x="430.00" y="770.72" width="13.44" height="13.33" fill="#94170d"/>
<rect x="442.44" y="770.72" width="13.44" height="13.33" fill="#6d1109"/>
<rect x="454.88" y="770.72" width="13.44" height="13.33" fill="#610f08"/>
<rect x="467.32" y="770.72" width="13.44" height="13.33" fill="#520d07"/>
<rect x="479.76" y="770.72" width="12.44" height="13.33" fill="#400a06"/>
<rect x="367.80" y="783.05" width="13.44" height="13.33" fill="#c92011"/>
<rect x="380.24" y="783.05" width="13.44" height="13.33" fill="#c92011"/>
<rect x="392.68" y="783.05" width="13.44" height="13.33" fill="#ac1b0f"/>
<rect x="405.12" y="783.05" width="13.44" height="13.33" fill="#88150c"/>
<rect x="417.56" y="783.05" width="13.44" height="13.33" fill="#490b06"/>
<rect x="430.00" y="783.05" width="13.44" height="13.33" fill="#430b06"/>
<rect x="442.44" y="783.05" width="13.44" height="13.33" fill="#430b06"/>
<rect x="454.88" y="783.05" width="13.44" height="13.33" fill="#430b06"/>
<rect x="467.32" y="783.05" width="13.44" height="13.33" fill="#400a06"/>
<rect x="479.76" y="783.05" width="12.44" height="13.33" fill="#400a06"/>
<rect x="367.80" y="795.38" width="13.44" height="13.33" fill="#bf1e10"/>
<rect x="380.24" y="795.38" width="13.44" height="13.33" fill="#bb1d10"/>
<rect x="392.68" y="795.38" width="13.44" height="13.33" fill="#9c180d"/>
<rect x="405.12" y="795.38" width="13.44" height="13.33" fill="#70120a"/>
<rect x="417.56" y="795.38" width="13.44" height="13.33" fill="#250603"/>
<rect x="430.00" y="795.38" width="13.44" height="13.33" fill="#160302"/>
<rect x="442.44" y="795.38" width="13.44" height="13.33" fill="#140302"/>
<rect x="454.88" y="795.38" width="13.44" height="13.33" fill="#140302"/>
<rect x="467.32" y="795.38" width="13.44" height="13.33" fill="#0d0201"/>
<rect x="479.76" y="795.38" width="12.44" height="13.33" fill="#0b0201"/>
<rect x="367.80" y="807.71" width="13.44" height="13.33" fill="#b41c10"/>
<rect x="380.24" y="807.71" width="13.44" height="13.33" fill="#bd1e10"/>
<rect x="392.68" y="807.71" width="13.44" height="13.33" fill="#8c160c"/>
<rect x="405.12" y="807.71" width="13.44" height="13.33" fill="#70120a"/>
<rect x="417.56" y="807.71" width="13.44" height="13.33" fill="#1f0503"/>
<rect x="430.00" y="807.71" width="13.44" height="13.33" fill="#140302"/>
<rect x="442.44" y="807.71" width="13.44" height="13.33" fill="#0b0201"/>
<rect x="454.88" y="807.71" width="13.44" height="13.33" fill="#0d0201"/>
<rect x="467.32" y="807.71" width="13.44" height="13.33" fill="#040100"/>
<rect x="479.76" y="807.71" width="12.44" height="13.33" fill="#090101"/>
<rect x="367.80" y="820.04" width="13.44" height="13.33" fill="#b21c0f"/>
<rect x="380.24" y="820.04" width="13.44" height="13.33" fill="#b01c0f"/>
<rect x="392.68" y="820.04" width="13.44" height="13.33" fill="#84150b"/>
<rect x="405.12" y="820.04" width="13.44" height="13.33" fill="#520d07"/>
<rect x="417.56" y="820.04" width="13.44" height="13.33" fill="#160302"/>
<rect x="430.00" y="820.04" width="13.44" height="13.33" fill="#110302"/>
<rect x="442.44" y="820.04" width="13.44" height="13.33" fill="#070101"/>
<rect x="454.88" y="820.04" width="13.44" height="13.33" fill="#090101"/>
<rect x="467.32" y="820.04" width="13.44" height="13.33" fill="#020000"/>
<rect x="479.76" y="820.04" width="12.44" height="13.33" fill="#090101"/>
<rect x="367.80" y="832.37" width="13.44" height="12.33" fill="#b01c0f"/>
<rect x="380.24" y="832.37" width="13.44" height="12.33" fill="#90170c"/>
<rect x="392.68" y="832.37" width="13.44" height="12.33" fill="#6a1109"/>
<rect x="405.12" y="832.37" width="13.44" height="12.33" fill="#340804"/>
<rect x="417.56" y="832.37" width="13.44" height="12.33" fill="#0d0201"/>
<rect x="430.00" y="832.37" width="13.44" height="12.33" fill="#0d0201"/>
<rect x="442.44" y="832.37" width="13.44" height="12.33" fill="#090101"/>
<rect x="454.88" y="832.37" width="13.44" height="12.33" fill="#090101"/>
<rect x="467.32" y="832.37" width="13.44" height="12.33" fill="#040100"/>
<rect x="479.76" y="832.37" width="12.44" height="12.33" fill="#000000"/>
</g>
<g font-size="6.0" fill="#fff" text-anchor="middle">
<text y="729.66" fill="#fff"><tspan x="374.02">12</tspan><tspan x="386.46">12</tspan><tspan x="398.90">14</tspan><tspan x="411.34">16</tspan><tspan x="423.78">16</tspan><tspan x="436.22">18</tspan><tspan x="448.66">20</tspan><tspan x="461.10">20</tspan><tspan x="473.54">21</tspan><tspan x="485.98">21</tspan></text>
<text y="742.00" fill="#fff"><tspan x="374.02">17</tspan><tspan x="386.46">19</tspan><tspan x="398.90">19</tspan><tspan x="411.34">19</tspan><tspan x="423.78">20</tspan><tspan x="436.22">20</tspan><tspan x="448.66">20</tspan><tspan x="461.10">21</tspan><tspan x="473.54">23</tspan><tspan x="485.98">23</tspan></text>
<text y="754.32" fill="#fff"><tspan x="374.02">20</tspan><tspan x="386.46">23</tspan><tspan x="398.90">19</tspan><tspan x="411.34">21</tspan><tspan x="423.78">19</tspan><tspan x="436.22">20</tspan><tspan x="448.66">18</tspan><tspan x="461.10">21</tspan><tspan x="473.54">24</tspan><tspan x="485.98">24</tspan></text>
<text y="766.65" fill="#fff"><tspan x="374.02">20</tspan><tspan x="386.46">27</tspan><tspan x="398.90">27</tspan><tspan x="411.34">27</tspan><tspan x="423.78">27</tspan><tspan x="436.22">30</tspan><tspan x="448.66">30</tspan><tspan x="461.10">31</tspan><tspan x="473.54">35</tspan><tspan x="485.98">37</tspan></text>
<text y="778.99" fill="#fff"><tspan x="374.02">27</tspan><tspan x="386.46">30</tspan><tspan x="398.90">33</tspan><tspan x="411.34">35</tspan><tspan x="423.78">43</tspan><tspan x="436.22">48</tspan><tspan x="448.66">58</tspan><tspan x="461.10">62</tspan><tspan x="473.54">67</tspan><tspan x="485.98">73</tspan></text>
<text y="791.31" fill="#fff"><tspan x="374.02">30</tspan><tspan x="386.46">30</tspan><tspan x="398.90">42</tspan><tspan x="411.34">51</tspan><tspan x="423.78">70</tspan><tspan x="436.22">72</tspan><tspan x="448.66">72</tspan><tspan x="461.10">72</tspan><tspan x="473.54">73</tspan><tspan x="485.98">73</tspan></text>
<text y="803.64" fill="#fff"><tspan x="374.02">34</tspan><tspan x="386.46">36</tspan><tspan x="398.90">46</tspan><tspan x="411.34">57</tspan><tspan x="423.78">83</tspan><tspan x="436.22">90</tspan><tspan x="448.66">91</tspan><tspan x="461.10">91</tspan><tspan x="473.54">94</tspan><tspan x="485.98">95</tspan></text>
<text y="815.98" fill="#fff"><tspan x="374.02">39</tspan><tspan x="386.46">35</tspan><tspan x="398.90">50</tspan><tspan x="411.34">57</tspan><tspan x="423.78">86</tspan><tspan x="436.22">91</tspan><tspan x="448.66">95</tspan><tspan x="461.10">94</tspan><tspan x="473.54">98</tspan><tspan x="485.98">96</tspan></text>
<text y="828.30" fill="#fff"><tspan x="374.02">40</tspan><tspan x="386.46">41</tspan><tspan x="398.90">52</tspan><tspan x="411.34">67</tspan><tspan x="423.78">90</tspan><tspan x="436.22">92</tspan><tspan x="448.66">97</tspan><tspan x="461.10">96</tspan><tspan x="473.54">99</tspan><tspan x="485.98">96</tspan></text>
<text y="840.63" fill="#fff"><tspan x="374.02">41</tspan><tspan x="386.46">49</tspan><tspan x="398.90">59</tspan><tspan x="411.34">77</tspan><tspan x="423.78">94</tspan><tspan x="436.22">94</tspan><tspan x="448.66">96</tspan><tspan x="461.10">96</tspan><tspan x="473.54">98</tspan><tspan x="485.98">100</tspan></text>
</g>
<g>
<rect x="367.70" y="861.90" width="13.44" height="13.37" fill="#d92213"/>
<rect x="380.14" y="861.90" width="13.44" height="13.37" fill="#d92213"/>
<rect x="392.58" y="861.90" width="13.44" height="13.37" fill="#d92213"/>
<rect x="405.02" y="861.90" width="13.44" height="13.37" fill="#d92213"/>
<rect x="417.46" y="861.90" width="13.44" height="13.37" fill="#c92011"/>
<rect x="429.90" y="861.90" width="13.44" height="13.37" fill="#c92011"/>
<rect x="442.34" y="861.90" width="13.44" height="13.37" fill="#c92011"/>
<rect x="454.78" y="861.90" width="13.44" height="13.37" fill="#c71f11"/>
<rect x="467.22" y="861.90" width="13.44" height="13.37" fill="#c71f11"/>
<rect x="479.66" y="861.90" width="12.44" height="13.37" fill="#b91d10"/>
<rect x="367.70" y="874.27" width="13.44" height="13.37" fill="#d92213"/>
<rect x="380.14" y="874.27" width="13.44" height="13.37" fill="#d92213"/>
<rect x="392.58" y="874.27" width="13.44" height="13.37" fill="#d62212"/>
<rect x="405.02" y="874.27" width="13.44" height="13.37" fill="#d62212"/>
<rect x="417.46" y="874.27" width="13.44" height="13.37" fill="#c41f11"/>
<rect x="429.90" y="874.27" width="13.44" height="13.37" fill="#bf1e10"/>
<rect x="442.34" y="874.27" width="13.44" height="13.37" fill="#bd1e10"/>
<rect x="454.78" y="874.27" width="13.44" height="13.37" fill="#bf1e10"/>
<rect x="467.22" y="874.27" width="13.44" height="13.37" fill="#bf1e10"/>
<rect x="479.66" y="874.27" width="12.44" height="13.37" fill="#b01c0f"/>
<rect x="367.70" y="886.64" width="13.44" height="13.37" fill="#c92011"/>
<rect x="380.14" y="886.64" width="13.44" height="13.37" fill="#c92011"/>
<rect x="392.58" y="886.64" width="13.44" height="13.37" fill="#c92011"/>
<rect x="405.02" y="886.64" width="13.44" height="13.37" fill="#c71f11"/>
<rect x="417.46" y="886.64" width="13.44" height="13.37" fill="#c71f11"/>
<rect x="429.90" y="886.64" width="13.44" height="13.37" fill="#c71f11"/>
<rect x="442.34" y="886.64" width="13.44" height="13.37" fill="#c41f11"/>
<rect x="454.78" y="886.64" width="13.44" height="13.37" fill="#bd1e10"/>
<rect x="467.22" y="886.64" width="13.44" height="13.37" fill="#bf1e10"/>
<rect x="479.66" y="886.64" width="12.44" height="13.37" fill="#bd1e10"/>
<rect x="367.70" y="899.01" width="13.44" height="13.37" fill="#c92011"/>
<rect x="380.14" y="899.01" width="13.44" height="13.37" fill="#c71f11"/>
<rect x="392.58" y="899.01" width="13.44" height="13.37" fill="#c92011"/>
<rect x="405.02" y="899.01" width="13.44" height="13.37" fill="#c92011"/>
<rect x="417.46" y="899.01" width="13.44" height="13.37" fill="#c21e11"/>
<rect x="429.90" y="899.01" width="13.44" height="13.37" fill="#bd1e10"/>
<rect x="442.34" y="899.01" width="13.44" height="13.37" fill="#bd1e10"/>
<rect x="454.78" y="899.01" width="13.44" height="13.37" fill="#bb1d10"/>
<rect x="467.22" y="899.01" width="13.44" height="13.37" fill="#b91d10"/>
<rect x="479.66" y="899.01" width="12.44" height="13.37" fill="#ac1b0f"/>
<rect x="367.70" y="911.38" width="13.44" height="13.37" fill="#bf1e10"/>
<rect x="380.14" y="911.38" width="13.44" height="13.37" fill="#bf1e10"/>
<rect x="392.58" y="911.38" width="13.44" height="13.37" fill="#bd1e10"/>
<rect x="405.02" y="911.38" width="13.44" height="13.37" fill="#bd1e10"/>
<rect x="417.46" y="911.38" width="13.44" height="13.37" fill="#b71d10"/>
<rect x="429.90" y="911.38" width="13.44" height="13.37" fill="#bd1e10"/>
<rect x="442.34" y="911.38" width="13.44" height="13.37" fill="#a41a0e"/>
<rect x="454.78" y="911.38" width="13.44" height="13.37" fill="#9c180d"/>
<rect x="467.22" y="911.38" width="13.44" height="13.37" fill="#88150c"/>
<rect x="479.66" y="911.38" width="12.44" height="13.37" fill="#94170d"/>
<rect x="367.70" y="923.75" width="13.44" height="13.37" fill="#bf1e10"/>
<rect x="380.14" y="923.75" width="13.44" height="13.37" fill="#bf1e10"/>
<rect x="392.58" y="923.75" width="13.44" height="13.37" fill="#bd1e10"/>
<rect x="405.02" y="923.75" width="13.44" height="13.37" fill="#bd1e10"/>
<rect x="417.46" y="923.75" width="13.44" height="13.37" fill="#bb1d10"/>
<rect x="429.90" y="923.75" width="13.44" height="13.37" fill="#bb1d10"/>
<rect x="442.34" y="923.75" width="13.44" height="13.37" fill="#a41a0e"/>
<rect x="454.78" y="923.75" width="13.44" height="13.37" fill="#98180d"/>
<rect x="467.22" y="923.75" width="13.44" height="13.37" fill="#80140b"/>
<rect x="479.66" y="923.75" width="12.44" height="13.37" fill="#641009"/>
<rect x="367.70" y="936.12" width="13.44" height="13.37" fill="#bd1e10"/>
<rect x="380.14" y="936.12" width="13.44" height="13.37" fill="#b01c0f"/>
<rect x="392.58" y="936.12" width="13.44" height="13.37" fill="#ac1b0f"/>
<rect x="405.02" y="936.12" width="13.44" height="13.37" fill="#b01c0f"/>
<rect x="417.46" y="936.12" width="13.44" height="13.37" fill="#ac1b0f"/>
<rect x="429.90" y="936.12" width="13.44" height="13.37" fill="#98180d"/>
<rect x="442.34" y="936.12" width="13.44" height="13.37" fill="#90170c"/>
<rect x="454.78" y="936.12" width="13.44" height="13.37" fill="#641009"/>
<rect x="467.22" y="936.12" width="13.44" height="13.37" fill="#641009"/>
<rect x="479.66" y="936.12" width="12.44" height="13.37" fill="#5e0f08"/>
<rect x="367.70" y="948.49" width="13.44" height="13.37" fill="#bf1e10"/>
<rect x="380.14" y="948.49" width="13.44" height="13.37" fill="#b21c0f"/>
<rect x="392.58" y="948.49" width="13.44" height="13.37" fill="#98180d"/>
<rect x="405.02" y="948.49" width="13.44" height="13.37" fill="#98180d"/>
<rect x="417.46" y="948.49" width="13.44" height="13.37" fill="#90170c"/>
<rect x="429.90" y="948.49" width="13.44" height="13.37" fill="#6a1109"/>
<rect x="442.34" y="948.49" width="13.44" height="13.37" fill="#580e08"/>
<rect x="454.78" y="948.49" width="13.44" height="13.37" fill="#4f0c07"/>
<rect x="467.22" y="948.49" width="13.44" height="13.37" fill="#4c0c07"/>
<rect x="479.66" y="948.49" width="12.44" height="13.37" fill="#4c0c07"/>
<rect x="367.70" y="960.86" width="13.44" height="13.37" fill="#b91d10"/>
<rect x="380.14" y="960.86" width="13.44" height="13.37" fill="#ac1b0f"/>
<rect x="392.58" y="960.86" width="13.44" height="13.37" fill="#90170c"/>
<rect x="405.02" y="960.86" width="13.44" height="13.37" fill="#88150c"/>
<rect x="417.46" y="960.86" width="13.44" height="13.37" fill="#610f08"/>
<rect x="429.90" y="960.86" width="13.44" height="13.37" fill="#580e08"/>
<rect x="442.34" y="960.86" width="13.44" height="13.37" fill="#370905"/>
<rect x="454.78" y="960.86" width="13.44" height="13.37" fill="#400a06"/>
<rect x="467.22" y="960.86" width="13.44" height="13.37" fill="#2e0704"/>
<rect x="479.66" y="960.86" width="12.44" height="13.37" fill="#2e0704"/>
<rect x="367.70" y="973.23" width="13.44" height="12.37" fill="#bb1d10"/>
<rect x="380.14" y="973.23" width="13.44" height="12.37" fill="#a81a0e"/>
<rect x="392.58" y="973.23" width="13.44" height="12.37" fill="#6a1109"/>
<rect x="405.02" y="973.23" width="13.44" height="12.37" fill="#2c0704"/>
<rect x="417.46" y="973.23" width="13.44" height="12.37" fill="#110302"/>
<rect x="429.90" y="973.23" width="13.44" height="12.37" fill="#040100"/>
<rect x="442.34" y="973.23" width="13.44" height="12.37" fill="#020000"/>
<rect x="454.78" y="973.23" width="13.44" height="12.37" fill="#040100"/>
<rect x="467.22" y="973.23" width="13.44" height="12.37" fill="#000000"/>
<rect x="479.66" y="973.23" width="12.44" height="12.37" fill="#000000"/>
</g>
<g font-size="6.0" fill="#fff" text-anchor="middle">
<text y="870.18" fill="#fff"><tspan x="373.92">24</tspan><tspan x="386.36">24</tspan><tspan x="398.80">24</tspan><tspan x="411.24">24</tspan><tspan x="423.68">30</tspan><tspan x="436.12">30</tspan><tspan x="448.56">30</tspan><tspan x="461.00">31</tspan><tspan x="473.44">31</tspan><tspan x="485.88">37</tspan></text>
<text y="882.55" fill="#fff"><tspan x="373.92">24</tspan><tspan x="386.36">24</tspan><tspan x="398.80">25</tspan><tspan x="411.24">25</tspan><tspan x="423.68">32</tspan><tspan x="436.12">34</tspan><tspan x="448.56">35</tspan><tspan x="461.00">34</tspan><tspan x="473.44">34</tspan><tspan x="485.88">41</tspan></text>
<text y="894.92" fill="#fff"><tspan x="373.92">30</tspan><tspan x="386.36">30</tspan><tspan x="398.80">30</tspan><tspan x="411.24">31</tspan><tspan x="423.68">31</tspan><tspan x="436.12">31</tspan><tspan x="448.56">32</tspan><tspan x="461.00">35</tspan><tspan x="473.44">34</tspan><tspan x="485.88">35</tspan></text>
<text y="907.29" fill="#fff"><tspan x="373.92">30</tspan><tspan x="386.36">31</tspan><tspan x="398.80">30</tspan><tspan x="411.24">30</tspan><tspan x="423.68">33</tspan><tspan x="436.12">35</tspan><tspan x="448.56">35</tspan><tspan x="461.00">36</tspan><tspan x="473.44">37</tspan><tspan x="485.88">42</tspan></text>
<text y="919.66" fill="#fff"><tspan x="373.92">34</tspan><tspan x="386.36">34</tspan><tspan x="398.80">35</tspan><tspan x="411.24">35</tspan><tspan x="423.68">38</tspan><tspan x="436.12">35</tspan><tspan x="448.56">44</tspan><tspan x="461.00">46</tspan><tspan x="473.44">51</tspan><tspan x="485.88">48</tspan></text>
<text y="932.03" fill="#fff"><tspan x="373.92">34</tspan><tspan x="386.36">34</tspan><tspan x="398.80">35</tspan><tspan x="411.24">35</tspan><tspan x="423.68">36</tspan><tspan x="436.12">36</tspan><tspan x="448.56">44</tspan><tspan x="461.00">47</tspan><tspan x="473.44">53</tspan><tspan x="485.88">61</tspan></text>
<text y="944.40" fill="#fff"><tspan x="373.92">35</tspan><tspan x="386.36">41</tspan><tspan x="398.80">42</tspan><tspan x="411.24">41</tspan><tspan x="423.68">42</tspan><tspan x="436.12">47</tspan><tspan x="448.56">49</tspan><tspan x="461.00">61</tspan><tspan x="473.44">61</tspan><tspan x="485.88">63</tspan></text>
<text y="956.77" fill="#fff"><tspan x="373.92">34</tspan><tspan x="386.36">40</tspan><tspan x="398.80">47</tspan><tspan x="411.24">47</tspan><tspan x="423.68">49</tspan><tspan x="436.12">59</tspan><tspan x="448.56">65</tspan><tspan x="461.00">68</tspan><tspan x="473.44">69</tspan><tspan x="485.88">69</tspan></text>
<text y="969.14" fill="#fff"><tspan x="373.92">37</tspan><tspan x="386.36">42</tspan><tspan x="398.80">49</tspan><tspan x="411.24">51</tspan><tspan x="423.68">62</tspan><tspan x="436.12">65</tspan><tspan x="448.56">76</tspan><tspan x="461.00">73</tspan><tspan x="473.44">79</tspan><tspan x="485.88">79</tspan></text>
<text y="981.51" fill="#fff"><tspan x="373.92">36</tspan><tspan x="386.36">43</tspan><tspan x="398.80">59</tspan><tspan x="411.24">80</tspan><tspan x="423.68">92</tspan><tspan x="436.12">98</tspan><tspan x="448.56">99</tspan><tspan x="461.00">98</tspan><tspan x="473.44">100</tspan><tspan x="485.88">100</tspan></text>
</g>
<g>
<rect x="200.00" y="721.40" width="13.26" height="13.32" fill="#097441"/>
<rect x="212.26" y="721.40" width="13.26" height="13.32" fill="#075e35"/>
<rect x="224.52" y="721.40" width="13.26" height="13.32" fill="#054628"/>
<rect x="236.78" y="721.40" width="13.26" height="13.32" fill="#054628"/>
<rect x="249.04" y="721.40" width="13.26" height="13.32" fill="#01120a"/>
<rect x="261.30" y="721.40" width="13.26" height="13.32" fill="#053e23"/>
<rect x="273.56" y="721.40" width="13.26" height="13.32" fill="#065631"/>
<rect x="285.82" y="721.40" width="13.26" height="13.32" fill="#086d3d"/>
<rect x="298.08" y="721.40" width="13.26" height="13.32" fill="#0a8149"/>
<rect x="310.34" y="721.40" width="12.26" height="13.32" fill="#0b9554"/>
<rect x="200.00" y="733.72" width="13.26" height="13.32" fill="#075e35"/>
<rect x="212.26" y="733.72" width="13.26" height="13.32" fill="#01120a"/>
<rect x="224.52" y="733.72" width="13.26" height="13.32" fill="#032d19"/>
<rect x="236.78" y="733.72" width="13.26" height="13.32" fill="#04361e"/>
<rect x="249.04" y="733.72" width="13.26" height="13.32" fill="#01120a"/>
<rect x="261.30" y="733.72" width="13.26" height="13.32" fill="#064e2c"/>
<rect x="273.56" y="733.72" width="13.26" height="13.32" fill="#086d3d"/>
<rect x="285.82" y="733.72" width="13.26" height="13.32" fill="#0b9554"/>
<rect x="298.08" y="733.72" width="13.26" height="13.32" fill="#56b689"/>
<rect x="310.34" y="733.72" width="12.26" height="13.32" fill="#0b9554"/>
<rect x="200.00" y="746.04" width="13.26" height="13.32" fill="#054628"/>
<rect x="212.26" y="746.04" width="13.26" height="13.32" fill="#032d19"/>
<rect x="224.52" y="746.04" width="13.26" height="13.32" fill="#04361e"/>
<rect x="236.78" y="746.04" width="13.26" height="13.32" fill="#053e23"/>
<rect x="249.04" y="746.04" width="13.26" height="13.32" fill="#01120a"/>
<rect x="261.30" y="746.04" width="13.26" height="13.32" fill="#097b45"/>
<rect x="273.56" y="746.04" width="13.26" height="13.32" fill="#0a8d4f"/>
<rect x="285.82" y="746.04" width="13.26" height="13.32" fill="#8eceb0"/>
<rect x="298.08" y="746.04" width="13.26" height="13.32" fill="#7cc6a3"/>
<rect x="310.34" y="746.04" width="12.26" height="13.32" fill="#0b9554"/>
<rect x="200.00" y="758.36" width="13.26" height="13.32" fill="#053e23"/>
<rect x="212.26" y="758.36" width="13.26" height="13.32" fill="#032414"/>
<rect x="224.52" y="758.36" width="13.26" height="13.32" fill="#032414"/>
<rect x="236.78" y="758.36" width="13.26" height="13.32" fill="#086639"/>
<rect x="249.04" y="758.36" width="13.26" height="13.32" fill="#053e23"/>
<rect x="261.30" y="758.36" width="13.26" height="13.32" fill="#0a8d4f"/>
<rect x="273.56" y="758.36" width="13.26" height="13.32" fill="#097441"/>
<rect x="285.82" y="758.36" width="13.26" height="13.32" fill="#0a8d4f"/>
<rect x="298.08" y="758.36" width="13.26" height="13.32" fill="#31a56e"/>
<rect x="310.34" y="758.36" width="12.26" height="13.32" fill="#0b9554"/>
<rect x="200.00" y="770.68" width="13.26" height="13.32" fill="#064e2c"/>
<rect x="212.26" y="770.68" width="13.26" height="13.32" fill="#021b0f"/>
<rect x="224.52" y="770.68" width="13.26" height="13.32" fill="#032414"/>
<rect x="236.78" y="770.68" width="13.26" height="13.32" fill="#053e23"/>
<rect x="249.04" y="770.68" width="13.26" height="13.32" fill="#054628"/>
<rect x="261.30" y="770.68" width="13.26" height="13.32" fill="#0b9152"/>
<rect x="273.56" y="770.68" width="13.26" height="13.32" fill="#0a874c"/>
<rect x="285.82" y="770.68" width="13.26" height="13.32" fill="#0b9152"/>
<rect x="298.08" y="770.68" width="13.26" height="13.32" fill="#097441"/>
<rect x="310.34" y="770.68" width="12.26" height="13.32" fill="#0b9554"/>
<rect x="200.00" y="783.00" width="13.26" height="13.32" fill="#054628"/>
<rect x="212.26" y="783.00" width="13.26" height="13.32" fill="#032d19"/>
<rect x="224.52" y="783.00" width="13.26" height="13.32" fill="#01120a"/>
<rect x="236.78" y="783.00" width="13.26" height="13.32" fill="#064e2c"/>
<rect x="249.04" y="783.00" width="13.26" height="13.32" fill="#054628"/>
<rect x="261.30" y="783.00" width="13.26" height="13.32" fill="#0a8149"/>
<rect x="273.56" y="783.00" width="13.26" height="13.32" fill="#086d3d"/>
<rect x="285.82" y="783.00" width="13.26" height="13.32" fill="#0a8149"/>
<rect x="298.08" y="783.00" width="13.26" height="13.32" fill="#097b45"/>
<rect x="310.34" y="783.00" width="12.26" height="13.32" fill="#0b9554"/>
<rect x="200.00" y="795.32" width="13.26" height="13.32" fill="#064e2c"/>
<rect x="212.26" y="795.32" width="13.26" height="13.32" fill="#054628"/>
<rect x="224.52" y="795.32" width="13.26" height="13.32" fill="#032d19"/>
<rect x="236.78" y="795.32" width="13.26" height="13.32" fill="#075e35"/>
<rect x="249.04" y="795.32" width="13.26" height="13.32" fill="#097b45"/>
<rect x="261.30" y="795.32" width="13.26" height="13.32" fill="#56b689"/>
<rect x="273.56" y="795.32" width="13.26" height="13.32" fill="#0b9152"/>
<rect x="285.82" y="795.32" width="13.26" height="13.32" fill="#0b9554"/>
<rect x="298.08" y="795.32" width="13.26" height="13.32" fill="#097b45"/>
<rect x="310.34" y="795.32" width="12.26" height="13.32" fill="#0b9554"/>
<rect x="200.00" y="807.64" width="13.26" height="13.32" fill="#065631"/>
<rect x="212.26" y="807.64" width="13.26" height="13.32" fill="#064e2c"/>
<rect x="224.52" y="807.64" width="13.26" height="13.32" fill="#053e23"/>
<rect x="236.78" y="807.64" width="13.26" height="13.32" fill="#075e35"/>
<rect x="249.04" y="807.64" width="13.26" height="13.32" fill="#097b45"/>
<rect x="261.30" y="807.64" width="13.26" height="13.32" fill="#7cc6a3"/>
<rect x="273.56" y="807.64" width="13.26" height="13.32" fill="#0a8d4f"/>
<rect x="285.82" y="807.64" width="13.26" height="13.32" fill="#0b9554"/>
<rect x="298.08" y="807.64" width="13.26" height="13.32" fill="#0a874c"/>
<rect x="310.34" y="807.64" width="12.26" height="13.32" fill="#0b9554"/>
<rect x="200.00" y="819.96" width="13.26" height="13.32" fill="#065631"/>
<rect x="212.26" y="819.96" width="13.26" height="13.32" fill="#064e2c"/>
<rect x="224.52" y="819.96" width="13.26" height="13.32" fill="#054628"/>
<rect x="236.78" y="819.96" width="13.26" height="13.32" fill="#075e35"/>
<rect x="249.04" y="819.96" width="13.26" height="13.32" fill="#097441"/>
<rect x="261.30" y="819.96" width="13.26" height="13.32" fill="#56b689"/>
<rect x="273.56" y="819.96" width="13.26" height="13.32" fill="#0a8149"/>
<rect x="285.82" y="819.96" width="13.26" height="13.32" fill="#0b9152"/>
<rect x="298.08" y="819.96" width="13.26" height="13.32" fill="#075e35"/>
<rect x="310.34" y="819.96" width="12.26" height="13.32" fill="#0b9554"/>
<rect x="200.00" y="832.28" width="13.26" height="12.32" fill="#0b9554"/>
<rect x="212.26" y="832.28" width="13.26" height="12.32" fill="#0b9554"/>
<rect x="224.52" y="832.28" width="13.26" height="12.32" fill="#0b9554"/>
<rect x="236.78" y="832.28" width="13.26" height="12.32" fill="#0b9554"/>
<rect x="249.04" y="832.28" width="13.26" height="12.32" fill="#0b9554"/>
<rect x="261.30" y="832.28" width="13.26" height="12.32" fill="#0b9554"/>
<rect x="273.56" y="832.28" width="13.26" height="12.32" fill="#0b9554"/>
<rect x="285.82" y="832.28" width="13.26" height="12.32" fill="#0b9554"/>
<rect x="298.08" y="832.28" width="13.26" height="12.32" fill="#0b9554"/>
<rect x="310.34" y="832.28" width="12.26" height="12.32" fill="#0b9554"/>
</g>
<g font-size="4.0" fill="#fff" text-anchor="middle">
<text y="728.96" fill="#fff"><tspan x="206.13">-0.06</tspan><tspan x="218.39">-0.09</tspan><tspan x="230.65">-0.12</tspan><tspan x="242.91">-0.12</tspan><tspan x="255.17">-0.18</tspan><tspan x="267.43">-0.13</tspan><tspan x="279.69">-0.10</tspan><tspan x="291.95">-0.07</tspan><tspan x="304.21">-0.04</tspan><tspan x="316.47">0.00</tspan></text>
<text y="741.28" fill="#fff"><tspan x="206.13">-0.09</tspan><tspan x="218.39">-0.18</tspan><tspan x="230.65">-0.15</tspan><tspan x="242.91">-0.14</tspan><tspan x="255.17">-0.18</tspan><tspan x="267.43">-0.11</tspan><tspan x="279.69">-0.07</tspan><tspan x="291.95">0.00</tspan><tspan x="304.21">0.04</tspan><tspan x="316.47">0.00</tspan></text>
<text y="753.60" fill="#fff"><tspan x="206.13">-0.12</tspan><tspan x="218.39">-0.15</tspan><tspan x="230.65">-0.14</tspan><tspan x="242.91">-0.13</tspan><tspan x="255.17">-0.18</tspan><tspan x="267.43">-0.05</tspan><tspan x="279.69">-0.02</tspan><tspan x="291.95">0.07</tspan><tspan x="304.21">0.06</tspan><tspan x="316.47">0.00</tspan></text>
<text y="765.92" fill="#fff"><tspan x="206.13">-0.13</tspan><tspan x="218.39">-0.16</tspan><tspan x="230.65">-0.16</tspan><tspan x="242.91">-0.08</tspan><tspan x="255.17">-0.13</tspan><tspan x="267.43">-0.02</tspan><tspan x="279.69">-0.06</tspan><tspan x="291.95">-0.02</tspan><tspan x="304.21">0.02</tspan><tspan x="316.47">0.00</tspan></text>
<text y="778.24" fill="#fff"><tspan x="206.13">-0.11</tspan><tspan x="218.39">-0.17</tspan><tspan x="230.65">-0.16</tspan><tspan x="242.91">-0.13</tspan><tspan x="255.17">-0.12</tspan><tspan x="267.43">-0.01</tspan><tspan x="279.69">-0.03</tspan><tspan x="291.95">-0.01</tspan><tspan x="304.21">-0.06</tspan><tspan x="316.47">0.00</tspan></text>
<text y="790.56" fill="#fff"><tspan x="206.13">-0.12</tspan><tspan x="218.39">-0.15</tspan><tspan x="230.65">-0.18</tspan><tspan x="242.91">-0.11</tspan><tspan x="255.17">-0.12</tspan><tspan x="267.43">-0.04</tspan><tspan x="279.69">-0.07</tspan><tspan x="291.95">-0.04</tspan><tspan x="304.21">-0.05</tspan><tspan x="316.47">0.00</tspan></text>
<text y="802.88" fill="#fff"><tspan x="206.13">-0.11</tspan><tspan x="218.39">-0.12</tspan><tspan x="230.65">-0.15</tspan><tspan x="242.91">-0.09</tspan><tspan x="255.17">-0.05</tspan><tspan x="267.43">0.04</tspan><tspan x="279.69">-0.01</tspan><tspan x="291.95">0.00</tspan><tspan x="304.21">-0.05</tspan><tspan x="316.47">0.00</tspan></text>
<text y="815.20" fill="#fff"><tspan x="206.13">-0.10</tspan><tspan x="218.39">-0.11</tspan><tspan x="230.65">-0.13</tspan><tspan x="242.91">-0.09</tspan><tspan x="255.17">-0.05</tspan><tspan x="267.43">0.06</tspan><tspan x="279.69">-0.02</tspan><tspan x="291.95">0.00</tspan><tspan x="304.21">-0.03</tspan><tspan x="316.47">0.00</tspan></text>
<text y="827.52" fill="#fff"><tspan x="206.13">-0.10</tspan><tspan x="218.39">-0.11</tspan><tspan x="230.65">-0.12</tspan><tspan x="242.91">-0.09</tspan><tspan x="255.17">-0.06</tspan><tspan x="267.43">0.04</tspan><tspan x="279.69">-0.04</tspan><tspan x="291.95">-0.01</tspan><tspan x="304.21">-0.09</tspan><tspan x="316.47">0.00</tspan></text>
<text y="839.84" fill="#fff"><tspan x="206.13">0.00</tspan><tspan x="218.39">0.00</tspan><tspan x="230.65">0.00</tspan><tspan x="242.91">0.00</tspan><tspan x="255.17">0.00</tspan><tspan x="267.43">0.00</tspan><tspan x="279.69">0.00</tspan><tspan x="291.95">0.00</tspan><tspan x="304.21">0.00</tspan><tspan x="316.47">0.00</tspan></text>
</g>
<g>
<rect x="200.00" y="862.00" width="13.26" height="13.36" fill="#6fc09a"/>
<rect x="212.26" y="862.00" width="13.26" height="13.36" fill="#37a873"/>
<rect x="224.52" y="862.00" width="13.26" height="13.36" fill="#42ad7b"/>
<rect x="236.78" y="862.00" width="13.26" height="13.36" fill="#0a874c"/>
<rect x="249.04" y="862.00" width="13.26" height="13.36" fill="#0a8c4f"/>
<rect x="261.30" y="862.00" width="13.26" height="13.36" fill="#0a8c4f"/>
<rect x="273.56" y="862.00" width="13.26" height="13.36" fill="#0a8c4f"/>
<rect x="285.82" y="862.00" width="13.26" height="13.36" fill="#219f64"/>
<rect x="298.08" y="862.00" width="13.26" height="13.36" fill="#0b9152"/>
<rect x="310.34" y="862.00" width="12.26" height="13.36" fill="#0b9554"/>
<rect x="200.00" y="874.36" width="13.26" height="13.36" fill="#4eb283"/>
<rect x="212.26" y="874.36" width="13.26" height="13.36" fill="#2ca36b"/>
<rect x="224.52" y="874.36" width="13.26" height="13.36" fill="#37a873"/>
<rect x="236.78" y="874.36" width="13.26" height="13.36" fill="#0a874c"/>
<rect x="249.04" y="874.36" width="13.26" height="13.36" fill="#0b9554"/>
<rect x="261.30" y="874.36" width="13.26" height="13.36" fill="#169a5c"/>
<rect x="273.56" y="874.36" width="13.26" height="13.36" fill="#0b9554"/>
<rect x="285.82" y="874.36" width="13.26" height="13.36" fill="#0a874c"/>
<rect x="298.08" y="874.36" width="13.26" height="13.36" fill="#087341"/>
<rect x="310.34" y="874.36" width="12.26" height="13.36" fill="#0b9554"/>
<rect x="200.00" y="886.72" width="13.26" height="13.36" fill="#64bc92"/>
<rect x="212.26" y="886.72" width="13.26" height="13.36" fill="#42ad7b"/>
<rect x="224.52" y="886.72" width="13.26" height="13.36" fill="#42ad7b"/>
<rect x="236.78" y="886.72" width="13.26" height="13.36" fill="#0a8c4f"/>
<rect x="249.04" y="886.72" width="13.26" height="13.36" fill="#0b9152"/>
<rect x="261.30" y="886.72" width="13.26" height="13.36" fill="#0a874c"/>
<rect x="273.56" y="886.72" width="13.26" height="13.36" fill="#098048"/>
<rect x="285.82" y="886.72" width="13.26" height="13.36" fill="#087341"/>
<rect x="298.08" y="886.72" width="13.26" height="13.36" fill="#0b9554"/>
<rect x="310.34" y="886.72" width="12.26" height="13.36" fill="#0b9554"/>
<rect x="200.00" y="899.08" width="13.26" height="13.36" fill="#42ad7b"/>
<rect x="212.26" y="899.08" width="13.26" height="13.36" fill="#169a5c"/>
<rect x="224.52" y="899.08" width="13.26" height="13.36" fill="#37a873"/>
<rect x="236.78" y="899.08" width="13.26" height="13.36" fill="#0b9152"/>
<rect x="249.04" y="899.08" width="13.26" height="13.36" fill="#219f64"/>
<rect x="261.30" y="899.08" width="13.26" height="13.36" fill="#098048"/>
<rect x="273.56" y="899.08" width="13.26" height="13.36" fill="#076438"/>
<rect x="285.82" y="899.08" width="13.26" height="13.36" fill="#086c3d"/>
<rect x="298.08" y="899.08" width="13.26" height="13.36" fill="#0a874c"/>
<rect x="310.34" y="899.08" width="12.26" height="13.36" fill="#0b9554"/>
<rect x="200.00" y="911.44" width="13.26" height="13.36" fill="#2ca36b"/>
<rect x="212.26" y="911.44" width="13.26" height="13.36" fill="#098048"/>
<rect x="224.52" y="911.44" width="13.26" height="13.36" fill="#0b9152"/>
<rect x="236.78" y="911.44" width="13.26" height="13.36" fill="#087341"/>
<rect x="249.04" y="911.44" width="13.26" height="13.36" fill="#076438"/>
<rect x="261.30" y="911.44" width="13.26" height="13.36" fill="#065430"/>
<rect x="273.56" y="911.44" width="13.26" height="13.36" fill="#064c2b"/>
<rect x="285.82" y="911.44" width="13.26" height="13.36" fill="#087341"/>
<rect x="298.08" y="911.44" width="13.26" height="13.36" fill="#076438"/>
<rect x="310.34" y="911.44" width="12.26" height="13.36" fill="#0b9554"/>
<rect x="200.00" y="923.80" width="13.26" height="13.36" fill="#169a5c"/>
<rect x="212.26" y="923.80" width="13.26" height="13.36" fill="#098048"/>
<rect x="224.52" y="923.80" width="13.26" height="13.36" fill="#0b9152"/>
<rect x="236.78" y="923.80" width="13.26" height="13.36" fill="#075c34"/>
<rect x="249.04" y="923.80" width="13.26" height="13.36" fill="#076438"/>
<rect x="261.30" y="923.80" width="13.26" height="13.36" fill="#04331c"/>
<rect x="273.56" y="923.80" width="13.26" height="13.36" fill="#02170d"/>
<rect x="285.82" y="923.80" width="13.26" height="13.36" fill="#086c3d"/>
<rect x="298.08" y="923.80" width="13.26" height="13.36" fill="#064c2b"/>
<rect x="310.34" y="923.80" width="12.26" height="13.36" fill="#0b9554"/>
<rect x="200.00" y="936.16" width="13.26" height="13.36" fill="#0b9152"/>
<rect x="212.26" y="936.16" width="13.26" height="13.36" fill="#076438"/>
<rect x="224.52" y="936.16" width="13.26" height="13.36" fill="#0b9152"/>
<rect x="236.78" y="936.16" width="13.26" height="13.36" fill="#086c3d"/>
<rect x="249.04" y="936.16" width="13.26" height="13.36" fill="#0a874c"/>
<rect x="261.30" y="936.16" width="13.26" height="13.36" fill="#076438"/>
<rect x="273.56" y="936.16" width="13.26" height="13.36" fill="#098048"/>
<rect x="285.82" y="936.16" width="13.26" height="13.36" fill="#098048"/>
<rect x="298.08" y="936.16" width="13.26" height="13.36" fill="#169a5c"/>
<rect x="310.34" y="936.16" width="12.26" height="13.36" fill="#0b9554"/>
<rect x="200.00" y="948.52" width="13.26" height="13.36" fill="#0a8c4f"/>
<rect x="212.26" y="948.52" width="13.26" height="13.36" fill="#098048"/>
<rect x="224.52" y="948.52" width="13.26" height="13.36" fill="#097a45"/>
<rect x="236.78" y="948.52" width="13.26" height="13.36" fill="#0a874c"/>
<rect x="249.04" y="948.52" width="13.26" height="13.36" fill="#075c34"/>
<rect x="261.30" y="948.52" width="13.26" height="13.36" fill="#0b9152"/>
<rect x="273.56" y="948.52" width="13.26" height="13.36" fill="#2ca36b"/>
<rect x="285.82" y="948.52" width="13.26" height="13.36" fill="#0b9152"/>
<rect x="298.08" y="948.52" width="13.26" height="13.36" fill="#098048"/>
<rect x="310.34" y="948.52" width="12.26" height="13.36" fill="#0b9554"/>
<rect x="200.00" y="960.88" width="13.26" height="13.36" fill="#0b9152"/>
<rect x="212.26" y="960.88" width="13.26" height="13.36" fill="#097a45"/>
<rect x="224.52" y="960.88" width="13.26" height="13.36" fill="#098048"/>
<rect x="236.78" y="960.88" width="13.26" height="13.36" fill="#219f64"/>
<rect x="249.04" y="960.88" width="13.26" height="13.36" fill="#4eb283"/>
<rect x="261.30" y="960.88" width="13.26" height="13.36" fill="#42ad7b"/>
<rect x="273.56" y="960.88" width="13.26" height="13.36" fill="#4eb283"/>
<rect x="285.82" y="960.88" width="13.26" height="13.36" fill="#2ca36b"/>
<rect x="298.08" y="960.88" width="13.26" height="13.36" fill="#169a5c"/>
<rect x="310.34" y="960.88" width="12.26" height="13.36" fill="#0b9554"/>
<rect x="200.00" y="973.24" width="13.26" height="12.36" fill="#0b9554"/>
<rect x="212.26" y="973.24" width="13.26" height="12.36" fill="#0b9554"/>
<rect x="224.52" y="973.24" width="13.26" height="12.36" fill="#0b9554"/>
<rect x="236.78" y="973.24" width="13.26" height="12.36" fill="#0b9554"/>
<rect x="249.04" y="973.24" width="13.26" height="12.36" fill="#0b9554"/>
<rect x="261.30" y="973.24" width="13.26" height="12.36" fill="#0b9554"/>
<rect x="273.56" y="973.24" width="13.26" height="12.36" fill="#0b9554"/>
<rect x="285.82" y="973.24" width="13.26" height="12.36" fill="#0b9554"/>
<rect x="298.08" y="973.24" width="13.26" height="12.36" fill="#0b9554"/>
<rect x="310.34" y="973.24" width="12.26" height="12.36" fill="#0b9554"/>
</g>
<g font-size="4.0" fill="#fff" text-anchor="middle">
<text y="869.58" fill="#fff"><tspan x="206.13">0.09</tspan><tspan x="218.39">0.04</tspan><tspan x="230.65">0.05</tspan><tspan x="242.91">-0.03</tspan><tspan x="255.17">-0.02</tspan><tspan x="267.43">-0.02</tspan><tspan x="279.69">-0.02</tspan><tspan x="291.95">0.02</tspan><tspan x="304.21">-0.01</tspan><tspan x="316.47">0.00</tspan></text>
<text y="881.94" fill="#fff"><tspan x="206.13">0.06</tspan><tspan x="218.39">0.03</tspan><tspan x="230.65">0.04</tspan><tspan x="242.91">-0.03</tspan><tspan x="255.17">0.00</tspan><tspan x="267.43">0.01</tspan><tspan x="279.69">0.00</tspan><tspan x="291.95">-0.03</tspan><tspan x="304.21">-0.06</tspan><tspan x="316.47">0.00</tspan></text>
<text y="894.30" fill="#fff"><tspan x="206.13">0.08</tspan><tspan x="218.39">0.05</tspan><tspan x="230.65">0.05</tspan><tspan x="242.91">-0.02</tspan><tspan x="255.17">-0.01</tspan><tspan x="267.43">-0.03</tspan><tspan x="279.69">-0.04</tspan><tspan x="291.95">-0.06</tspan><tspan x="304.21">0.00</tspan><tspan x="316.47">0.00</tspan></text>
<text y="906.66" fill="#fff"><tspan x="206.13">0.05</tspan><tspan x="218.39">0.01</tspan><tspan x="230.65">0.04</tspan><tspan x="242.91">-0.01</tspan><tspan x="255.17">0.02</tspan><tspan x="267.43">-0.04</tspan><tspan x="279.69">-0.08</tspan><tspan x="291.95">-0.07</tspan><tspan x="304.21">-0.03</tspan><tspan x="316.47">0.00</tspan></text>
<text y="919.02" fill="#fff"><tspan x="206.13">0.03</tspan><tspan x="218.39">-0.04</tspan><tspan x="230.65">-0.01</tspan><tspan x="242.91">-0.06</tspan><tspan x="255.17">-0.08</tspan><tspan x="267.43">-0.10</tspan><tspan x="279.69">-0.11</tspan><tspan x="291.95">-0.06</tspan><tspan x="304.21">-0.08</tspan><tspan x="316.47">0.00</tspan></text>
<text y="931.38" fill="#fff"><tspan x="206.13">0.01</tspan><tspan x="218.39">-0.04</tspan><tspan x="230.65">-0.01</tspan><tspan x="242.91">-0.09</tspan><tspan x="255.17">-0.08</tspan><tspan x="267.43">-0.14</tspan><tspan x="279.69">-0.17</tspan><tspan x="291.95">-0.07</tspan><tspan x="304.21">-0.11</tspan><tspan x="316.47">0.00</tspan></text>
<text y="943.74" fill="#fff"><tspan x="206.13">-0.01</tspan><tspan x="218.39">-0.08</tspan><tspan x="230.65">-0.01</tspan><tspan x="242.91">-0.07</tspan><tspan x="255.17">-0.03</tspan><tspan x="267.43">-0.08</tspan><tspan x="279.69">-0.04</tspan><tspan x="291.95">-0.04</tspan><tspan x="304.21">0.01</tspan><tspan x="316.47">0.00</tspan></text>
<text y="956.10" fill="#fff"><tspan x="206.13">-0.02</tspan><tspan x="218.39">-0.04</tspan><tspan x="230.65">-0.05</tspan><tspan x="242.91">-0.03</tspan><tspan x="255.17">-0.09</tspan><tspan x="267.43">-0.01</tspan><tspan x="279.69">0.03</tspan><tspan x="291.95">-0.01</tspan><tspan x="304.21">-0.04</tspan><tspan x="316.47">0.00</tspan></text>
<text y="968.46" fill="#fff"><tspan x="206.13">-0.01</tspan><tspan x="218.39">-0.05</tspan><tspan x="230.65">-0.04</tspan><tspan x="242.91">0.02</tspan><tspan x="255.17">0.06</tspan><tspan x="267.43">0.05</tspan><tspan x="279.69">0.06</tspan><tspan x="291.95">0.03</tspan><tspan x="304.21">0.01</tspan><tspan x="316.47">0.00</tspan></text>
<text y="980.82" fill="#fff"><tspan x="206.13">0.00</tspan><tspan x="218.39">0.00</tspan><tspan x="230.65">0.00</tspan><tspan x="242.91">0.00</tspan><tspan x="255.17">0.00</tspan><tspan x="267.43">0.00</tspan><tspan x="279.69">0.00</tspan><tspan x="291.95">0.00</tspan><tspan x="304.21">0.00</tspan><tspan x="316.47">0.00</tspan></text>
</g>
<g>
<rect x="504.00" y="721.40" width="13.35" height="13.35" fill="#2ba36a"/>
<rect x="516.35" y="721.40" width="13.35" height="13.35" fill="#209e63"/>
<rect x="528.70" y="721.40" width="13.35" height="13.35" fill="#209e63"/>
<rect x="541.05" y="721.40" width="13.35" height="13.35" fill="#0b8f51"/>
<rect x="553.40" y="721.40" width="13.35" height="13.35" fill="#097d47"/>
<rect x="565.75" y="721.40" width="13.35" height="13.35" fill="#0a894d"/>
<rect x="578.10" y="721.40" width="13.35" height="13.35" fill="#0b8f51"/>
<rect x="590.45" y="721.40" width="13.35" height="13.35" fill="#0b9554"/>
<rect x="602.80" y="721.40" width="13.35" height="13.35" fill="#169a5b"/>
<rect x="615.15" y="721.40" width="12.35" height="13.35" fill="#0b9554"/>
<rect x="504.00" y="733.75" width="13.35" height="13.35" fill="#60ba8f"/>
<rect x="516.35" y="733.75" width="13.35" height="13.35" fill="#55b588"/>
<rect x="528.70" y="733.75" width="13.35" height="13.35" fill="#40ac79"/>
<rect x="541.05" y="733.75" width="13.35" height="13.35" fill="#169a5b"/>
<rect x="553.40" y="733.75" width="13.35" height="13.35" fill="#0a894d"/>
<rect x="565.75" y="733.75" width="13.35" height="13.35" fill="#0a894d"/>
<rect x="578.10" y="733.75" width="13.35" height="13.35" fill="#0a834a"/>
<rect x="590.45" y="733.75" width="13.35" height="13.35" fill="#0a894d"/>
<rect x="602.80" y="733.75" width="13.35" height="13.35" fill="#0b9554"/>
<rect x="615.15" y="733.75" width="12.35" height="13.35" fill="#0b9554"/>
<rect x="504.00" y="746.10" width="13.35" height="13.35" fill="#75c39e"/>
<rect x="516.35" y="746.10" width="13.35" height="13.35" fill="#80c8a6"/>
<rect x="528.70" y="746.10" width="13.35" height="13.35" fill="#40ac79"/>
<rect x="541.05" y="746.10" width="13.35" height="13.35" fill="#2ba36a"/>
<rect x="553.40" y="746.10" width="13.35" height="13.35" fill="#0a834a"/>
<rect x="565.75" y="746.10" width="13.35" height="13.35" fill="#0a894d"/>
<rect x="578.10" y="746.10" width="13.35" height="13.35" fill="#097d47"/>
<rect x="590.45" y="746.10" width="13.35" height="13.35" fill="#0a894d"/>
<rect x="602.80" y="746.10" width="13.35" height="13.35" fill="#169a5b"/>
<rect x="615.15" y="746.10" width="12.35" height="13.35" fill="#0b9554"/>
<rect x="504.00" y="758.45" width="13.35" height="13.35" fill="#60ba8f"/>
<rect x="516.35" y="758.45" width="13.35" height="13.35" fill="#6abe97"/>
<rect x="528.70" y="758.45" width="13.35" height="13.35" fill="#4bb181"/>
<rect x="541.05" y="758.45" width="13.35" height="13.35" fill="#0b8f51"/>
<rect x="553.40" y="758.45" width="13.35" height="13.35" fill="#086b3c"/>
<rect x="565.75" y="758.45" width="13.35" height="13.35" fill="#087140"/>
<rect x="578.10" y="758.45" width="13.35" height="13.35" fill="#097743"/>
<rect x="590.45" y="758.45" width="13.35" height="13.35" fill="#097d47"/>
<rect x="602.80" y="758.45" width="13.35" height="13.35" fill="#0b8f51"/>
<rect x="615.15" y="758.45" width="12.35" height="13.35" fill="#0b9554"/>
<rect x="504.00" y="770.80" width="13.35" height="13.35" fill="#0a834a"/>
<rect x="516.35" y="770.80" width="13.35" height="13.35" fill="#087140"/>
<rect x="528.70" y="770.80" width="13.35" height="13.35" fill="#075932"/>
<rect x="541.05" y="770.80" width="13.35" height="13.35" fill="#02180d"/>
<rect x="553.40" y="770.80" width="13.35" height="13.35" fill="#000000"/>
<rect x="565.75" y="770.80" width="13.35" height="13.35" fill="#021e11"/>
<rect x="578.10" y="770.80" width="13.35" height="13.35" fill="#06532f"/>
<rect x="590.45" y="770.80" width="13.35" height="13.35" fill="#086b3c"/>
<rect x="602.80" y="770.80" width="13.35" height="13.35" fill="#097d47"/>
<rect x="615.15" y="770.80" width="12.35" height="13.35" fill="#0b9554"/>
<rect x="504.00" y="783.15" width="13.35" height="13.35" fill="#0b9554"/>
<rect x="516.35" y="783.15" width="13.35" height="13.35" fill="#087140"/>
<rect x="528.70" y="783.15" width="13.35" height="13.35" fill="#0b8f51"/>
<rect x="541.05" y="783.15" width="13.35" height="13.35" fill="#087140"/>
<rect x="553.40" y="783.15" width="13.35" height="13.35" fill="#209e63"/>
<rect x="565.75" y="783.15" width="13.35" height="13.35" fill="#2ba36a"/>
<rect x="578.10" y="783.15" width="13.35" height="13.35" fill="#209e63"/>
<rect x="590.45" y="783.15" width="13.35" height="13.35" fill="#209e63"/>
<rect x="602.80" y="783.15" width="13.35" height="13.35" fill="#209e63"/>
<rect x="615.15" y="783.15" width="12.35" height="13.35" fill="#0b9554"/>
<rect x="504.00" y="795.50" width="13.35" height="13.35" fill="#076539"/>
<rect x="516.35" y="795.50" width="13.35" height="13.35" fill="#075932"/>
<rect x="528.70" y="795.50" width="13.35" height="13.35" fill="#075f36"/>
<rect x="541.05" y="795.50" width="13.35" height="13.35" fill="#04301b"/>
<rect x="553.40" y="795.50" width="13.35" height="13.35" fill="#076539"/>
<rect x="565.75" y="795.50" width="13.35" height="13.35" fill="#169a5b"/>
<rect x="578.10" y="795.50" width="13.35" height="13.35" fill="#0b9554"/>
<rect x="590.45" y="795.50" width="13.35" height="13.35" fill="#0b9554"/>
<rect x="602.80" y="795.50" width="13.35" height="13.35" fill="#169a5b"/>
<rect x="615.15" y="795.50" width="12.35" height="13.35" fill="#0b9554"/>
<rect x="504.00" y="807.85" width="13.35" height="13.35" fill="#0b8f51"/>
<rect x="516.35" y="807.85" width="13.35" height="13.35" fill="#064d2c"/>
<rect x="528.70" y="807.85" width="13.35" height="13.35" fill="#086b3c"/>
<rect x="541.05" y="807.85" width="13.35" height="13.35" fill="#04301b"/>
<rect x="553.40" y="807.85" width="13.35" height="13.35" fill="#097d47"/>
<rect x="565.75" y="807.85" width="13.35" height="13.35" fill="#169a5b"/>
<rect x="578.10" y="807.85" width="13.35" height="13.35" fill="#2ba36a"/>
<rect x="590.45" y="807.85" width="13.35" height="13.35" fill="#209e63"/>
<rect x="602.80" y="807.85" width="13.35" height="13.35" fill="#35a772"/>
<rect x="615.15" y="807.85" width="12.35" height="13.35" fill="#0b9554"/>
<rect x="504.00" y="820.20" width="13.35" height="13.35" fill="#0b9554"/>
<rect x="516.35" y="820.20" width="13.35" height="13.35" fill="#097743"/>
<rect x="528.70" y="820.20" width="13.35" height="13.35" fill="#097743"/>
<rect x="541.05" y="820.20" width="13.35" height="13.35" fill="#086b3c"/>
<rect x="553.40" y="820.20" width="13.35" height="13.35" fill="#0b8f51"/>
<rect x="565.75" y="820.20" width="13.35" height="13.35" fill="#209e63"/>
<rect x="578.10" y="820.20" width="13.35" height="13.35" fill="#35a772"/>
<rect x="590.45" y="820.20" width="13.35" height="13.35" fill="#2ba36a"/>
<rect x="602.80" y="820.20" width="13.35" height="13.35" fill="#40ac79"/>
<rect x="615.15" y="820.20" width="12.35" height="13.35" fill="#0b9554"/>
<rect x="504.00" y="832.55" width="13.35" height="12.35" fill="#0b9554"/>
<rect x="516.35" y="832.55" width="13.35" height="12.35" fill="#0b9554"/>
<rect x="528.70" y="832.55" width="13.35" height="12.35" fill="#0b9554"/>
<rect x="541.05" y="832.55" width="13.35" height="12.35" fill="#0b9554"/>
<rect x="553.40" y="832.55" width="13.35" height="12.35" fill="#0b9554"/>
<rect x="565.75" y="832.55" width="13.35" height="12.35" fill="#0b9554"/>
<rect x="578.10" y="832.55" width="13.35" height="12.35" fill="#0b9554"/>
<rect x="590.45" y="832.55" width="13.35" height="12.35" fill="#0b9554"/>
<rect x="602.80" y="832.55" width="13.35" height="12.35" fill="#0b9554"/>
<rect x="615.15" y="832.55" width="12.35" height="12.35" fill="#0b9554"/>
</g>
<g font-size="4.0" fill="#fff" text-anchor="middle">
<text y="728.97" fill="#fff"><tspan x="510.18">0.03</tspan><tspan x="522.52">0.02</tspan><tspan x="534.88">0.02</tspan><tspan x="547.22">-0.01</tspan><tspan x="559.57">-0.04</tspan><tspan x="571.92">-0.02</tspan><tspan x="584.27">-0.01</tspan><tspan x="596.62">0.00</tspan><tspan x="608.97">0.01</tspan><tspan x="621.32">0.00</tspan></text>
<text y="741.32" fill="#fff"><tspan x="510.18">0.08</tspan><tspan x="522.52">0.07</tspan><tspan x="534.88">0.05</tspan><tspan x="547.22">0.01</tspan><tspan x="559.57">-0.02</tspan><tspan x="571.92">-0.02</tspan><tspan x="584.27">-0.03</tspan><tspan x="596.62">-0.02</tspan><tspan x="608.97">0.00</tspan><tspan x="621.32">0.00</tspan></text>
<text y="753.67" fill="#fff"><tspan x="510.18">0.10</tspan><tspan x="522.52">0.11</tspan><tspan x="534.88">0.05</tspan><tspan x="547.22">0.03</tspan><tspan x="559.57">-0.03</tspan><tspan x="571.92">-0.02</tspan><tspan x="584.27">-0.04</tspan><tspan x="596.62">-0.02</tspan><tspan x="608.97">0.01</tspan><tspan x="621.32">0.00</tspan></text>
<text y="766.02" fill="#fff"><tspan x="510.18">0.08</tspan><tspan x="522.52">0.09</tspan><tspan x="534.88">0.06</tspan><tspan x="547.22">-0.01</tspan><tspan x="559.57">-0.07</tspan><tspan x="571.92">-0.06</tspan><tspan x="584.27">-0.05</tspan><tspan x="596.62">-0.04</tspan><tspan x="608.97">-0.01</tspan><tspan x="621.32">0.00</tspan></text>
<text y="778.37" fill="#fff"><tspan x="510.18">-0.03</tspan><tspan x="522.52">-0.06</tspan><tspan x="534.88">-0.10</tspan><tspan x="547.22">-0.21</tspan><tspan x="559.57">-0.25</tspan><tspan x="571.92">-0.20</tspan><tspan x="584.27">-0.11</tspan><tspan x="596.62">-0.07</tspan><tspan x="608.97">-0.04</tspan><tspan x="621.32">0.00</tspan></text>
<text y="790.72" fill="#fff"><tspan x="510.18">0.00</tspan><tspan x="522.52">-0.06</tspan><tspan x="534.88">-0.01</tspan><tspan x="547.22">-0.06</tspan><tspan x="559.57">0.02</tspan><tspan x="571.92">0.03</tspan><tspan x="584.27">0.02</tspan><tspan x="596.62">0.02</tspan><tspan x="608.97">0.02</tspan><tspan x="621.32">0.00</tspan></text>
<text y="803.07" fill="#fff"><tspan x="510.18">-0.08</tspan><tspan x="522.52">-0.10</tspan><tspan x="534.88">-0.09</tspan><tspan x="547.22">-0.17</tspan><tspan x="559.57">-0.08</tspan><tspan x="571.92">0.01</tspan><tspan x="584.27">0.00</tspan><tspan x="596.62">0.00</tspan><tspan x="608.97">0.01</tspan><tspan x="621.32">0.00</tspan></text>
<text y="815.42" fill="#fff"><tspan x="510.18">-0.01</tspan><tspan x="522.52">-0.12</tspan><tspan x="534.88">-0.07</tspan><tspan x="547.22">-0.17</tspan><tspan x="559.57">-0.04</tspan><tspan x="571.92">0.01</tspan><tspan x="584.27">0.03</tspan><tspan x="596.62">0.02</tspan><tspan x="608.97">0.04</tspan><tspan x="621.32">0.00</tspan></text>
<text y="827.77" fill="#fff"><tspan x="510.18">0.00</tspan><tspan x="522.52">-0.05</tspan><tspan x="534.88">-0.05</tspan><tspan x="547.22">-0.07</tspan><tspan x="559.57">-0.01</tspan><tspan x="571.92">0.02</tspan><tspan x="584.27">0.04</tspan><tspan x="596.62">0.03</tspan><tspan x="608.97">0.05</tspan><tspan x="621.32">0.00</tspan></text>
<text y="840.12" fill="#fff"><tspan x="510.18">0.00</tspan><tspan x="522.52">0.00</tspan><tspan x="534.88">0.00</tspan><tspan x="547.22">0.00</tspan><tspan x="559.57">0.00</tspan><tspan x="571.92">0.00</tspan><tspan x="584.27">0.00</tspan><tspan x="596.62">0.00</tspan><tspan x="608.97">0.00</tspan><tspan x="621.32">0.00</tspan></text>
</g>
<g>
<rect x="503.60" y="861.90" width="13.39" height="13.41" fill="#8eceb0"/>
<rect x="515.99" y="861.90" width="13.39" height="13.41" fill="#6abe97"/>
<rect x="528.38" y="861.90" width="13.39" height="13.41" fill="#2fa56d"/>
<rect x="540.77" y="861.90" width="13.39" height="13.41" fill="#097743"/>
<rect x="553.16" y="861.90" width="13.39" height="13.41" fill="#0a834a"/>
<rect x="565.55" y="861.90" width="13.39" height="13.41" fill="#087140"/>
<rect x="577.94" y="861.90" width="13.39" height="13.41" fill="#087140"/>
<rect x="590.33" y="861.90" width="13.39" height="13.41" fill="#097743"/>
<rect x="602.72" y="861.90" width="13.39" height="13.41" fill="#087140"/>
<rect x="615.11" y="861.90" width="12.39" height="13.41" fill="#0b9554"/>
<rect x="503.60" y="874.31" width="13.39" height="13.41" fill="#76c49f"/>
<rect x="515.99" y="874.31" width="13.39" height="13.41" fill="#5eb98e"/>
<rect x="528.38" y="874.31" width="13.39" height="13.41" fill="#179a5c"/>
<rect x="540.77" y="874.31" width="13.39" height="13.41" fill="#076539"/>
<rect x="553.16" y="874.31" width="13.39" height="13.41" fill="#087140"/>
<rect x="565.55" y="874.31" width="13.39" height="13.41" fill="#087140"/>
<rect x="577.94" y="874.31" width="13.39" height="13.41" fill="#097743"/>
<rect x="590.33" y="874.31" width="13.39" height="13.41" fill="#087140"/>
<rect x="602.72" y="874.31" width="13.39" height="13.41" fill="#086b3c"/>
<rect x="615.11" y="874.31" width="12.39" height="13.41" fill="#0b9554"/>
<rect x="503.60" y="886.72" width="13.39" height="13.41" fill="#d5ede2"/>
<rect x="515.99" y="886.72" width="13.39" height="13.41" fill="#bee3d1"/>
<rect x="528.38" y="886.72" width="13.39" height="13.41" fill="#76c49f"/>
<rect x="540.77" y="886.72" width="13.39" height="13.41" fill="#2fa56d"/>
<rect x="553.16" y="886.72" width="13.39" height="13.41" fill="#0a894d"/>
<rect x="565.55" y="886.72" width="13.39" height="13.41" fill="#097d47"/>
<rect x="577.94" y="886.72" width="13.39" height="13.41" fill="#0a834a"/>
<rect x="590.33" y="886.72" width="13.39" height="13.41" fill="#179a5c"/>
<rect x="602.72" y="886.72" width="13.39" height="13.41" fill="#0b8f51"/>
<rect x="615.11" y="886.72" width="12.39" height="13.41" fill="#0b9554"/>
<rect x="503.60" y="899.13" width="13.39" height="13.41" fill="#bee3d1"/>
<rect x="515.99" y="899.13" width="13.39" height="13.41" fill="#a6d8c0"/>
<rect x="528.38" y="899.13" width="13.39" height="13.41" fill="#52b486"/>
<rect x="540.77" y="899.13" width="13.39" height="13.41" fill="#0a834a"/>
<rect x="553.16" y="899.13" width="13.39" height="13.41" fill="#0a834a"/>
<rect x="565.55" y="899.13" width="13.39" height="13.41" fill="#087140"/>
<rect x="577.94" y="899.13" width="13.39" height="13.41" fill="#086b3c"/>
<rect x="590.33" y="899.13" width="13.39" height="13.41" fill="#0a834a"/>
<rect x="602.72" y="899.13" width="13.39" height="13.41" fill="#097d47"/>
<rect x="615.11" y="899.13" width="12.39" height="13.41" fill="#0b9554"/>
<rect x="503.60" y="911.54" width="13.39" height="13.41" fill="#d5ede2"/>
<rect x="515.99" y="911.54" width="13.39" height="13.41" fill="#b2ddc9"/>
<rect x="528.38" y="911.54" width="13.39" height="13.41" fill="#52b486"/>
<rect x="540.77" y="911.54" width="13.39" height="13.41" fill="#0a834a"/>
<rect x="553.16" y="911.54" width="13.39" height="13.41" fill="#087140"/>
<rect x="565.55" y="911.54" width="13.39" height="13.41" fill="#06532f"/>
<rect x="577.94" y="911.54" width="13.39" height="13.41" fill="#0a834a"/>
<rect x="590.33" y="911.54" width="13.39" height="13.41" fill="#0b8f51"/>
<rect x="602.72" y="911.54" width="13.39" height="13.41" fill="#2fa56d"/>
<rect x="615.11" y="911.54" width="12.39" height="13.41" fill="#0b9554"/>
<rect x="503.60" y="923.95" width="13.39" height="13.41" fill="#9ad3b8"/>
<rect x="515.99" y="923.95" width="13.39" height="13.41" fill="#6abe97"/>
<rect x="528.38" y="923.95" width="13.39" height="13.41" fill="#0b8f51"/>
<rect x="540.77" y="923.95" width="13.39" height="13.41" fill="#054225"/>
<rect x="553.16" y="923.95" width="13.39" height="13.41" fill="#02180d"/>
<rect x="565.55" y="923.95" width="13.39" height="13.41" fill="#000603"/>
<rect x="577.94" y="923.95" width="13.39" height="13.41" fill="#04361e"/>
<rect x="590.33" y="923.95" width="13.39" height="13.41" fill="#054828"/>
<rect x="602.72" y="923.95" width="13.39" height="13.41" fill="#076539"/>
<rect x="615.11" y="923.95" width="12.39" height="13.41" fill="#0b9554"/>
<rect x="503.60" y="936.36" width="13.39" height="13.41" fill="#9ad3b8"/>
<rect x="515.99" y="936.36" width="13.39" height="13.41" fill="#b2ddc9"/>
<rect x="528.38" y="936.36" width="13.39" height="13.41" fill="#3baa75"/>
<rect x="540.77" y="936.36" width="13.39" height="13.41" fill="#075f36"/>
<rect x="553.16" y="936.36" width="13.39" height="13.41" fill="#04301b"/>
<rect x="565.55" y="936.36" width="13.39" height="13.41" fill="#043c22"/>
<rect x="577.94" y="936.36" width="13.39" height="13.41" fill="#054828"/>
<rect x="590.33" y="936.36" width="13.39" height="13.41" fill="#0b8f51"/>
<rect x="602.72" y="936.36" width="13.39" height="13.41" fill="#0a894d"/>
<rect x="615.11" y="936.36" width="12.39" height="13.41" fill="#0b9554"/>
<rect x="503.60" y="948.77" width="13.39" height="13.41" fill="#76c49f"/>
<rect x="515.99" y="948.77" width="13.39" height="13.41" fill="#82c9a7"/>
<rect x="528.38" y="948.77" width="13.39" height="13.41" fill="#52b486"/>
<rect x="540.77" y="948.77" width="13.39" height="13.41" fill="#076539"/>
<rect x="553.16" y="948.77" width="13.39" height="13.41" fill="#054225"/>
<rect x="565.55" y="948.77" width="13.39" height="13.41" fill="#076539"/>
<rect x="577.94" y="948.77" width="13.39" height="13.41" fill="#0a894d"/>
<rect x="590.33" y="948.77" width="13.39" height="13.41" fill="#0b9554"/>
<rect x="602.72" y="948.77" width="13.39" height="13.41" fill="#0b9554"/>
<rect x="615.11" y="948.77" width="12.39" height="13.41" fill="#0b9554"/>
<rect x="503.60" y="961.18" width="13.39" height="13.41" fill="#6abe97"/>
<rect x="515.99" y="961.18" width="13.39" height="13.41" fill="#6abe97"/>
<rect x="528.38" y="961.18" width="13.39" height="13.41" fill="#239f65"/>
<rect x="540.77" y="961.18" width="13.39" height="13.41" fill="#064d2c"/>
<rect x="553.16" y="961.18" width="13.39" height="13.41" fill="#06532f"/>
<rect x="565.55" y="961.18" width="13.39" height="13.41" fill="#054828"/>
<rect x="577.94" y="961.18" width="13.39" height="13.41" fill="#0a834a"/>
<rect x="590.33" y="961.18" width="13.39" height="13.41" fill="#097743"/>
<rect x="602.72" y="961.18" width="13.39" height="13.41" fill="#0b9554"/>
<rect x="615.11" y="961.18" width="12.39" height="13.41" fill="#0b9554"/>
<rect x="503.60" y="973.59" width="13.39" height="12.41" fill="#0b9554"/>
<rect x="515.99" y="973.59" width="13.39" height="12.41" fill="#0b9554"/>
<rect x="528.38" y="973.59" width="13.39" height="12.41" fill="#0b9554"/>
<rect x="540.77" y="973.59" width="13.39" height="12.41" fill="#0b9554"/>
<rect x="553.16" y="973.59" width="13.39" height="12.41" fill="#0b9554"/>
<rect x="565.55" y="973.59" width="13.39" height="12.41" fill="#0b9554"/>
<rect x="577.94" y="973.59" width="13.39" height="12.41" fill="#0b9554"/>
<rect x="590.33" y="973.59" width="13.39" height="12.41" fill="#0b9554"/>
<rect x="602.72" y="973.59" width="13.39" height="12.41" fill="#0b9554"/>
<rect x="615.11" y="973.59" width="12.39" height="12.41" fill="#0b9554"/>
</g>
<g font-size="4.0" fill="#fff" text-anchor="middle">
<text y="869.50" fill="#fff"><tspan x="509.80">0.11</tspan><tspan x="522.19">0.08</tspan><tspan x="534.58">0.03</tspan><tspan x="546.97">-0.05</tspan><tspan x="559.36">-0.03</tspan><tspan x="571.75">-0.06</tspan><tspan x="584.14">-0.06</tspan><tspan x="596.53">-0.05</tspan><tspan x="608.92">-0.06</tspan><tspan x="621.31">0.00</tspan></text>
<text y="881.91" fill="#fff"><tspan x="509.80">0.09</tspan><tspan x="522.19">0.07</tspan><tspan x="534.58">0.01</tspan><tspan x="546.97">-0.08</tspan><tspan x="559.36">-0.06</tspan><tspan x="571.75">-0.06</tspan><tspan x="584.14">-0.05</tspan><tspan x="596.53">-0.06</tspan><tspan x="608.92">-0.07</tspan><tspan x="621.31">0.00</tspan></text>
<text y="894.33" fill="#fff"><tspan x="509.80">0.17</tspan><tspan x="522.19">0.15</tspan><tspan x="534.58">0.09</tspan><tspan x="546.97">0.03</tspan><tspan x="559.36">-0.02</tspan><tspan x="571.75">-0.04</tspan><tspan x="584.14">-0.03</tspan><tspan x="596.53">0.01</tspan><tspan x="608.92">-0.01</tspan><tspan x="621.31">0.00</tspan></text>
<text y="906.74" fill="#fff"><tspan x="509.80">0.15</tspan><tspan x="522.19">0.13</tspan><tspan x="534.58">0.06</tspan><tspan x="546.97">-0.03</tspan><tspan x="559.36">-0.03</tspan><tspan x="571.75">-0.06</tspan><tspan x="584.14">-0.07</tspan><tspan x="596.53">-0.03</tspan><tspan x="608.92">-0.04</tspan><tspan x="621.31">0.00</tspan></text>
<text y="919.14" fill="#fff"><tspan x="509.80">0.17</tspan><tspan x="522.19">0.14</tspan><tspan x="534.58">0.06</tspan><tspan x="546.97">-0.03</tspan><tspan x="559.36">-0.06</tspan><tspan x="571.75">-0.11</tspan><tspan x="584.14">-0.03</tspan><tspan x="596.53">-0.01</tspan><tspan x="608.92">0.03</tspan><tspan x="621.31">0.00</tspan></text>
<text y="931.55" fill="#fff"><tspan x="509.80">0.12</tspan><tspan x="522.19">0.08</tspan><tspan x="534.58">-0.01</tspan><tspan x="546.97">-0.14</tspan><tspan x="559.36">-0.21</tspan><tspan x="571.75">-0.24</tspan><tspan x="584.14">-0.16</tspan><tspan x="596.53">-0.13</tspan><tspan x="608.92">-0.08</tspan><tspan x="621.31">0.00</tspan></text>
<text y="943.97" fill="#fff"><tspan x="509.80">0.12</tspan><tspan x="522.19">0.14</tspan><tspan x="534.58">0.04</tspan><tspan x="546.97">-0.09</tspan><tspan x="559.36">-0.17</tspan><tspan x="571.75">-0.15</tspan><tspan x="584.14">-0.13</tspan><tspan x="596.53">-0.01</tspan><tspan x="608.92">-0.02</tspan><tspan x="621.31">0.00</tspan></text>
<text y="956.38" fill="#fff"><tspan x="509.80">0.09</tspan><tspan x="522.19">0.10</tspan><tspan x="534.58">0.06</tspan><tspan x="546.97">-0.08</tspan><tspan x="559.36">-0.14</tspan><tspan x="571.75">-0.08</tspan><tspan x="584.14">-0.02</tspan><tspan x="596.53">0.00</tspan><tspan x="608.92">0.00</tspan><tspan x="621.31">0.00</tspan></text>
<text y="968.78" fill="#fff"><tspan x="509.80">0.08</tspan><tspan x="522.19">0.08</tspan><tspan x="534.58">0.02</tspan><tspan x="546.97">-0.12</tspan><tspan x="559.36">-0.11</tspan><tspan x="571.75">-0.13</tspan><tspan x="584.14">-0.03</tspan><tspan x="596.53">-0.05</tspan><tspan x="608.92">0.00</tspan><tspan x="621.31">0.00</tspan></text>
<text y="981.19" fill="#fff"><tspan x="509.80">0.00</tspan><tspan x="522.19">0.00</tspan><tspan x="534.58">0.00</tspan><tspan x="546.97">0.00</tspan><tspan x="559.36">0.00</tspan><tspan x="571.75">0.00</tspan><tspan x="584.14">0.00</tspan><tspan x="596.53">0.00</tspan><tspan x="608.92">0.00</tspan><tspan x="621.31">0.00</tspan></text>
</g>
<text x="56.60" y="779.30" font-size="12.65" text-anchor="middle" transform="rotate(-90 56.60 779.30)">Palbocicib + Alpelisib</text>
<text x="56.60" y="920.70" font-size="13.4" text-anchor="middle" transform="rotate(-90 56.60 920.70)">Palbocicib + GDC-0032</text>
<text x="357.40" y="788.50" font-size="12.7" text-anchor="middle" transform="rotate(-90 357.40 788.50)">Palbocicib + Apitolisib</text>
<text x="357.10" y="926.30" font-size="12.55" text-anchor="middle" transform="rotate(-90 357.10 926.30)">Palbocicib + Pictilisib</text>
</g>
</svg>
</body></html>
